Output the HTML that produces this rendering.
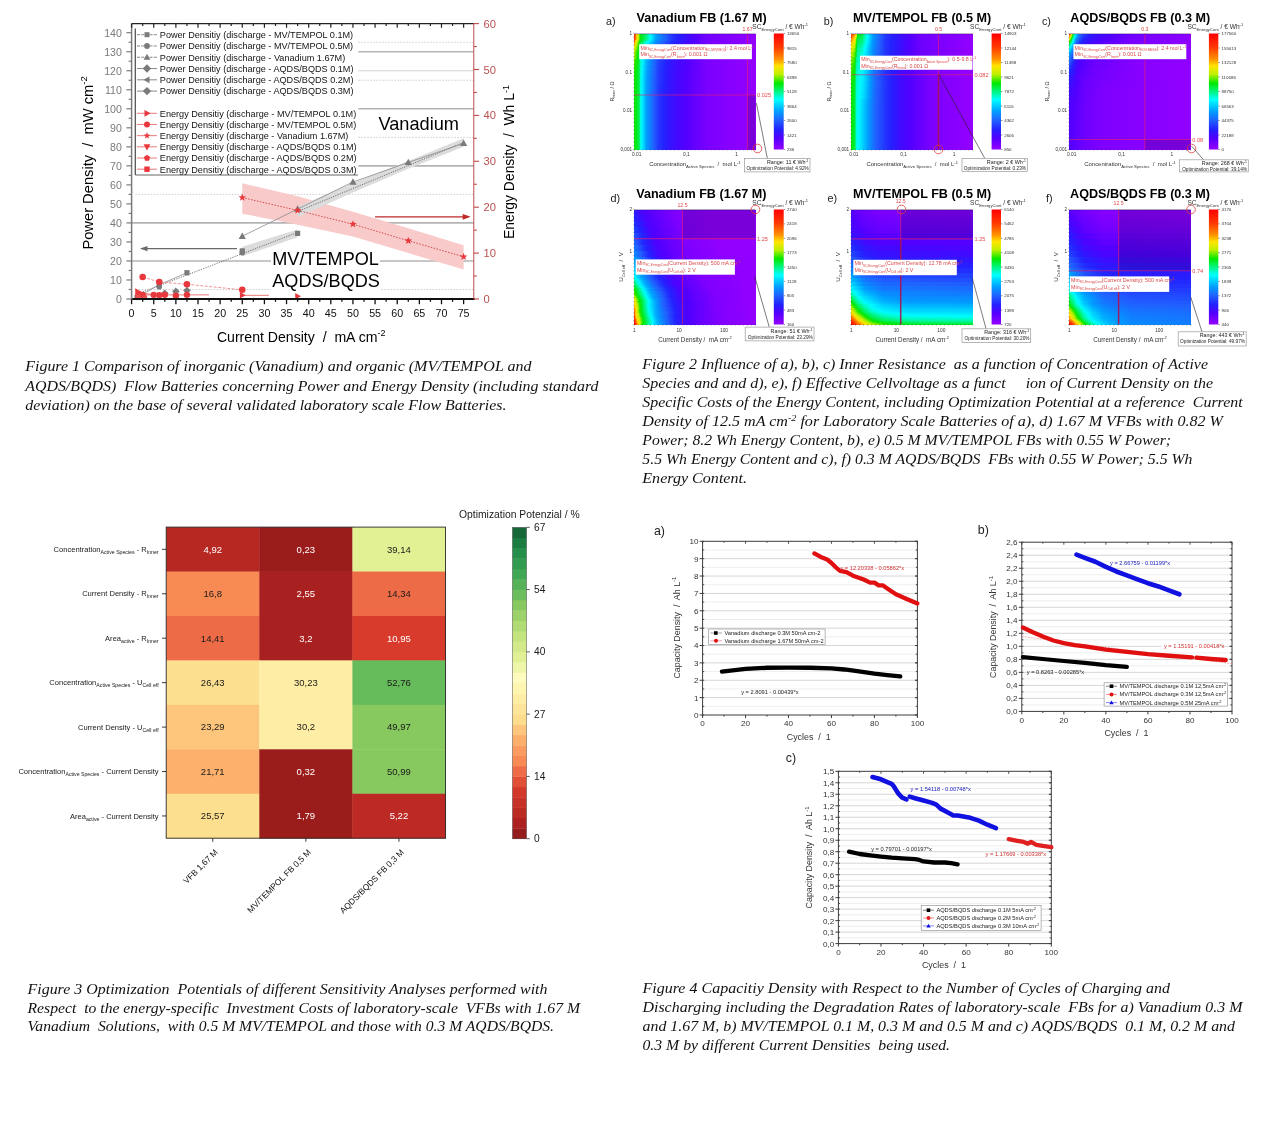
<!DOCTYPE html><html><head><meta charset="utf-8"><title>Flow Battery Figures</title><style>html,body{margin:0;padding:0;background:#fff;width:1280px;height:1134px;overflow:hidden;}body{position:relative;}</style></head><body><svg width="1280" height="1134" viewBox="0 0 1280 1134" style="position:absolute;left:0;top:0;font-family:'Liberation Sans',Arial,sans-serif"><defs><filter id="cmap" x="0" y="0" width="1" height="1" color-interpolation-filters="sRGB"><feComponentTransfer><feFuncR type="table" tableValues="0.58 0.52 0.45 0.39 0.32 0.26 0.19 0.14 0.14 0.13 0.13 0.09 0.05 0.01 0 0 0 0 0 0 0 0 0 0.05 0.28 0.52 0.75 0.84 0.93 1 1 1 1 1 1 1 1 1 1 1 1"/><feFuncG type="table" tableValues="0 0 0 0 0 0.04 0.09 0.14 0.22 0.3 0.38 0.45 0.53 0.61 0.7 0.8 0.89 0.98 0.99 0.97 0.96 0.94 0.92 0.91 0.92 0.93 0.94 0.92 0.91 0.87 0.73 0.59 0.5 0.41 0.33 0.24 0.19 0.14 0.09 0.05 0"/><feFuncB type="table" tableValues="1 1 1 1 1 1 1 1 1 1 1 1 1 1 1 1 1 1 0.86 0.68 0.5 0.32 0.14 0 0 0 0 0 0 0 0 0 0 0 0 0 0 0 0 0 0"/></feComponentTransfer></filter><linearGradient id="h1"><stop offset="0" stop-color="#e6e6e6"/><stop offset="0.01" stop-color="#d2d2d2"/><stop offset="0.02" stop-color="#bababa"/><stop offset="0.05" stop-color="#919191"/><stop offset="0.1" stop-color="#808080"/><stop offset="0.18" stop-color="#545454"/><stop offset="0.32" stop-color="#313131"/><stop offset="0.6" stop-color="#0d0d0d"/><stop offset="1" stop-color="#000000"/></linearGradient><linearGradient id="h2"><stop offset="0" stop-color="#e4e4e4"/><stop offset="0.01" stop-color="#d0d0d0"/><stop offset="0.02" stop-color="#b9b9b9"/><stop offset="0.05" stop-color="#919191"/><stop offset="0.1" stop-color="#7f7f7f"/><stop offset="0.18" stop-color="#535353"/><stop offset="0.32" stop-color="#313131"/><stop offset="0.6" stop-color="#0d0d0d"/><stop offset="1" stop-color="#000000"/></linearGradient><linearGradient id="h3"><stop offset="0" stop-color="#dcdcdc"/><stop offset="0.01" stop-color="#bebebe"/><stop offset="0.05" stop-color="#8e8e8e"/><stop offset="0.1" stop-color="#7b7b7b"/><stop offset="0.18" stop-color="#515151"/><stop offset="0.32" stop-color="#2f2f2f"/><stop offset="0.6" stop-color="#0c0c0c"/><stop offset="1" stop-color="#000000"/></linearGradient><linearGradient id="h4"><stop offset="0" stop-color="#d5d5d5"/><stop offset="0.01" stop-color="#bababa"/><stop offset="0.05" stop-color="#8b8b8b"/><stop offset="0.18" stop-color="#4f4f4f"/><stop offset="0.32" stop-color="#2e2e2e"/><stop offset="0.6" stop-color="#0c0c0c"/><stop offset="1" stop-color="#000000"/></linearGradient><linearGradient id="h5"><stop offset="0" stop-color="#cfcfcf"/><stop offset="0.01" stop-color="#b6b6b6"/><stop offset="0.04" stop-color="#949494"/><stop offset="0.05" stop-color="#898989"/><stop offset="0.18" stop-color="#4c4c4c"/><stop offset="0.32" stop-color="#2d2d2d"/><stop offset="0.6" stop-color="#0c0c0c"/><stop offset="1" stop-color="#000000"/></linearGradient><linearGradient id="h6"><stop offset="0" stop-color="#c9c9c9"/><stop offset="0.01" stop-color="#b2b2b2"/><stop offset="0.04" stop-color="#939393"/><stop offset="0.05" stop-color="#878787"/><stop offset="0.18" stop-color="#4b4b4b"/><stop offset="0.32" stop-color="#2c2c2c"/><stop offset="0.6" stop-color="#0c0c0c"/><stop offset="1" stop-color="#000000"/></linearGradient><linearGradient id="h7"><stop offset="0" stop-color="#c4c4c4"/><stop offset="0.01" stop-color="#afafaf"/><stop offset="0.04" stop-color="#929292"/><stop offset="0.05" stop-color="#858585"/><stop offset="0.18" stop-color="#494949"/><stop offset="0.32" stop-color="#2b2b2b"/><stop offset="0.6" stop-color="#0c0c0c"/><stop offset="1" stop-color="#000000"/></linearGradient><linearGradient id="h8"><stop offset="0" stop-color="#bfbfbf"/><stop offset="0.01" stop-color="#acacac"/><stop offset="0.04" stop-color="#919191"/><stop offset="0.05" stop-color="#838383"/><stop offset="0.13" stop-color="#5c5c5c"/><stop offset="0.18" stop-color="#474747"/><stop offset="0.32" stop-color="#2a2a2a"/><stop offset="0.6" stop-color="#0c0c0c"/><stop offset="1" stop-color="#000000"/></linearGradient><linearGradient id="h9"><stop offset="0" stop-color="#bbbbbb"/><stop offset="0.01" stop-color="#a9a9a9"/><stop offset="0.04" stop-color="#909090"/><stop offset="0.05" stop-color="#828282"/><stop offset="0.12" stop-color="#5e5e5e"/><stop offset="0.18" stop-color="#464646"/><stop offset="0.3" stop-color="#2d2d2d"/><stop offset="0.6" stop-color="#0b0b0b"/><stop offset="1" stop-color="#000000"/></linearGradient><linearGradient id="h10"><stop offset="0" stop-color="#b5b5b5"/><stop offset="0.01" stop-color="#a5a5a5"/><stop offset="0.04" stop-color="#8f8f8f"/><stop offset="0.05" stop-color="#808080"/><stop offset="0.1" stop-color="#666666"/><stop offset="0.18" stop-color="#444444"/><stop offset="0.3" stop-color="#2c2c2c"/><stop offset="0.6" stop-color="#0b0b0b"/><stop offset="1" stop-color="#000000"/></linearGradient><linearGradient id="h11"><stop offset="0" stop-color="#aeaeae"/><stop offset="0.01" stop-color="#a1a1a1"/><stop offset="0.04" stop-color="#8e8e8e"/><stop offset="0.05" stop-color="#7d7d7d"/><stop offset="0.1" stop-color="#636363"/><stop offset="0.18" stop-color="#424242"/><stop offset="0.3" stop-color="#2a2a2a"/><stop offset="0.6" stop-color="#0b0b0b"/><stop offset="1" stop-color="#000000"/></linearGradient><linearGradient id="h12"><stop offset="0" stop-color="#a8a8a8"/><stop offset="0.01" stop-color="#9d9d9d"/><stop offset="0.04" stop-color="#8c8c8c"/><stop offset="0.05" stop-color="#7b7b7b"/><stop offset="0.1" stop-color="#606060"/><stop offset="0.2" stop-color="#3b3b3b"/><stop offset="0.3" stop-color="#292929"/><stop offset="0.6" stop-color="#0b0b0b"/><stop offset="1" stop-color="#000000"/></linearGradient><linearGradient id="h13"><stop offset="0" stop-color="#a1a1a1"/><stop offset="0.04" stop-color="#8b8b8b"/><stop offset="0.05" stop-color="#787878"/><stop offset="0.1" stop-color="#5c5c5c"/><stop offset="0.2" stop-color="#383838"/><stop offset="0.3" stop-color="#272727"/><stop offset="0.6" stop-color="#0b0b0b"/><stop offset="1" stop-color="#000000"/></linearGradient><linearGradient id="h14"><stop offset="0" stop-color="#9a9a9a"/><stop offset="0.04" stop-color="#898989"/><stop offset="0.05" stop-color="#767676"/><stop offset="0.1" stop-color="#595959"/><stop offset="0.2" stop-color="#363636"/><stop offset="0.3" stop-color="#262626"/><stop offset="0.6" stop-color="#0a0a0a"/><stop offset="1" stop-color="#000000"/></linearGradient><linearGradient id="h15"><stop offset="0" stop-color="#969696"/><stop offset="0.04" stop-color="#888888"/><stop offset="0.05" stop-color="#757575"/><stop offset="0.1" stop-color="#575757"/><stop offset="0.2" stop-color="#353535"/><stop offset="0.3" stop-color="#252525"/><stop offset="0.6" stop-color="#0a0a0a"/><stop offset="1" stop-color="#000000"/></linearGradient><linearGradient id="h16"><stop offset="0" stop-color="#949494"/><stop offset="0.04" stop-color="#888888"/><stop offset="0.05" stop-color="#747474"/><stop offset="0.1" stop-color="#565656"/><stop offset="0.2" stop-color="#343434"/><stop offset="0.3" stop-color="#242424"/><stop offset="0.6" stop-color="#0a0a0a"/><stop offset="1" stop-color="#000000"/></linearGradient><linearGradient id="h17"><stop offset="0" stop-color="#939393"/><stop offset="0.04" stop-color="#888888"/><stop offset="0.05" stop-color="#737373"/><stop offset="0.1" stop-color="#555555"/><stop offset="0.2" stop-color="#343434"/><stop offset="0.3" stop-color="#242424"/><stop offset="0.6" stop-color="#0a0a0a"/><stop offset="1" stop-color="#000000"/></linearGradient><linearGradient id="h18"><stop offset="0" stop-color="#929292"/><stop offset="0.04" stop-color="#888888"/><stop offset="0.05" stop-color="#737373"/><stop offset="0.1" stop-color="#555555"/><stop offset="0.2" stop-color="#333333"/><stop offset="0.3" stop-color="#242424"/><stop offset="0.6" stop-color="#0a0a0a"/><stop offset="1" stop-color="#000000"/></linearGradient><linearGradient id="h19"><stop offset="0" stop-color="#929292"/><stop offset="0.04" stop-color="#888888"/><stop offset="0.05" stop-color="#737373"/><stop offset="0.1" stop-color="#545454"/><stop offset="0.2" stop-color="#333333"/><stop offset="0.3" stop-color="#242424"/><stop offset="0.6" stop-color="#0a0a0a"/><stop offset="1" stop-color="#000000"/></linearGradient><linearGradient id="h20"><stop offset="0" stop-color="#929292"/><stop offset="0.04" stop-color="#878787"/><stop offset="0.05" stop-color="#737373"/><stop offset="0.1" stop-color="#545454"/><stop offset="0.2" stop-color="#333333"/><stop offset="0.3" stop-color="#242424"/><stop offset="0.6" stop-color="#0a0a0a"/><stop offset="1" stop-color="#000000"/></linearGradient><linearGradient id="h21"><stop offset="0" stop-color="#919191"/><stop offset="0.04" stop-color="#878787"/><stop offset="0.05" stop-color="#737373"/><stop offset="0.1" stop-color="#545454"/><stop offset="0.2" stop-color="#333333"/><stop offset="0.3" stop-color="#242424"/><stop offset="0.6" stop-color="#0a0a0a"/><stop offset="1" stop-color="#000000"/></linearGradient><linearGradient id="h22"><stop offset="0" stop-color="#919191"/><stop offset="0.04" stop-color="#878787"/><stop offset="0.05" stop-color="#737373"/><stop offset="0.1" stop-color="#545454"/><stop offset="0.2" stop-color="#333333"/><stop offset="0.3" stop-color="#242424"/><stop offset="0.6" stop-color="#0a0a0a"/><stop offset="1" stop-color="#000000"/></linearGradient><linearGradient id="h23"><stop offset="0" stop-color="#919191"/><stop offset="0.04" stop-color="#878787"/><stop offset="0.05" stop-color="#737373"/><stop offset="0.1" stop-color="#545454"/><stop offset="0.2" stop-color="#333333"/><stop offset="0.3" stop-color="#242424"/><stop offset="0.6" stop-color="#0a0a0a"/><stop offset="1" stop-color="#000000"/></linearGradient><linearGradient id="h24"><stop offset="0" stop-color="#919191"/><stop offset="0.04" stop-color="#878787"/><stop offset="0.05" stop-color="#737373"/><stop offset="0.1" stop-color="#545454"/><stop offset="0.2" stop-color="#333333"/><stop offset="0.3" stop-color="#242424"/><stop offset="0.6" stop-color="#0a0a0a"/><stop offset="1" stop-color="#000000"/></linearGradient><linearGradient id="h25"><stop offset="0" stop-color="#919191"/><stop offset="0.04" stop-color="#878787"/><stop offset="0.05" stop-color="#737373"/><stop offset="0.1" stop-color="#545454"/><stop offset="0.2" stop-color="#333333"/><stop offset="0.3" stop-color="#242424"/><stop offset="0.6" stop-color="#0a0a0a"/><stop offset="1" stop-color="#000000"/></linearGradient><linearGradient id="h26"><stop offset="0" stop-color="#919191"/><stop offset="0.04" stop-color="#878787"/><stop offset="0.05" stop-color="#737373"/><stop offset="0.1" stop-color="#545454"/><stop offset="0.2" stop-color="#333333"/><stop offset="0.3" stop-color="#242424"/><stop offset="0.6" stop-color="#0a0a0a"/><stop offset="1" stop-color="#000000"/></linearGradient><linearGradient id="h27"><stop offset="0" stop-color="#919191"/><stop offset="0.04" stop-color="#878787"/><stop offset="0.05" stop-color="#737373"/><stop offset="0.1" stop-color="#545454"/><stop offset="0.2" stop-color="#333333"/><stop offset="0.3" stop-color="#242424"/><stop offset="0.6" stop-color="#0a0a0a"/><stop offset="1" stop-color="#000000"/></linearGradient><linearGradient id="h28"><stop offset="0" stop-color="#919191"/><stop offset="0.04" stop-color="#878787"/><stop offset="0.05" stop-color="#737373"/><stop offset="0.1" stop-color="#545454"/><stop offset="0.2" stop-color="#333333"/><stop offset="0.3" stop-color="#242424"/><stop offset="0.6" stop-color="#0a0a0a"/><stop offset="1" stop-color="#000000"/></linearGradient><linearGradient id="h29"><stop offset="0" stop-color="#919191"/><stop offset="0.04" stop-color="#878787"/><stop offset="0.05" stop-color="#737373"/><stop offset="0.1" stop-color="#545454"/><stop offset="0.2" stop-color="#333333"/><stop offset="0.3" stop-color="#242424"/><stop offset="0.6" stop-color="#0a0a0a"/><stop offset="1" stop-color="#000000"/></linearGradient><linearGradient id="cb30" x1="0" y1="0" x2="0" y2="1"><stop offset="0" stop-color="rgb(255,0,0)"/><stop offset="0.12" stop-color="rgb(255,58,0)"/><stop offset="0.22" stop-color="rgb(255,144,0)"/><stop offset="0.28" stop-color="rgb(255,228,0)"/><stop offset="0.35" stop-color="rgb(192,240,0)"/><stop offset="0.43" stop-color="rgb(0,232,0)"/><stop offset="0.5" stop-color="rgb(0,245,128)"/><stop offset="0.57" stop-color="rgb(0,255,255)"/><stop offset="0.67" stop-color="rgb(0,160,255)"/><stop offset="0.75" stop-color="rgb(32,96,255)"/><stop offset="0.83" stop-color="rgb(36,32,255)"/><stop offset="0.9" stop-color="rgb(82,0,255)"/><stop offset="1" stop-color="rgb(148,0,255)"/></linearGradient><linearGradient id="h31"><stop offset="0" stop-color="#e4e4e4"/><stop offset="0.03" stop-color="#c3c3c3"/><stop offset="0.04" stop-color="#b7b7b7"/><stop offset="0.05" stop-color="#919191"/><stop offset="0.09" stop-color="#8a8a8a"/><stop offset="0.13" stop-color="#6d6d6d"/><stop offset="0.18" stop-color="#545454"/><stop offset="0.28" stop-color="#333333"/><stop offset="0.57" stop-color="#0d0d0d"/><stop offset="1" stop-color="#000000"/></linearGradient><linearGradient id="h32"><stop offset="0" stop-color="#e0e0e0"/><stop offset="0.03" stop-color="#c1c1c1"/><stop offset="0.04" stop-color="#b4b4b4"/><stop offset="0.05" stop-color="#909090"/><stop offset="0.09" stop-color="#898989"/><stop offset="0.13" stop-color="#6c6c6c"/><stop offset="0.18" stop-color="#535353"/><stop offset="0.28" stop-color="#333333"/><stop offset="0.57" stop-color="#0d0d0d"/><stop offset="1" stop-color="#000000"/></linearGradient><linearGradient id="h33"><stop offset="0" stop-color="#dbdbdb"/><stop offset="0.03" stop-color="#bebebe"/><stop offset="0.04" stop-color="#b1b1b1"/><stop offset="0.05" stop-color="#8e8e8e"/><stop offset="0.09" stop-color="#878787"/><stop offset="0.13" stop-color="#6b6b6b"/><stop offset="0.18" stop-color="#535353"/><stop offset="0.28" stop-color="#333333"/><stop offset="0.57" stop-color="#0d0d0d"/><stop offset="1" stop-color="#000000"/></linearGradient><linearGradient id="h34"><stop offset="0" stop-color="#d6d6d6"/><stop offset="0.03" stop-color="#bbbbbb"/><stop offset="0.04" stop-color="#aeaeae"/><stop offset="0.05" stop-color="#8c8c8c"/><stop offset="0.09" stop-color="#868686"/><stop offset="0.18" stop-color="#525252"/><stop offset="0.28" stop-color="#333333"/><stop offset="0.57" stop-color="#0e0e0e"/><stop offset="1" stop-color="#000000"/></linearGradient><linearGradient id="h35"><stop offset="0" stop-color="#d2d2d2"/><stop offset="0.03" stop-color="#b8b8b8"/><stop offset="0.05" stop-color="#8b8b8b"/><stop offset="0.09" stop-color="#848484"/><stop offset="0.18" stop-color="#525252"/><stop offset="0.28" stop-color="#333333"/><stop offset="0.57" stop-color="#0e0e0e"/><stop offset="1" stop-color="#000000"/></linearGradient><linearGradient id="h36"><stop offset="0" stop-color="#cdcdcd"/><stop offset="0.03" stop-color="#b5b5b5"/><stop offset="0.05" stop-color="#898989"/><stop offset="0.09" stop-color="#838383"/><stop offset="0.18" stop-color="#515151"/><stop offset="0.28" stop-color="#333333"/><stop offset="0.57" stop-color="#0e0e0e"/><stop offset="1" stop-color="#000000"/></linearGradient><linearGradient id="h37"><stop offset="0" stop-color="#c8c8c8"/><stop offset="0.03" stop-color="#b1b1b1"/><stop offset="0.05" stop-color="#888888"/><stop offset="0.09" stop-color="#818181"/><stop offset="0.18" stop-color="#515151"/><stop offset="0.28" stop-color="#323232"/><stop offset="0.57" stop-color="#0e0e0e"/><stop offset="1" stop-color="#000000"/></linearGradient><linearGradient id="h38"><stop offset="0" stop-color="#c1c1c1"/><stop offset="0.03" stop-color="#adadad"/><stop offset="0.05" stop-color="#858585"/><stop offset="0.09" stop-color="#7f7f7f"/><stop offset="0.18" stop-color="#505050"/><stop offset="0.28" stop-color="#323232"/><stop offset="0.57" stop-color="#0e0e0e"/><stop offset="1" stop-color="#000000"/></linearGradient><linearGradient id="h39"><stop offset="0" stop-color="#bbbbbb"/><stop offset="0.03" stop-color="#a9a9a9"/><stop offset="0.05" stop-color="#838383"/><stop offset="0.09" stop-color="#7d7d7d"/><stop offset="0.18" stop-color="#4f4f4f"/><stop offset="0.28" stop-color="#323232"/><stop offset="0.57" stop-color="#0f0f0f"/><stop offset="1" stop-color="#000000"/></linearGradient><linearGradient id="h40"><stop offset="0" stop-color="#b4b4b4"/><stop offset="0.03" stop-color="#a4a4a4"/><stop offset="0.05" stop-color="#818181"/><stop offset="0.09" stop-color="#787878"/><stop offset="0.18" stop-color="#4f4f4f"/><stop offset="0.28" stop-color="#323232"/><stop offset="0.57" stop-color="#0f0f0f"/><stop offset="1" stop-color="#000000"/></linearGradient><linearGradient id="h41"><stop offset="0" stop-color="#adadad"/><stop offset="0.03" stop-color="#9f9f9f"/><stop offset="0.05" stop-color="#7e7e7e"/><stop offset="0.09" stop-color="#757575"/><stop offset="0.18" stop-color="#4d4d4d"/><stop offset="0.28" stop-color="#323232"/><stop offset="0.57" stop-color="#0f0f0f"/><stop offset="1" stop-color="#000000"/></linearGradient><linearGradient id="h42"><stop offset="0" stop-color="#a6a6a6"/><stop offset="0.03" stop-color="#9a9a9a"/><stop offset="0.05" stop-color="#7b7b7b"/><stop offset="0.09" stop-color="#727272"/><stop offset="0.2" stop-color="#464646"/><stop offset="0.28" stop-color="#323232"/><stop offset="0.57" stop-color="#0f0f0f"/><stop offset="1" stop-color="#000000"/></linearGradient><linearGradient id="h43"><stop offset="0" stop-color="#9f9f9f"/><stop offset="0.03" stop-color="#959595"/><stop offset="0.04" stop-color="#7e7e7e"/><stop offset="0.05" stop-color="#787878"/><stop offset="0.09" stop-color="#6f6f6f"/><stop offset="0.2" stop-color="#454545"/><stop offset="0.28" stop-color="#323232"/><stop offset="0.4" stop-color="#212121"/><stop offset="0.65" stop-color="#0a0a0a"/><stop offset="1" stop-color="#000000"/></linearGradient><linearGradient id="h44"><stop offset="0" stop-color="#9b9b9b"/><stop offset="0.03" stop-color="#919191"/><stop offset="0.04" stop-color="#7a7a7a"/><stop offset="0.05" stop-color="#767676"/><stop offset="0.1" stop-color="#6b6b6b"/><stop offset="0.2" stop-color="#444444"/><stop offset="0.28" stop-color="#323232"/><stop offset="0.4" stop-color="#212121"/><stop offset="0.65" stop-color="#0a0a0a"/><stop offset="1" stop-color="#000000"/></linearGradient><linearGradient id="h45"><stop offset="0" stop-color="#989898"/><stop offset="0.03" stop-color="#8e8e8e"/><stop offset="0.04" stop-color="#787878"/><stop offset="0.05" stop-color="#747474"/><stop offset="0.1" stop-color="#696969"/><stop offset="0.2" stop-color="#434343"/><stop offset="0.28" stop-color="#323232"/><stop offset="0.4" stop-color="#212121"/><stop offset="0.65" stop-color="#0a0a0a"/><stop offset="1" stop-color="#000000"/></linearGradient><linearGradient id="h46"><stop offset="0" stop-color="#969696"/><stop offset="0.03" stop-color="#8d8d8d"/><stop offset="0.04" stop-color="#767676"/><stop offset="0.05" stop-color="#737373"/><stop offset="0.1" stop-color="#676767"/><stop offset="0.2" stop-color="#424242"/><stop offset="0.28" stop-color="#323232"/><stop offset="0.4" stop-color="#212121"/><stop offset="0.65" stop-color="#0a0a0a"/><stop offset="1" stop-color="#000000"/></linearGradient><linearGradient id="h47"><stop offset="0" stop-color="#949494"/><stop offset="0.03" stop-color="#8b8b8b"/><stop offset="0.04" stop-color="#757575"/><stop offset="0.05" stop-color="#727272"/><stop offset="0.1" stop-color="#666666"/><stop offset="0.2" stop-color="#424242"/><stop offset="0.28" stop-color="#323232"/><stop offset="0.4" stop-color="#212121"/><stop offset="0.65" stop-color="#0a0a0a"/><stop offset="1" stop-color="#000000"/></linearGradient><linearGradient id="h48"><stop offset="0" stop-color="#939393"/><stop offset="0.03" stop-color="#8a8a8a"/><stop offset="0.04" stop-color="#747474"/><stop offset="0.05" stop-color="#727272"/><stop offset="0.1" stop-color="#656565"/><stop offset="0.2" stop-color="#414141"/><stop offset="0.28" stop-color="#323232"/><stop offset="0.4" stop-color="#212121"/><stop offset="0.65" stop-color="#0a0a0a"/><stop offset="1" stop-color="#000000"/></linearGradient><linearGradient id="h49"><stop offset="0" stop-color="#939393"/><stop offset="0.03" stop-color="#8a8a8a"/><stop offset="0.04" stop-color="#737373"/><stop offset="0.05" stop-color="#717171"/><stop offset="0.1" stop-color="#646464"/><stop offset="0.2" stop-color="#414141"/><stop offset="0.28" stop-color="#323232"/><stop offset="0.4" stop-color="#212121"/><stop offset="0.65" stop-color="#0a0a0a"/><stop offset="1" stop-color="#000000"/></linearGradient><linearGradient id="h50"><stop offset="0" stop-color="#929292"/><stop offset="0.03" stop-color="#898989"/><stop offset="0.04" stop-color="#737373"/><stop offset="0.2" stop-color="#414141"/><stop offset="0.28" stop-color="#323232"/><stop offset="0.4" stop-color="#212121"/><stop offset="0.65" stop-color="#0a0a0a"/><stop offset="1" stop-color="#000000"/></linearGradient><linearGradient id="h51"><stop offset="0" stop-color="#929292"/><stop offset="0.03" stop-color="#898989"/><stop offset="0.04" stop-color="#737373"/><stop offset="0.2" stop-color="#404040"/><stop offset="0.28" stop-color="#323232"/><stop offset="0.4" stop-color="#212121"/><stop offset="0.65" stop-color="#0a0a0a"/><stop offset="1" stop-color="#000000"/></linearGradient><linearGradient id="h52"><stop offset="0" stop-color="#929292"/><stop offset="0.03" stop-color="#898989"/><stop offset="0.04" stop-color="#727272"/><stop offset="0.2" stop-color="#404040"/><stop offset="0.28" stop-color="#323232"/><stop offset="0.4" stop-color="#212121"/><stop offset="0.65" stop-color="#0a0a0a"/><stop offset="1" stop-color="#000000"/></linearGradient><linearGradient id="h53"><stop offset="0" stop-color="#929292"/><stop offset="0.03" stop-color="#898989"/><stop offset="0.04" stop-color="#727272"/><stop offset="0.2" stop-color="#404040"/><stop offset="0.28" stop-color="#323232"/><stop offset="0.4" stop-color="#212121"/><stop offset="0.65" stop-color="#0a0a0a"/><stop offset="1" stop-color="#000000"/></linearGradient><linearGradient id="h54"><stop offset="0" stop-color="#929292"/><stop offset="0.03" stop-color="#898989"/><stop offset="0.04" stop-color="#727272"/><stop offset="0.2" stop-color="#404040"/><stop offset="0.28" stop-color="#323232"/><stop offset="0.4" stop-color="#212121"/><stop offset="0.65" stop-color="#0a0a0a"/><stop offset="1" stop-color="#000000"/></linearGradient><linearGradient id="h55"><stop offset="0" stop-color="#919191"/><stop offset="0.03" stop-color="#888888"/><stop offset="0.04" stop-color="#727272"/><stop offset="0.2" stop-color="#404040"/><stop offset="0.28" stop-color="#323232"/><stop offset="0.4" stop-color="#212121"/><stop offset="0.65" stop-color="#0a0a0a"/><stop offset="1" stop-color="#000000"/></linearGradient><linearGradient id="h56"><stop offset="0" stop-color="#919191"/><stop offset="0.03" stop-color="#888888"/><stop offset="0.04" stop-color="#727272"/><stop offset="0.2" stop-color="#404040"/><stop offset="0.28" stop-color="#323232"/><stop offset="0.4" stop-color="#212121"/><stop offset="0.65" stop-color="#0a0a0a"/><stop offset="1" stop-color="#000000"/></linearGradient><linearGradient id="h57"><stop offset="0" stop-color="#919191"/><stop offset="0.03" stop-color="#888888"/><stop offset="0.04" stop-color="#727272"/><stop offset="0.2" stop-color="#404040"/><stop offset="0.28" stop-color="#323232"/><stop offset="0.4" stop-color="#212121"/><stop offset="0.65" stop-color="#0a0a0a"/><stop offset="1" stop-color="#000000"/></linearGradient><linearGradient id="h58"><stop offset="0" stop-color="#919191"/><stop offset="0.03" stop-color="#888888"/><stop offset="0.04" stop-color="#727272"/><stop offset="0.2" stop-color="#404040"/><stop offset="0.28" stop-color="#323232"/><stop offset="0.4" stop-color="#212121"/><stop offset="0.65" stop-color="#0a0a0a"/><stop offset="1" stop-color="#000000"/></linearGradient><linearGradient id="cb59" x1="0" y1="0" x2="0" y2="1"><stop offset="0" stop-color="rgb(255,0,0)"/><stop offset="0.12" stop-color="rgb(255,58,0)"/><stop offset="0.22" stop-color="rgb(255,144,0)"/><stop offset="0.28" stop-color="rgb(255,228,0)"/><stop offset="0.35" stop-color="rgb(192,240,0)"/><stop offset="0.43" stop-color="rgb(0,232,0)"/><stop offset="0.5" stop-color="rgb(0,245,128)"/><stop offset="0.57" stop-color="rgb(0,255,255)"/><stop offset="0.67" stop-color="rgb(0,160,255)"/><stop offset="0.75" stop-color="rgb(32,96,255)"/><stop offset="0.83" stop-color="rgb(36,32,255)"/><stop offset="0.9" stop-color="rgb(82,0,255)"/><stop offset="1" stop-color="rgb(148,0,255)"/></linearGradient><linearGradient id="h60"><stop offset="0" stop-color="#e8e8e8"/><stop offset="0.03" stop-color="#999999"/><stop offset="0.05" stop-color="#717171"/><stop offset="0.08" stop-color="#4b4b4b"/><stop offset="0.12" stop-color="#373737"/><stop offset="0.2" stop-color="#282828"/><stop offset="0.5" stop-color="#0f0f0f"/><stop offset="1" stop-color="#030303"/></linearGradient><linearGradient id="h61"><stop offset="0" stop-color="#dfdfdf"/><stop offset="0.03" stop-color="#949494"/><stop offset="0.05" stop-color="#6d6d6d"/><stop offset="0.08" stop-color="#494949"/><stop offset="0.12" stop-color="#353535"/><stop offset="0.2" stop-color="#272727"/><stop offset="0.5" stop-color="#0f0f0f"/><stop offset="1" stop-color="#020202"/></linearGradient><linearGradient id="h62"><stop offset="0" stop-color="#d3d3d3"/><stop offset="0.03" stop-color="#8c8c8c"/><stop offset="0.05" stop-color="#686868"/><stop offset="0.08" stop-color="#454545"/><stop offset="0.12" stop-color="#333333"/><stop offset="0.2" stop-color="#252525"/><stop offset="0.5" stop-color="#0e0e0e"/><stop offset="1" stop-color="#020202"/></linearGradient><linearGradient id="h63"><stop offset="0" stop-color="#c8c8c8"/><stop offset="0.03" stop-color="#868686"/><stop offset="0.05" stop-color="#636363"/><stop offset="0.08" stop-color="#424242"/><stop offset="0.12" stop-color="#313131"/><stop offset="0.2" stop-color="#242424"/><stop offset="0.5" stop-color="#0e0e0e"/><stop offset="1" stop-color="#020202"/></linearGradient><linearGradient id="h64"><stop offset="0" stop-color="#bebebe"/><stop offset="0.03" stop-color="#7f7f7f"/><stop offset="0.05" stop-color="#5f5f5f"/><stop offset="0.08" stop-color="#404040"/><stop offset="0.12" stop-color="#2f2f2f"/><stop offset="0.2" stop-color="#222222"/><stop offset="0.5" stop-color="#0d0d0d"/><stop offset="1" stop-color="#020202"/></linearGradient><linearGradient id="h65"><stop offset="0" stop-color="#b5b5b5"/><stop offset="0.03" stop-color="#797979"/><stop offset="0.05" stop-color="#5a5a5a"/><stop offset="0.08" stop-color="#3d3d3d"/><stop offset="0.12" stop-color="#2d2d2d"/><stop offset="0.2" stop-color="#212121"/><stop offset="0.5" stop-color="#0d0d0d"/><stop offset="1" stop-color="#020202"/></linearGradient><linearGradient id="h66"><stop offset="0" stop-color="#acacac"/><stop offset="0.05" stop-color="#565656"/><stop offset="0.08" stop-color="#3a3a3a"/><stop offset="0.12" stop-color="#2b2b2b"/><stop offset="0.2" stop-color="#202020"/><stop offset="0.5" stop-color="#0c0c0c"/><stop offset="1" stop-color="#020202"/></linearGradient><linearGradient id="h67"><stop offset="0" stop-color="#a3a3a3"/><stop offset="0.05" stop-color="#535353"/><stop offset="0.08" stop-color="#383838"/><stop offset="0.12" stop-color="#292929"/><stop offset="0.2" stop-color="#1f1f1f"/><stop offset="0.5" stop-color="#0c0c0c"/><stop offset="1" stop-color="#020202"/></linearGradient><linearGradient id="h68"><stop offset="0" stop-color="#9b9b9b"/><stop offset="0.05" stop-color="#4f4f4f"/><stop offset="0.08" stop-color="#363636"/><stop offset="0.12" stop-color="#282828"/><stop offset="0.3" stop-color="#161616"/><stop offset="0.5" stop-color="#0b0b0b"/><stop offset="1" stop-color="#020202"/></linearGradient><linearGradient id="h69"><stop offset="0" stop-color="#949494"/><stop offset="0.05" stop-color="#4c4c4c"/><stop offset="0.08" stop-color="#343434"/><stop offset="0.12" stop-color="#262626"/><stop offset="0.3" stop-color="#151515"/><stop offset="0.5" stop-color="#0b0b0b"/><stop offset="1" stop-color="#020202"/></linearGradient><linearGradient id="h70"><stop offset="0" stop-color="#8d8d8d"/><stop offset="0.05" stop-color="#484848"/><stop offset="0.07" stop-color="#363636"/><stop offset="0.12" stop-color="#262626"/><stop offset="0.15" stop-color="#212121"/><stop offset="0.3" stop-color="#141414"/><stop offset="0.5" stop-color="#0a0a0a"/><stop offset="1" stop-color="#020202"/></linearGradient><linearGradient id="h71"><stop offset="0" stop-color="#868686"/><stop offset="0.05" stop-color="#454545"/><stop offset="0.07" stop-color="#343434"/><stop offset="0.12" stop-color="#252525"/><stop offset="0.15" stop-color="#202020"/><stop offset="0.3" stop-color="#141414"/><stop offset="0.5" stop-color="#0a0a0a"/><stop offset="1" stop-color="#020202"/></linearGradient><linearGradient id="h72"><stop offset="0" stop-color="#808080"/><stop offset="0.05" stop-color="#434343"/><stop offset="0.07" stop-color="#323232"/><stop offset="0.12" stop-color="#232323"/><stop offset="0.15" stop-color="#1f1f1f"/><stop offset="0.3" stop-color="#131313"/><stop offset="0.5" stop-color="#0a0a0a"/><stop offset="1" stop-color="#020202"/></linearGradient><linearGradient id="h73"><stop offset="0" stop-color="#7a7a7a"/><stop offset="0.05" stop-color="#404040"/><stop offset="0.07" stop-color="#303030"/><stop offset="0.12" stop-color="#222222"/><stop offset="0.15" stop-color="#1e1e1e"/><stop offset="0.5" stop-color="#0a0a0a"/><stop offset="1" stop-color="#020202"/></linearGradient><linearGradient id="h74"><stop offset="0" stop-color="#747474"/><stop offset="0.05" stop-color="#3d3d3d"/><stop offset="0.07" stop-color="#2e2e2e"/><stop offset="0.12" stop-color="#212121"/><stop offset="0.15" stop-color="#1d1d1d"/><stop offset="0.5" stop-color="#090909"/><stop offset="1" stop-color="#020202"/></linearGradient><linearGradient id="h75"><stop offset="0" stop-color="#6f6f6f"/><stop offset="0.05" stop-color="#3b3b3b"/><stop offset="0.07" stop-color="#2d2d2d"/><stop offset="0.15" stop-color="#1c1c1c"/><stop offset="0.5" stop-color="#090909"/><stop offset="1" stop-color="#020202"/></linearGradient><linearGradient id="h76"><stop offset="0" stop-color="#6a6a6a"/><stop offset="0.05" stop-color="#393939"/><stop offset="0.07" stop-color="#2b2b2b"/><stop offset="0.15" stop-color="#1b1b1b"/><stop offset="0.5" stop-color="#090909"/><stop offset="1" stop-color="#020202"/></linearGradient><linearGradient id="h77"><stop offset="0" stop-color="#656565"/><stop offset="0.05" stop-color="#373737"/><stop offset="0.07" stop-color="#2a2a2a"/><stop offset="0.15" stop-color="#1a1a1a"/><stop offset="0.5" stop-color="#080808"/><stop offset="1" stop-color="#020202"/></linearGradient><linearGradient id="h78"><stop offset="0" stop-color="#616161"/><stop offset="0.05" stop-color="#353535"/><stop offset="0.07" stop-color="#292929"/><stop offset="0.15" stop-color="#1a1a1a"/><stop offset="0.5" stop-color="#080808"/><stop offset="1" stop-color="#020202"/></linearGradient><linearGradient id="h79"><stop offset="0" stop-color="#5d5d5d"/><stop offset="0.05" stop-color="#333333"/><stop offset="0.07" stop-color="#272727"/><stop offset="0.15" stop-color="#191919"/><stop offset="0.5" stop-color="#080808"/><stop offset="1" stop-color="#020202"/></linearGradient><linearGradient id="h80"><stop offset="0" stop-color="#575757"/><stop offset="0.05" stop-color="#303030"/><stop offset="0.07" stop-color="#252525"/><stop offset="0.15" stop-color="#181818"/><stop offset="0.5" stop-color="#080808"/><stop offset="1" stop-color="#020202"/></linearGradient><linearGradient id="h81"><stop offset="0" stop-color="#505050"/><stop offset="0.05" stop-color="#2d2d2d"/><stop offset="0.07" stop-color="#232323"/><stop offset="0.15" stop-color="#171717"/><stop offset="0.5" stop-color="#070707"/><stop offset="1" stop-color="#020202"/></linearGradient><linearGradient id="h82"><stop offset="0" stop-color="#4a4a4a"/><stop offset="0.05" stop-color="#2a2a2a"/><stop offset="0.07" stop-color="#212121"/><stop offset="0.15" stop-color="#151515"/><stop offset="0.5" stop-color="#070707"/><stop offset="1" stop-color="#020202"/></linearGradient><linearGradient id="h83"><stop offset="0" stop-color="#434343"/><stop offset="0.05" stop-color="#272727"/><stop offset="0.07" stop-color="#1f1f1f"/><stop offset="0.15" stop-color="#141414"/><stop offset="0.5" stop-color="#070707"/><stop offset="1" stop-color="#020202"/></linearGradient><linearGradient id="h84"><stop offset="0" stop-color="#3d3d3d"/><stop offset="0.05" stop-color="#242424"/><stop offset="0.08" stop-color="#1c1c1c"/><stop offset="0.2" stop-color="#101010"/><stop offset="0.6" stop-color="#040404"/><stop offset="1" stop-color="#010101"/></linearGradient><linearGradient id="h85"><stop offset="0" stop-color="#363636"/><stop offset="0.05" stop-color="#212121"/><stop offset="0.08" stop-color="#1a1a1a"/><stop offset="0.2" stop-color="#0f0f0f"/><stop offset="0.6" stop-color="#040404"/><stop offset="1" stop-color="#010101"/></linearGradient><linearGradient id="h86"><stop offset="0" stop-color="#2f2f2f"/><stop offset="0.08" stop-color="#181818"/><stop offset="0.2" stop-color="#0e0e0e"/><stop offset="0.6" stop-color="#040404"/><stop offset="1" stop-color="#010101"/></linearGradient><linearGradient id="h87"><stop offset="0" stop-color="#282828"/><stop offset="0.08" stop-color="#161616"/><stop offset="0.2" stop-color="#0d0d0d"/><stop offset="0.6" stop-color="#040404"/><stop offset="1" stop-color="#010101"/></linearGradient><linearGradient id="h88"><stop offset="0" stop-color="#242424"/><stop offset="0.12" stop-color="#111111"/><stop offset="0.3" stop-color="#090909"/><stop offset="1" stop-color="#010101"/></linearGradient><linearGradient id="h89"><stop offset="0" stop-color="#212121"/><stop offset="0.12" stop-color="#101010"/><stop offset="0.3" stop-color="#080808"/><stop offset="1" stop-color="#010101"/></linearGradient><linearGradient id="h90"><stop offset="0" stop-color="#1f1f1f"/><stop offset="0.15" stop-color="#0e0e0e"/><stop offset="0.3" stop-color="#080808"/><stop offset="1" stop-color="#010101"/></linearGradient><linearGradient id="h91"><stop offset="0" stop-color="#1d1d1d"/><stop offset="0.15" stop-color="#0d0d0d"/><stop offset="0.3" stop-color="#080808"/><stop offset="1" stop-color="#010101"/></linearGradient><linearGradient id="h92"><stop offset="0" stop-color="#1c1c1c"/><stop offset="0.15" stop-color="#0d0d0d"/><stop offset="0.3" stop-color="#080808"/><stop offset="1" stop-color="#010101"/></linearGradient><linearGradient id="h93"><stop offset="0" stop-color="#1b1b1b"/><stop offset="0.15" stop-color="#0d0d0d"/><stop offset="0.3" stop-color="#080808"/><stop offset="1" stop-color="#010101"/></linearGradient><linearGradient id="h94"><stop offset="0" stop-color="#1b1b1b"/><stop offset="0.15" stop-color="#0d0d0d"/><stop offset="0.3" stop-color="#080808"/><stop offset="1" stop-color="#010101"/></linearGradient><linearGradient id="h95"><stop offset="0" stop-color="#1a1a1a"/><stop offset="0.15" stop-color="#0d0d0d"/><stop offset="0.3" stop-color="#080808"/><stop offset="1" stop-color="#010101"/></linearGradient><linearGradient id="h96"><stop offset="0" stop-color="#1a1a1a"/><stop offset="0.15" stop-color="#0d0d0d"/><stop offset="0.3" stop-color="#080808"/><stop offset="1" stop-color="#010101"/></linearGradient><linearGradient id="h97"><stop offset="0" stop-color="#1a1a1a"/><stop offset="0.15" stop-color="#0d0d0d"/><stop offset="0.3" stop-color="#080808"/><stop offset="1" stop-color="#010101"/></linearGradient><linearGradient id="h98"><stop offset="0" stop-color="#1a1a1a"/><stop offset="0.15" stop-color="#0d0d0d"/><stop offset="0.3" stop-color="#080808"/><stop offset="1" stop-color="#010101"/></linearGradient><linearGradient id="h99"><stop offset="0" stop-color="#1a1a1a"/><stop offset="0.15" stop-color="#0d0d0d"/><stop offset="0.3" stop-color="#080808"/><stop offset="1" stop-color="#010101"/></linearGradient><linearGradient id="cb100" x1="0" y1="0" x2="0" y2="1"><stop offset="0" stop-color="rgb(255,0,0)"/><stop offset="0.12" stop-color="rgb(255,58,0)"/><stop offset="0.22" stop-color="rgb(255,144,0)"/><stop offset="0.28" stop-color="rgb(255,228,0)"/><stop offset="0.35" stop-color="rgb(192,240,0)"/><stop offset="0.43" stop-color="rgb(0,232,0)"/><stop offset="0.5" stop-color="rgb(0,245,128)"/><stop offset="0.57" stop-color="rgb(0,255,255)"/><stop offset="0.67" stop-color="rgb(0,160,255)"/><stop offset="0.75" stop-color="rgb(32,96,255)"/><stop offset="0.83" stop-color="rgb(36,32,255)"/><stop offset="0.9" stop-color="rgb(82,0,255)"/><stop offset="1" stop-color="rgb(148,0,255)"/></linearGradient><linearGradient id="h101"><stop offset="0" stop-color="#282828"/><stop offset="0.07" stop-color="#1c1c1c"/><stop offset="0.33" stop-color="#080808"/><stop offset="0.63" stop-color="#000000"/><stop offset="1" stop-color="#000000"/></linearGradient><linearGradient id="h102"><stop offset="0" stop-color="#2c2c2c"/><stop offset="0.09" stop-color="#1c1c1c"/><stop offset="0.35" stop-color="#080808"/><stop offset="0.65" stop-color="#000000"/><stop offset="1" stop-color="#000000"/></linearGradient><linearGradient id="h103"><stop offset="0" stop-color="#313131"/><stop offset="0.11" stop-color="#1c1c1c"/><stop offset="0.37" stop-color="#080808"/><stop offset="0.67" stop-color="#000000"/><stop offset="1" stop-color="#000000"/></linearGradient><linearGradient id="h104"><stop offset="0" stop-color="#363636"/><stop offset="0.13" stop-color="#1c1c1c"/><stop offset="0.39" stop-color="#080808"/><stop offset="0.69" stop-color="#000000"/><stop offset="1" stop-color="#000000"/></linearGradient><linearGradient id="h105"><stop offset="0" stop-color="#3b3b3b"/><stop offset="0.15" stop-color="#1c1c1c"/><stop offset="0.41" stop-color="#080808"/><stop offset="0.71" stop-color="#000000"/><stop offset="1" stop-color="#000000"/></linearGradient><linearGradient id="h106"><stop offset="0" stop-color="#414141"/><stop offset="0.07" stop-color="#2e2e2e"/><stop offset="0.17" stop-color="#1c1c1c"/><stop offset="0.43" stop-color="#080808"/><stop offset="0.73" stop-color="#000000"/><stop offset="1" stop-color="#000000"/></linearGradient><linearGradient id="h107"><stop offset="0" stop-color="#474747"/><stop offset="0.09" stop-color="#2e2e2e"/><stop offset="0.19" stop-color="#1c1c1c"/><stop offset="0.31" stop-color="#121212"/><stop offset="0.46" stop-color="#080808"/><stop offset="0.76" stop-color="#000000"/><stop offset="1" stop-color="#000000"/></linearGradient><linearGradient id="h108"><stop offset="0" stop-color="#4e4e4e"/><stop offset="0.12" stop-color="#2d2d2d"/><stop offset="0.21" stop-color="#1c1c1c"/><stop offset="0.33" stop-color="#121212"/><stop offset="0.47" stop-color="#080808"/><stop offset="0.78" stop-color="#000000"/><stop offset="1" stop-color="#000000"/></linearGradient><linearGradient id="h109"><stop offset="0" stop-color="#555555"/><stop offset="0.14" stop-color="#2e2e2e"/><stop offset="0.24" stop-color="#1c1c1c"/><stop offset="0.34" stop-color="#121212"/><stop offset="0.5" stop-color="#080808"/><stop offset="1" stop-color="#000000"/></linearGradient><linearGradient id="h110"><stop offset="0" stop-color="#5b5b5b"/><stop offset="0.07" stop-color="#424242"/><stop offset="0.16" stop-color="#2e2e2e"/><stop offset="0.26" stop-color="#1c1c1c"/><stop offset="0.36" stop-color="#121212"/><stop offset="0.52" stop-color="#080808"/><stop offset="1" stop-color="#000000"/></linearGradient><linearGradient id="h111"><stop offset="0" stop-color="#626262"/><stop offset="0.09" stop-color="#414141"/><stop offset="0.17" stop-color="#2e2e2e"/><stop offset="0.27" stop-color="#1c1c1c"/><stop offset="0.53" stop-color="#080808"/><stop offset="1" stop-color="#000000"/></linearGradient><linearGradient id="h112"><stop offset="0" stop-color="#686868"/><stop offset="0.11" stop-color="#424242"/><stop offset="0.18" stop-color="#2e2e2e"/><stop offset="0.29" stop-color="#1c1c1c"/><stop offset="0.54" stop-color="#080808"/><stop offset="1" stop-color="#000000"/></linearGradient><linearGradient id="h113"><stop offset="0" stop-color="#6e6e6e"/><stop offset="0.05" stop-color="#585858"/><stop offset="0.12" stop-color="#424242"/><stop offset="0.2" stop-color="#2d2d2d"/><stop offset="0.3" stop-color="#1c1c1c"/><stop offset="0.56" stop-color="#080808"/><stop offset="1" stop-color="#000000"/></linearGradient><linearGradient id="h114"><stop offset="0" stop-color="#757575"/><stop offset="0.06" stop-color="#595959"/><stop offset="0.13" stop-color="#424242"/><stop offset="0.21" stop-color="#2d2d2d"/><stop offset="0.31" stop-color="#1c1c1c"/><stop offset="0.57" stop-color="#080808"/><stop offset="1" stop-color="#000000"/></linearGradient><linearGradient id="h115"><stop offset="0" stop-color="#7b7b7b"/><stop offset="0.07" stop-color="#5a5a5a"/><stop offset="0.14" stop-color="#424242"/><stop offset="0.22" stop-color="#2e2e2e"/><stop offset="0.33" stop-color="#1c1c1c"/><stop offset="0.58" stop-color="#080808"/><stop offset="1" stop-color="#000000"/></linearGradient><linearGradient id="h116"><stop offset="0" stop-color="#808080"/><stop offset="0.08" stop-color="#5a5a5a"/><stop offset="0.15" stop-color="#434343"/><stop offset="0.23" stop-color="#2e2e2e"/><stop offset="0.33" stop-color="#1c1c1c"/><stop offset="0.59" stop-color="#080808"/><stop offset="1" stop-color="#000000"/></linearGradient><linearGradient id="h117"><stop offset="0" stop-color="#868686"/><stop offset="0.09" stop-color="#595959"/><stop offset="0.16" stop-color="#424242"/><stop offset="0.24" stop-color="#2e2e2e"/><stop offset="0.34" stop-color="#1c1c1c"/><stop offset="0.61" stop-color="#080808"/><stop offset="1" stop-color="#000000"/></linearGradient><linearGradient id="h118"><stop offset="0" stop-color="#8c8c8c"/><stop offset="0.1" stop-color="#5b5b5b"/><stop offset="0.17" stop-color="#444444"/><stop offset="0.26" stop-color="#2d2d2d"/><stop offset="0.36" stop-color="#1c1c1c"/><stop offset="0.61" stop-color="#080808"/><stop offset="1" stop-color="#000000"/></linearGradient><linearGradient id="h119"><stop offset="0" stop-color="#939393"/><stop offset="0.11" stop-color="#5b5b5b"/><stop offset="0.19" stop-color="#424242"/><stop offset="0.27" stop-color="#2e2e2e"/><stop offset="0.37" stop-color="#1c1c1c"/><stop offset="0.62" stop-color="#080808"/><stop offset="1" stop-color="#000000"/></linearGradient><linearGradient id="h120"><stop offset="0" stop-color="#989898"/><stop offset="0.13" stop-color="#585858"/><stop offset="0.28" stop-color="#2f2f2f"/><stop offset="0.38" stop-color="#1d1d1d"/><stop offset="0.64" stop-color="#080808"/><stop offset="1" stop-color="#000000"/></linearGradient><linearGradient id="h121"><stop offset="0" stop-color="#a1a1a1"/><stop offset="0.01" stop-color="#969696"/><stop offset="0.14" stop-color="#595959"/><stop offset="0.29" stop-color="#2e2e2e"/><stop offset="0.39" stop-color="#1c1c1c"/><stop offset="0.65" stop-color="#080808"/><stop offset="1" stop-color="#000000"/></linearGradient><linearGradient id="h122"><stop offset="0" stop-color="#a8a8a8"/><stop offset="0.02" stop-color="#979797"/><stop offset="0.14" stop-color="#5a5a5a"/><stop offset="0.29" stop-color="#2e2e2e"/><stop offset="0.39" stop-color="#1c1c1c"/><stop offset="0.66" stop-color="#080808"/><stop offset="1" stop-color="#000000"/></linearGradient><linearGradient id="h123"><stop offset="0" stop-color="#b0b0b0"/><stop offset="0.03" stop-color="#979797"/><stop offset="0.15" stop-color="#5a5a5a"/><stop offset="0.3" stop-color="#2e2e2e"/><stop offset="0.4" stop-color="#1c1c1c"/><stop offset="0.66" stop-color="#080808"/><stop offset="1" stop-color="#000000"/></linearGradient><linearGradient id="h124"><stop offset="0" stop-color="#b9b9b9"/><stop offset="0.03" stop-color="#989898"/><stop offset="0.16" stop-color="#5b5b5b"/><stop offset="0.23" stop-color="#424242"/><stop offset="0.31" stop-color="#2d2d2d"/><stop offset="0.41" stop-color="#1c1c1c"/><stop offset="0.67" stop-color="#080808"/><stop offset="1" stop-color="#000000"/></linearGradient><linearGradient id="h125"><stop offset="0" stop-color="#bebebe"/><stop offset="0.04" stop-color="#989898"/><stop offset="0.12" stop-color="#6b6b6b"/><stop offset="0.23" stop-color="#434343"/><stop offset="0.32" stop-color="#2d2d2d"/><stop offset="0.42" stop-color="#1c1c1c"/><stop offset="0.67" stop-color="#080808"/><stop offset="1" stop-color="#000000"/></linearGradient><linearGradient id="h126"><stop offset="0" stop-color="#c6c6c6"/><stop offset="0.01" stop-color="#bbbbbb"/><stop offset="0.04" stop-color="#9a9a9a"/><stop offset="0.12" stop-color="#6d6d6d"/><stop offset="0.17" stop-color="#595959"/><stop offset="0.24" stop-color="#434343"/><stop offset="0.32" stop-color="#2e2e2e"/><stop offset="0.42" stop-color="#1c1c1c"/><stop offset="0.68" stop-color="#080808"/><stop offset="1" stop-color="#000000"/></linearGradient><linearGradient id="h127"><stop offset="0" stop-color="#cdcdcd"/><stop offset="0.01" stop-color="#bebebe"/><stop offset="0.04" stop-color="#989898"/><stop offset="0.12" stop-color="#6e6e6e"/><stop offset="0.17" stop-color="#5a5a5a"/><stop offset="0.24" stop-color="#434343"/><stop offset="0.33" stop-color="#2d2d2d"/><stop offset="0.42" stop-color="#1c1c1c"/><stop offset="0.68" stop-color="#080808"/><stop offset="1" stop-color="#000000"/></linearGradient><linearGradient id="h128"><stop offset="0" stop-color="#d4d4d4"/><stop offset="0.01" stop-color="#c3c3c3"/><stop offset="0.01" stop-color="#bababa"/><stop offset="0.04" stop-color="#999999"/><stop offset="0.17" stop-color="#595959"/><stop offset="0.33" stop-color="#2e2e2e"/><stop offset="0.42" stop-color="#1c1c1c"/><stop offset="0.68" stop-color="#080808"/><stop offset="1" stop-color="#000000"/></linearGradient><linearGradient id="h129"><stop offset="0" stop-color="#dbdbdb"/><stop offset="0.01" stop-color="#bdbdbd"/><stop offset="0.05" stop-color="#979797"/><stop offset="0.17" stop-color="#5a5a5a"/><stop offset="0.33" stop-color="#2e2e2e"/><stop offset="0.42" stop-color="#1c1c1c"/><stop offset="0.54" stop-color="#121212"/><stop offset="0.69" stop-color="#080808"/><stop offset="1" stop-color="#000000"/></linearGradient><linearGradient id="h130"><stop offset="0" stop-color="#e2e2e2"/><stop offset="0.01" stop-color="#c0c0c0"/><stop offset="0.05" stop-color="#989898"/><stop offset="0.18" stop-color="#585858"/><stop offset="0.33" stop-color="#2d2d2d"/><stop offset="0.43" stop-color="#1c1c1c"/><stop offset="0.54" stop-color="#121212"/><stop offset="0.69" stop-color="#080808"/><stop offset="1" stop-color="#000000"/></linearGradient><linearGradient id="h131"><stop offset="0" stop-color="#e8e8e8"/><stop offset="0.01" stop-color="#c7c7c7"/><stop offset="0.02" stop-color="#bcbcbc"/><stop offset="0.06" stop-color="#979797"/><stop offset="0.18" stop-color="#595959"/><stop offset="0.33" stop-color="#2e2e2e"/><stop offset="0.43" stop-color="#1c1c1c"/><stop offset="0.54" stop-color="#121212"/><stop offset="0.69" stop-color="#080808"/><stop offset="1" stop-color="#000000"/></linearGradient><linearGradient id="h132"><stop offset="0" stop-color="#efefef"/><stop offset="0.02" stop-color="#bfbfbf"/><stop offset="0.06" stop-color="#989898"/><stop offset="0.19" stop-color="#585858"/><stop offset="0.33" stop-color="#2f2f2f"/><stop offset="0.43" stop-color="#1d1d1d"/><stop offset="0.54" stop-color="#121212"/><stop offset="0.69" stop-color="#080808"/><stop offset="1" stop-color="#000000"/></linearGradient><linearGradient id="h133"><stop offset="0" stop-color="#f6f6f6"/><stop offset="0.02" stop-color="#c5c5c5"/><stop offset="0.06" stop-color="#9a9a9a"/><stop offset="0.19" stop-color="#595959"/><stop offset="0.33" stop-color="#2f2f2f"/><stop offset="0.44" stop-color="#1c1c1c"/><stop offset="0.55" stop-color="#121212"/><stop offset="0.7" stop-color="#080808"/><stop offset="1" stop-color="#000000"/></linearGradient><linearGradient id="h134"><stop offset="0" stop-color="#fcfcfc"/><stop offset="0.03" stop-color="#bdbdbd"/><stop offset="0.06" stop-color="#979797"/><stop offset="0.19" stop-color="#5a5a5a"/><stop offset="0.34" stop-color="#2e2e2e"/><stop offset="0.44" stop-color="#1c1c1c"/><stop offset="0.55" stop-color="#121212"/><stop offset="0.7" stop-color="#080808"/><stop offset="1" stop-color="#000000"/></linearGradient><linearGradient id="cb135" x1="0" y1="0" x2="0" y2="1"><stop offset="0" stop-color="rgb(255,0,0)"/><stop offset="0.12" stop-color="rgb(255,58,0)"/><stop offset="0.22" stop-color="rgb(255,144,0)"/><stop offset="0.28" stop-color="rgb(255,228,0)"/><stop offset="0.35" stop-color="rgb(192,240,0)"/><stop offset="0.43" stop-color="rgb(0,232,0)"/><stop offset="0.5" stop-color="rgb(0,245,128)"/><stop offset="0.57" stop-color="rgb(0,255,255)"/><stop offset="0.67" stop-color="rgb(0,160,255)"/><stop offset="0.75" stop-color="rgb(32,96,255)"/><stop offset="0.83" stop-color="rgb(36,32,255)"/><stop offset="0.9" stop-color="rgb(82,0,255)"/><stop offset="1" stop-color="rgb(148,0,255)"/></linearGradient><linearGradient id="h136"><stop offset="0" stop-color="#181818"/><stop offset="0.11" stop-color="#0e0e0e"/><stop offset="0.26" stop-color="#090909"/><stop offset="1" stop-color="#070707"/></linearGradient><linearGradient id="h137"><stop offset="0" stop-color="#1b1b1b"/><stop offset="0.11" stop-color="#111111"/><stop offset="0.26" stop-color="#0c0c0c"/><stop offset="1" stop-color="#0a0a0a"/></linearGradient><linearGradient id="h138"><stop offset="0" stop-color="#1d1d1d"/><stop offset="0.11" stop-color="#141414"/><stop offset="0.26" stop-color="#0f0f0f"/><stop offset="1" stop-color="#0d0d0d"/></linearGradient><linearGradient id="h139"><stop offset="0" stop-color="#202020"/><stop offset="0.11" stop-color="#171717"/><stop offset="0.26" stop-color="#121212"/><stop offset="1" stop-color="#101010"/></linearGradient><linearGradient id="h140"><stop offset="0" stop-color="#252525"/><stop offset="0.11" stop-color="#1b1b1b"/><stop offset="0.26" stop-color="#161616"/><stop offset="1" stop-color="#141414"/></linearGradient><linearGradient id="h141"><stop offset="0" stop-color="#2b2b2b"/><stop offset="0.11" stop-color="#202020"/><stop offset="0.26" stop-color="#1a1a1a"/><stop offset="1" stop-color="#181818"/></linearGradient><linearGradient id="h142"><stop offset="0" stop-color="#313131"/><stop offset="0.11" stop-color="#252525"/><stop offset="0.26" stop-color="#1f1f1f"/><stop offset="1" stop-color="#1c1c1c"/></linearGradient><linearGradient id="h143"><stop offset="0" stop-color="#383838"/><stop offset="0.11" stop-color="#2a2a2a"/><stop offset="0.26" stop-color="#232323"/><stop offset="1" stop-color="#202020"/></linearGradient><linearGradient id="h144"><stop offset="0" stop-color="#3e3e3e"/><stop offset="0.11" stop-color="#303030"/><stop offset="0.26" stop-color="#282828"/><stop offset="1" stop-color="#252525"/></linearGradient><linearGradient id="h145"><stop offset="0" stop-color="#464646"/><stop offset="0.11" stop-color="#363636"/><stop offset="0.26" stop-color="#2d2d2d"/><stop offset="1" stop-color="#2a2a2a"/></linearGradient><linearGradient id="h146"><stop offset="0" stop-color="#4d4d4d"/><stop offset="0.11" stop-color="#3c3c3c"/><stop offset="0.26" stop-color="#333333"/><stop offset="1" stop-color="#2f2f2f"/></linearGradient><linearGradient id="h147"><stop offset="0" stop-color="#555555"/><stop offset="0.11" stop-color="#424242"/><stop offset="0.26" stop-color="#393939"/><stop offset="1" stop-color="#353535"/></linearGradient><linearGradient id="h148"><stop offset="0" stop-color="#5c5c5c"/><stop offset="0.11" stop-color="#484848"/><stop offset="0.26" stop-color="#3e3e3e"/><stop offset="1" stop-color="#3a3a3a"/></linearGradient><linearGradient id="h149"><stop offset="0" stop-color="#636363"/><stop offset="0.11" stop-color="#4d4d4d"/><stop offset="0.26" stop-color="#434343"/><stop offset="1" stop-color="#3e3e3e"/></linearGradient><linearGradient id="h150"><stop offset="0" stop-color="#6a6a6a"/><stop offset="0.11" stop-color="#535353"/><stop offset="0.26" stop-color="#474747"/><stop offset="1" stop-color="#434343"/></linearGradient><linearGradient id="h151"><stop offset="0" stop-color="#717171"/><stop offset="0.11" stop-color="#585858"/><stop offset="0.26" stop-color="#4b4b4b"/><stop offset="1" stop-color="#464646"/></linearGradient><linearGradient id="h152"><stop offset="0" stop-color="#767676"/><stop offset="0.11" stop-color="#5b5b5b"/><stop offset="0.26" stop-color="#4e4e4e"/><stop offset="1" stop-color="#484848"/></linearGradient><linearGradient id="h153"><stop offset="0" stop-color="#7c7c7c"/><stop offset="0.05" stop-color="#6b6b6b"/><stop offset="0.11" stop-color="#5f5f5f"/><stop offset="0.26" stop-color="#505050"/><stop offset="0.47" stop-color="#4b4b4b"/><stop offset="1" stop-color="#4a4a4a"/></linearGradient><linearGradient id="h154"><stop offset="0" stop-color="#828282"/><stop offset="0.05" stop-color="#707070"/><stop offset="0.11" stop-color="#636363"/><stop offset="0.26" stop-color="#535353"/><stop offset="0.47" stop-color="#4e4e4e"/><stop offset="1" stop-color="#4d4d4d"/></linearGradient><linearGradient id="h155"><stop offset="0" stop-color="#888888"/><stop offset="0.05" stop-color="#747474"/><stop offset="0.11" stop-color="#666666"/><stop offset="0.26" stop-color="#565656"/><stop offset="0.47" stop-color="#505050"/><stop offset="1" stop-color="#4f4f4f"/></linearGradient><linearGradient id="h156"><stop offset="0" stop-color="#8d8d8d"/><stop offset="0.05" stop-color="#797979"/><stop offset="0.11" stop-color="#6a6a6a"/><stop offset="0.26" stop-color="#585858"/><stop offset="0.47" stop-color="#525252"/><stop offset="1" stop-color="#515151"/></linearGradient><linearGradient id="h157"><stop offset="0" stop-color="#949494"/><stop offset="0.05" stop-color="#7e7e7e"/><stop offset="0.11" stop-color="#6f6f6f"/><stop offset="0.26" stop-color="#5c5c5c"/><stop offset="0.47" stop-color="#555555"/><stop offset="1" stop-color="#545454"/></linearGradient><linearGradient id="h158"><stop offset="0" stop-color="#9b9b9b"/><stop offset="0.05" stop-color="#848484"/><stop offset="0.11" stop-color="#747474"/><stop offset="0.26" stop-color="#606060"/><stop offset="0.47" stop-color="#595959"/><stop offset="1" stop-color="#585858"/></linearGradient><linearGradient id="h159"><stop offset="0" stop-color="#a2a2a2"/><stop offset="0.05" stop-color="#8a8a8a"/><stop offset="0.11" stop-color="#787878"/><stop offset="0.17" stop-color="#6c6c6c"/><stop offset="0.26" stop-color="#646464"/><stop offset="0.47" stop-color="#5c5c5c"/><stop offset="1" stop-color="#5b5b5b"/></linearGradient><linearGradient id="h160"><stop offset="0" stop-color="#a9a9a9"/><stop offset="0.05" stop-color="#909090"/><stop offset="0.11" stop-color="#7d7d7d"/><stop offset="0.17" stop-color="#707070"/><stop offset="0.26" stop-color="#676767"/><stop offset="0.47" stop-color="#606060"/><stop offset="1" stop-color="#5f5f5f"/></linearGradient><linearGradient id="h161"><stop offset="0" stop-color="#b1b1b1"/><stop offset="0.05" stop-color="#969696"/><stop offset="0.11" stop-color="#828282"/><stop offset="0.17" stop-color="#747474"/><stop offset="0.26" stop-color="#6b6b6b"/><stop offset="0.47" stop-color="#636363"/><stop offset="1" stop-color="#626262"/></linearGradient><linearGradient id="h162"><stop offset="0" stop-color="#b6b6b6"/><stop offset="0.05" stop-color="#9a9a9a"/><stop offset="0.11" stop-color="#868686"/><stop offset="0.17" stop-color="#787878"/><stop offset="0.26" stop-color="#6e6e6e"/><stop offset="0.47" stop-color="#666666"/><stop offset="1" stop-color="#656565"/></linearGradient><linearGradient id="h163"><stop offset="0" stop-color="#bababa"/><stop offset="0.05" stop-color="#9e9e9e"/><stop offset="0.11" stop-color="#8a8a8a"/><stop offset="0.17" stop-color="#7b7b7b"/><stop offset="0.26" stop-color="#717171"/><stop offset="0.47" stop-color="#696969"/><stop offset="1" stop-color="#676767"/></linearGradient><linearGradient id="h164"><stop offset="0" stop-color="#c0c0c0"/><stop offset="0.05" stop-color="#a3a3a3"/><stop offset="0.11" stop-color="#8d8d8d"/><stop offset="0.17" stop-color="#7e7e7e"/><stop offset="0.26" stop-color="#747474"/><stop offset="0.47" stop-color="#6b6b6b"/><stop offset="1" stop-color="#696969"/></linearGradient><linearGradient id="h165"><stop offset="0" stop-color="#c6c6c6"/><stop offset="0.05" stop-color="#a7a7a7"/><stop offset="0.11" stop-color="#919191"/><stop offset="0.17" stop-color="#818181"/><stop offset="0.26" stop-color="#767676"/><stop offset="0.47" stop-color="#6d6d6d"/><stop offset="1" stop-color="#6c6c6c"/></linearGradient><linearGradient id="h166"><stop offset="0" stop-color="#cccccc"/><stop offset="0.05" stop-color="#acacac"/><stop offset="0.11" stop-color="#959595"/><stop offset="0.17" stop-color="#848484"/><stop offset="0.26" stop-color="#797979"/><stop offset="0.47" stop-color="#707070"/><stop offset="1" stop-color="#6e6e6e"/></linearGradient><linearGradient id="h167"><stop offset="0" stop-color="#d2d2d2"/><stop offset="0.05" stop-color="#b0b0b0"/><stop offset="0.11" stop-color="#989898"/><stop offset="0.17" stop-color="#878787"/><stop offset="0.26" stop-color="#7c7c7c"/><stop offset="0.47" stop-color="#727272"/><stop offset="1" stop-color="#707070"/></linearGradient><linearGradient id="h168"><stop offset="0" stop-color="#d7d7d7"/><stop offset="0.05" stop-color="#b5b5b5"/><stop offset="0.11" stop-color="#9c9c9c"/><stop offset="0.17" stop-color="#8a8a8a"/><stop offset="0.26" stop-color="#7f7f7f"/><stop offset="0.47" stop-color="#757575"/><stop offset="1" stop-color="#737373"/></linearGradient><linearGradient id="h169"><stop offset="0" stop-color="#dedede"/><stop offset="0.05" stop-color="#bababa"/><stop offset="0.11" stop-color="#a1a1a1"/><stop offset="0.17" stop-color="#8e8e8e"/><stop offset="0.26" stop-color="#828282"/><stop offset="0.47" stop-color="#787878"/><stop offset="1" stop-color="#767676"/></linearGradient><linearGradient id="h170"><stop offset="0" stop-color="#e4e4e4"/><stop offset="0.05" stop-color="#c0c0c0"/><stop offset="0.11" stop-color="#a5a5a5"/><stop offset="0.17" stop-color="#929292"/><stop offset="0.26" stop-color="#858585"/><stop offset="0.47" stop-color="#7b7b7b"/><stop offset="1" stop-color="#797979"/></linearGradient><linearGradient id="h171"><stop offset="0" stop-color="#ebebeb"/><stop offset="0.05" stop-color="#c5c5c5"/><stop offset="0.11" stop-color="#aaaaaa"/><stop offset="0.17" stop-color="#969696"/><stop offset="0.26" stop-color="#8a8a8a"/><stop offset="0.47" stop-color="#7f7f7f"/><stop offset="1" stop-color="#7d7d7d"/></linearGradient><linearGradient id="h172"><stop offset="0" stop-color="#f2f2f2"/><stop offset="0.05" stop-color="#cbcbcb"/><stop offset="0.11" stop-color="#b0b0b0"/><stop offset="0.17" stop-color="#9b9b9b"/><stop offset="0.26" stop-color="#8f8f8f"/><stop offset="0.47" stop-color="#848484"/><stop offset="1" stop-color="#818181"/></linearGradient><linearGradient id="h173"><stop offset="0" stop-color="#f8f8f8"/><stop offset="0.05" stop-color="#d1d1d1"/><stop offset="0.11" stop-color="#b5b5b5"/><stop offset="0.17" stop-color="#a1a1a1"/><stop offset="0.26" stop-color="#949494"/><stop offset="0.47" stop-color="#888888"/><stop offset="1" stop-color="#868686"/></linearGradient><linearGradient id="h174"><stop offset="0" stop-color="#fdfdfd"/><stop offset="0.05" stop-color="#d6d6d6"/><stop offset="0.11" stop-color="#b9b9b9"/><stop offset="0.17" stop-color="#a5a5a5"/><stop offset="0.26" stop-color="#979797"/><stop offset="0.47" stop-color="#8c8c8c"/><stop offset="1" stop-color="#8a8a8a"/></linearGradient><linearGradient id="cb175" x1="0" y1="0" x2="0" y2="1"><stop offset="0" stop-color="rgb(255,0,0)"/><stop offset="0.12" stop-color="rgb(255,58,0)"/><stop offset="0.22" stop-color="rgb(255,144,0)"/><stop offset="0.28" stop-color="rgb(255,228,0)"/><stop offset="0.35" stop-color="rgb(192,240,0)"/><stop offset="0.43" stop-color="rgb(0,232,0)"/><stop offset="0.5" stop-color="rgb(0,245,128)"/><stop offset="0.57" stop-color="rgb(0,255,255)"/><stop offset="0.67" stop-color="rgb(0,160,255)"/><stop offset="0.75" stop-color="rgb(32,96,255)"/><stop offset="0.83" stop-color="rgb(36,32,255)"/><stop offset="0.9" stop-color="rgb(82,0,255)"/><stop offset="1" stop-color="rgb(148,0,255)"/></linearGradient><linearGradient id="h176"><stop offset="0" stop-color="#181818"/><stop offset="0.12" stop-color="#0c0c0c"/><stop offset="0.28" stop-color="#060606"/><stop offset="1" stop-color="#030303"/></linearGradient><linearGradient id="h177"><stop offset="0" stop-color="#1c1c1c"/><stop offset="0.12" stop-color="#0f0f0f"/><stop offset="0.28" stop-color="#080808"/><stop offset="1" stop-color="#050505"/></linearGradient><linearGradient id="h178"><stop offset="0" stop-color="#202020"/><stop offset="0.12" stop-color="#121212"/><stop offset="0.28" stop-color="#0a0a0a"/><stop offset="1" stop-color="#070707"/></linearGradient><linearGradient id="h179"><stop offset="0" stop-color="#242424"/><stop offset="0.12" stop-color="#151515"/><stop offset="0.28" stop-color="#0d0d0d"/><stop offset="1" stop-color="#0a0a0a"/></linearGradient><linearGradient id="h180"><stop offset="0" stop-color="#292929"/><stop offset="0.12" stop-color="#191919"/><stop offset="0.28" stop-color="#111111"/><stop offset="1" stop-color="#0d0d0d"/></linearGradient><linearGradient id="h181"><stop offset="0" stop-color="#2d2d2d"/><stop offset="0.12" stop-color="#1d1d1d"/><stop offset="0.28" stop-color="#151515"/><stop offset="1" stop-color="#111111"/></linearGradient><linearGradient id="h182"><stop offset="0" stop-color="#323232"/><stop offset="0.12" stop-color="#212121"/><stop offset="0.28" stop-color="#191919"/><stop offset="1" stop-color="#151515"/></linearGradient><linearGradient id="h183"><stop offset="0" stop-color="#373737"/><stop offset="0.12" stop-color="#262626"/><stop offset="0.28" stop-color="#1d1d1d"/><stop offset="1" stop-color="#191919"/></linearGradient><linearGradient id="h184"><stop offset="0" stop-color="#3e3e3e"/><stop offset="0.12" stop-color="#2b2b2b"/><stop offset="0.28" stop-color="#222222"/><stop offset="1" stop-color="#1e1e1e"/></linearGradient><linearGradient id="h185"><stop offset="0" stop-color="#434343"/><stop offset="0.12" stop-color="#303030"/><stop offset="0.28" stop-color="#262626"/><stop offset="1" stop-color="#222222"/></linearGradient><linearGradient id="h186"><stop offset="0" stop-color="#4a4a4a"/><stop offset="0.12" stop-color="#353535"/><stop offset="0.28" stop-color="#2a2a2a"/><stop offset="1" stop-color="#242424"/></linearGradient><linearGradient id="h187"><stop offset="0" stop-color="#4f4f4f"/><stop offset="0.12" stop-color="#383838"/><stop offset="0.28" stop-color="#2c2c2c"/><stop offset="1" stop-color="#262626"/></linearGradient><linearGradient id="h188"><stop offset="0" stop-color="#565656"/><stop offset="0.12" stop-color="#3c3c3c"/><stop offset="0.28" stop-color="#2e2e2e"/><stop offset="0.51" stop-color="#292929"/><stop offset="1" stop-color="#282828"/></linearGradient><linearGradient id="h189"><stop offset="0" stop-color="#5d5d5d"/><stop offset="0.12" stop-color="#404040"/><stop offset="0.28" stop-color="#323232"/><stop offset="0.51" stop-color="#2c2c2c"/><stop offset="1" stop-color="#2b2b2b"/></linearGradient><linearGradient id="h190"><stop offset="0" stop-color="#636363"/><stop offset="0.06" stop-color="#525252"/><stop offset="0.12" stop-color="#454545"/><stop offset="0.28" stop-color="#353535"/><stop offset="0.51" stop-color="#2f2f2f"/><stop offset="1" stop-color="#2e2e2e"/></linearGradient><linearGradient id="h191"><stop offset="0" stop-color="#6a6a6a"/><stop offset="0.06" stop-color="#575757"/><stop offset="0.12" stop-color="#494949"/><stop offset="0.28" stop-color="#393939"/><stop offset="0.51" stop-color="#323232"/><stop offset="1" stop-color="#313131"/></linearGradient><linearGradient id="h192"><stop offset="0" stop-color="#6f6f6f"/><stop offset="0.06" stop-color="#5c5c5c"/><stop offset="0.12" stop-color="#4d4d4d"/><stop offset="0.28" stop-color="#3c3c3c"/><stop offset="0.51" stop-color="#353535"/><stop offset="1" stop-color="#343434"/></linearGradient><linearGradient id="h193"><stop offset="0" stop-color="#767676"/><stop offset="0.06" stop-color="#606060"/><stop offset="0.12" stop-color="#515151"/><stop offset="0.28" stop-color="#3e3e3e"/><stop offset="0.51" stop-color="#373737"/><stop offset="1" stop-color="#353535"/></linearGradient><linearGradient id="h194"><stop offset="0" stop-color="#7b7b7b"/><stop offset="0.06" stop-color="#646464"/><stop offset="0.12" stop-color="#545454"/><stop offset="0.28" stop-color="#404040"/><stop offset="0.51" stop-color="#393939"/><stop offset="1" stop-color="#373737"/></linearGradient><linearGradient id="h195"><stop offset="0" stop-color="#818181"/><stop offset="0.06" stop-color="#696969"/><stop offset="0.12" stop-color="#585858"/><stop offset="0.28" stop-color="#434343"/><stop offset="0.51" stop-color="#3b3b3b"/><stop offset="1" stop-color="#393939"/></linearGradient><linearGradient id="h196"><stop offset="0" stop-color="#878787"/><stop offset="0.06" stop-color="#6e6e6e"/><stop offset="0.12" stop-color="#5b5b5b"/><stop offset="0.28" stop-color="#464646"/><stop offset="0.51" stop-color="#3d3d3d"/><stop offset="1" stop-color="#3b3b3b"/></linearGradient><linearGradient id="h197"><stop offset="0" stop-color="#8d8d8d"/><stop offset="0.06" stop-color="#727272"/><stop offset="0.12" stop-color="#5f5f5f"/><stop offset="0.19" stop-color="#525252"/><stop offset="0.28" stop-color="#484848"/><stop offset="0.51" stop-color="#3f3f3f"/><stop offset="1" stop-color="#3d3d3d"/></linearGradient><linearGradient id="h198"><stop offset="0" stop-color="#929292"/><stop offset="0.06" stop-color="#767676"/><stop offset="0.12" stop-color="#626262"/><stop offset="0.19" stop-color="#555555"/><stop offset="0.28" stop-color="#4b4b4b"/><stop offset="0.51" stop-color="#414141"/><stop offset="1" stop-color="#3f3f3f"/></linearGradient><linearGradient id="h199"><stop offset="0" stop-color="#989898"/><stop offset="0.06" stop-color="#7b7b7b"/><stop offset="0.12" stop-color="#666666"/><stop offset="0.19" stop-color="#575757"/><stop offset="0.28" stop-color="#4c4c4c"/><stop offset="0.51" stop-color="#424242"/><stop offset="1" stop-color="#404040"/></linearGradient><linearGradient id="h200"><stop offset="0" stop-color="#9c9c9c"/><stop offset="0.06" stop-color="#7e7e7e"/><stop offset="0.12" stop-color="#686868"/><stop offset="0.19" stop-color="#595959"/><stop offset="0.28" stop-color="#4e4e4e"/><stop offset="0.51" stop-color="#434343"/><stop offset="1" stop-color="#414141"/></linearGradient><linearGradient id="h201"><stop offset="0" stop-color="#a0a0a0"/><stop offset="0.06" stop-color="#818181"/><stop offset="0.12" stop-color="#6a6a6a"/><stop offset="0.19" stop-color="#5a5a5a"/><stop offset="0.28" stop-color="#4f4f4f"/><stop offset="0.51" stop-color="#444444"/><stop offset="1" stop-color="#424242"/></linearGradient><linearGradient id="h202"><stop offset="0" stop-color="#a4a4a4"/><stop offset="0.06" stop-color="#848484"/><stop offset="0.12" stop-color="#6c6c6c"/><stop offset="0.19" stop-color="#5c5c5c"/><stop offset="0.28" stop-color="#505050"/><stop offset="0.51" stop-color="#454545"/><stop offset="1" stop-color="#424242"/></linearGradient><linearGradient id="h203"><stop offset="0" stop-color="#a8a8a8"/><stop offset="0.06" stop-color="#878787"/><stop offset="0.12" stop-color="#6e6e6e"/><stop offset="0.19" stop-color="#5e5e5e"/><stop offset="0.28" stop-color="#515151"/><stop offset="0.51" stop-color="#464646"/><stop offset="1" stop-color="#434343"/></linearGradient><linearGradient id="h204"><stop offset="0" stop-color="#acacac"/><stop offset="0.06" stop-color="#8a8a8a"/><stop offset="0.12" stop-color="#717171"/><stop offset="0.19" stop-color="#5f5f5f"/><stop offset="0.28" stop-color="#525252"/><stop offset="0.51" stop-color="#474747"/><stop offset="1" stop-color="#444444"/></linearGradient><linearGradient id="h205"><stop offset="0" stop-color="#b2b2b2"/><stop offset="0.06" stop-color="#8e8e8e"/><stop offset="0.12" stop-color="#747474"/><stop offset="0.19" stop-color="#626262"/><stop offset="0.28" stop-color="#545454"/><stop offset="0.51" stop-color="#484848"/><stop offset="1" stop-color="#454545"/></linearGradient><linearGradient id="h206"><stop offset="0" stop-color="#bababa"/><stop offset="0.06" stop-color="#939393"/><stop offset="0.12" stop-color="#777777"/><stop offset="0.19" stop-color="#646464"/><stop offset="0.28" stop-color="#565656"/><stop offset="0.51" stop-color="#494949"/><stop offset="1" stop-color="#464646"/></linearGradient><linearGradient id="h207"><stop offset="0" stop-color="#c1c1c1"/><stop offset="0.06" stop-color="#989898"/><stop offset="0.12" stop-color="#7b7b7b"/><stop offset="0.19" stop-color="#676767"/><stop offset="0.28" stop-color="#585858"/><stop offset="0.51" stop-color="#4a4a4a"/><stop offset="1" stop-color="#474747"/></linearGradient><linearGradient id="h208"><stop offset="0" stop-color="#c6c6c6"/><stop offset="0.06" stop-color="#9c9c9c"/><stop offset="0.12" stop-color="#7e7e7e"/><stop offset="0.19" stop-color="#686868"/><stop offset="0.28" stop-color="#595959"/><stop offset="0.51" stop-color="#4b4b4b"/><stop offset="1" stop-color="#474747"/></linearGradient><linearGradient id="h209"><stop offset="0" stop-color="#cecece"/><stop offset="0.06" stop-color="#a2a2a2"/><stop offset="0.12" stop-color="#818181"/><stop offset="0.19" stop-color="#6b6b6b"/><stop offset="0.28" stop-color="#5b5b5b"/><stop offset="0.51" stop-color="#4b4b4b"/><stop offset="1" stop-color="#484848"/></linearGradient><linearGradient id="h210"><stop offset="0" stop-color="#d8d8d8"/><stop offset="0.06" stop-color="#a8a8a8"/><stop offset="0.12" stop-color="#868686"/><stop offset="0.19" stop-color="#6e6e6e"/><stop offset="0.28" stop-color="#5c5c5c"/><stop offset="0.38" stop-color="#525252"/><stop offset="0.51" stop-color="#4c4c4c"/><stop offset="1" stop-color="#484848"/></linearGradient><linearGradient id="h211"><stop offset="0" stop-color="#e2e2e2"/><stop offset="0.06" stop-color="#afafaf"/><stop offset="0.12" stop-color="#8a8a8a"/><stop offset="0.19" stop-color="#717171"/><stop offset="0.28" stop-color="#5e5e5e"/><stop offset="0.38" stop-color="#535353"/><stop offset="0.51" stop-color="#4d4d4d"/><stop offset="1" stop-color="#494949"/></linearGradient><linearGradient id="h212"><stop offset="0" stop-color="#ebebeb"/><stop offset="0.06" stop-color="#b6b6b6"/><stop offset="0.12" stop-color="#8f8f8f"/><stop offset="0.19" stop-color="#747474"/><stop offset="0.28" stop-color="#606060"/><stop offset="0.38" stop-color="#545454"/><stop offset="0.51" stop-color="#4d4d4d"/><stop offset="1" stop-color="#494949"/></linearGradient><linearGradient id="h213"><stop offset="0" stop-color="#f5f5f5"/><stop offset="0.06" stop-color="#bcbcbc"/><stop offset="0.12" stop-color="#939393"/><stop offset="0.19" stop-color="#777777"/><stop offset="0.28" stop-color="#626262"/><stop offset="0.38" stop-color="#555555"/><stop offset="0.51" stop-color="#4e4e4e"/><stop offset="1" stop-color="#4a4a4a"/></linearGradient><linearGradient id="h214"><stop offset="0" stop-color="#fdfdfd"/><stop offset="0.06" stop-color="#c1c1c1"/><stop offset="0.12" stop-color="#969696"/><stop offset="0.19" stop-color="#797979"/><stop offset="0.28" stop-color="#636363"/><stop offset="0.38" stop-color="#565656"/><stop offset="0.51" stop-color="#4f4f4f"/><stop offset="1" stop-color="#4a4a4a"/></linearGradient><linearGradient id="cb215" x1="0" y1="0" x2="0" y2="1"><stop offset="0" stop-color="rgb(255,0,0)"/><stop offset="0.12" stop-color="rgb(255,58,0)"/><stop offset="0.22" stop-color="rgb(255,144,0)"/><stop offset="0.28" stop-color="rgb(255,228,0)"/><stop offset="0.35" stop-color="rgb(192,240,0)"/><stop offset="0.43" stop-color="rgb(0,232,0)"/><stop offset="0.5" stop-color="rgb(0,245,128)"/><stop offset="0.57" stop-color="rgb(0,255,255)"/><stop offset="0.67" stop-color="rgb(0,160,255)"/><stop offset="0.75" stop-color="rgb(32,96,255)"/><stop offset="0.83" stop-color="rgb(36,32,255)"/><stop offset="0.9" stop-color="rgb(82,0,255)"/><stop offset="1" stop-color="rgb(148,0,255)"/></linearGradient></defs><g id="fig1">
<line x1="358.3" y1="42.23" x2="473.8" y2="42.23" stroke="#c8c8c8" stroke-width="0.9" stroke-dasharray="1.5,1.5"/>
<line x1="358.3" y1="51.74" x2="473.8" y2="51.74" stroke="#b4b4b4" stroke-width="1.6"/>
<line x1="358.3" y1="70.76" x2="473.8" y2="70.76" stroke="#d4d4d4" stroke-width="1"/>
<line x1="358.3" y1="80.27" x2="473.8" y2="80.27" stroke="#c8c8c8" stroke-width="0.9" stroke-dasharray="1.5,1.5"/>
<line x1="358.3" y1="108.8" x2="473.8" y2="108.8" stroke="#b4b4b4" stroke-width="1.6"/>
<line x1="358.3" y1="137.33" x2="473.8" y2="137.33" stroke="#c8c8c8" stroke-width="0.9" stroke-dasharray="1.5,1.5"/>
<line x1="358.3" y1="165.86" x2="473.8" y2="165.86" stroke="#b4b4b4" stroke-width="1.6"/>
<line x1="135.6" y1="194.39" x2="473.8" y2="194.39" stroke="#c8c8c8" stroke-width="0.9" stroke-dasharray="1.5,1.5"/>
<line x1="131.6" y1="222.92" x2="473.8" y2="222.92" stroke="#b4b4b4" stroke-width="1.6"/>
<line x1="131.6" y1="260.96" x2="473.8" y2="260.96" stroke="#b4b4b4" stroke-width="1.6"/>
<line x1="135.6" y1="289.49" x2="473.8" y2="289.49" stroke="#c8c8c8" stroke-width="0.9" stroke-dasharray="1.5,1.5"/>
<polygon points="242.27,183.33 297.61,196.18 352.95,211.79 408.29,228.31 463.62,245.3 463.62,269.62 408.29,253.1 352.95,236.58 297.61,224.64 242.27,213.63" fill="#f9caca"/>
<polygon points="297.61,206.75 352.95,182.98 408.29,161.11 463.62,138.28 463.62,146.84 408.29,168.71 352.95,192.49 297.61,217.21" fill="#dcdcdc"/>
<polygon points="242.27,246.69 297.61,229.58 297.61,237.19 242.27,256.2" fill="#dcdcdc"/>
<line x1="142.67" y1="291.96" x2="297.61" y2="232.43" stroke="#555" stroke-width="0.8" stroke-dasharray="1.2,1.2"/>
<line x1="297.61" y1="211.51" x2="463.62" y2="142.47" stroke="#555" stroke-width="0.8" stroke-dasharray="1.2,1.2"/>
<polyline points="242.27,236.23 297.61,209.04 352.95,182.03 408.29,162.44 463.62,143.42" fill="none" stroke="#8a8a8a" stroke-width="0.8"/>
<polyline points="137.13,297.48 159.27,284.74 186.94,272.75" fill="none" stroke="#8a8a8a" stroke-width="0.8"/>
<polyline points="242.27,197.56 297.61,210.41 352.95,224.18 408.29,240.71 463.62,256.77" fill="none" stroke="#d03a3a" stroke-width="0.9" stroke-dasharray="1.5,1.5"/>
<polyline points="142.67,276.97 159.27,282.02 186.94,284.31 242.27,289.82" fill="none" stroke="#f08a8a" stroke-width="0.9" stroke-dasharray="3,1.5"/>
<line x1="136.03" y1="294.87" x2="209.07" y2="294.87" stroke="#e86a6a" stroke-width="0.9"/>
<line x1="242.27" y1="295.33" x2="268.84" y2="295.33" stroke="#e86a6a" stroke-width="0.9"/>
<polyline points="136.03,290.28 142.67,293.03 153.73,294.87" fill="none" stroke="#e86a6a" stroke-width="0.9"/>
<polygon points="242.27,232.43 245.88,238.89 238.66,238.89" fill="#7a7a7a"/>
<polygon points="297.61,205.24 301.22,211.7 294,211.7" fill="#7a7a7a"/>
<polygon points="352.95,178.23 356.56,184.69 349.34,184.69" fill="#7a7a7a"/>
<polygon points="408.29,158.64 411.9,165.1 404.68,165.1" fill="#7a7a7a"/>
<polygon points="463.62,139.62 467.24,146.08 460.01,146.08" fill="#7a7a7a"/>
<rect x="134.53" y="294.88" width="5.2" height="5.2" fill="#7a7a7a"/>
<rect x="156.67" y="282.13" width="5.2" height="5.2" fill="#7a7a7a"/>
<rect x="184.34" y="270.15" width="5.2" height="5.2" fill="#7a7a7a"/>
<rect x="239.67" y="248.28" width="5.2" height="5.2" fill="#7a7a7a"/>
<rect x="295.01" y="230.78" width="5.2" height="5.2" fill="#7a7a7a"/>
<circle cx="159.27" cy="286.64" r="2.8" fill="#7a7a7a"/>
<circle cx="242.27" cy="252.78" r="2.8" fill="#7a7a7a"/>
<polygon points="164.8,289.49 168.6,293.29 164.8,297.09 161,293.29" fill="#7a7a7a"/>
<polygon points="175.87,287.59 179.67,291.39 175.87,295.19 172.07,291.39" fill="#7a7a7a"/>
<polygon points="186.94,286.64 190.74,290.44 186.94,294.24 183.14,290.44" fill="#7a7a7a"/>
<polygon points="142.67,292.35 146.47,296.15 142.67,299.95 138.87,296.15" fill="#7a7a7a"/>
<polygon points="175.87,289.92 178.53,294.68 173.21,294.68" fill="#7a7a7a"/>
<polygon points="153.73,292.4 156.39,297.16 151.07,297.16" fill="#7a7a7a"/>
<polygon points="242.27,193.56 243.26,196.2 246.08,196.32 243.87,198.08 244.63,200.8 242.27,199.24 239.92,200.8 240.68,198.08 238.47,196.32 241.29,196.2" fill="#e8383d"/>
<polygon points="297.61,206.41 298.6,209.05 301.42,209.18 299.21,210.93 299.96,213.65 297.61,212.09 295.26,213.65 296.01,210.93 293.81,209.18 296.63,209.05" fill="#e8383d"/>
<polygon points="352.95,220.18 353.94,222.82 356.75,222.95 354.55,224.7 355.3,227.42 352.95,225.86 350.6,227.42 351.35,224.7 349.15,222.95 351.96,222.82" fill="#e8383d"/>
<polygon points="408.29,236.71 409.27,239.35 412.09,239.47 409.89,241.23 410.64,243.94 408.29,242.39 405.94,243.94 406.69,241.23 404.48,239.47 407.3,239.35" fill="#e8383d"/>
<polygon points="463.62,252.77 464.61,255.41 467.43,255.54 465.22,257.29 465.98,260.01 463.62,258.45 461.27,260.01 462.03,257.29 459.82,255.54 462.64,255.41" fill="#e8383d"/>
<circle cx="142.67" cy="276.97" r="3.3" fill="#e8383d"/>
<circle cx="159.27" cy="282.02" r="3.3" fill="#e8383d"/>
<circle cx="186.94" cy="284.31" r="3.3" fill="#e8383d"/>
<circle cx="242.27" cy="289.82" r="3.3" fill="#e8383d"/>
<polygon points="143.68,293.03 135.18,288.28 135.18,297.78" fill="#e8383d"/>
<polygon points="245.67,295.33 239.89,292.1 239.89,298.56" fill="#e8383d"/>
<polygon points="301.01,296.25 295.23,293.02 295.23,299.48" fill="#e8383d"/>
<circle cx="142.67" cy="294.87" r="3.2" fill="#e8383d"/>
<circle cx="153.73" cy="294.87" r="3.2" fill="#e8383d"/>
<circle cx="159.27" cy="295.1" r="3.2" fill="#e8383d"/>
<circle cx="164.8" cy="294.87" r="3.2" fill="#e8383d"/>
<circle cx="175.87" cy="295.79" r="3.2" fill="#e8383d"/>
<circle cx="186.94" cy="294.87" r="3.2" fill="#e8383d"/>
<rect x="136.04" y="294.5" width="4.4" height="4.4" fill="#e85050"/>
<rect x="142.68" y="295.42" width="4.4" height="4.4" fill="#e85050"/>
<line x1="141.34" y1="248.6" x2="236.96" y2="248.6" stroke="#6a6a6a" stroke-width="1.3"/>
<polygon points="140.01,248.6 147.51,246 147.51,251.2" fill="#6a6a6a"/>
<line x1="375.08" y1="216.84" x2="464.71" y2="216.84" stroke="#c02828" stroke-width="1.3"/>
<polygon points="470.71,216.84 462.71,214.04 462.71,219.64" fill="#c02828"/>
<rect x="271" y="250" width="109" height="42" fill="#fff"/>
<text x="272.3" y="264.5" font-size="18.1" fill="#000">MV/TEMPOL</text>
<text x="272.3" y="286.8" font-size="18.1" fill="#000">AQDS/BQDS</text>
<text x="378.4" y="129.6" font-size="18.2" fill="#000">Vanadium</text>
<rect x="135.3" y="27.2" width="222.6" height="147.8" fill="#fff"/>
<line x1="135.3" y1="28.5" x2="135.3" y2="175" stroke="#555" stroke-width="1.3"/>
<line x1="135.3" y1="175" x2="357.9" y2="175" stroke="#666" stroke-width="1"/>
<line x1="137" y1="34.7" x2="157" y2="34.7" stroke="#7a7a7a" stroke-width="0.9" stroke-dasharray="3,1.2"/>
<rect x="144.5" y="32.2" width="5" height="5" fill="#7a7a7a"/>
<text x="159.8" y="38" font-size="9.15" fill="#141414">Power Densitiy (discharge - MV/TEMPOL 0.1M)</text>
<line x1="137" y1="45.98" x2="157" y2="45.98" stroke="#7a7a7a" stroke-width="0.9" stroke-dasharray="3,1.2"/>
<circle cx="147" cy="45.98" r="2.9" fill="#7a7a7a"/>
<text x="159.8" y="49.28" font-size="9.15" fill="#141414">Power Densitiy (discharge - MV/TEMPOL 0.5M)</text>
<line x1="137" y1="57.26" x2="157" y2="57.26" stroke="#7a7a7a" stroke-width="0.9" stroke-dasharray="3,1.2"/>
<polygon points="147,53.66 150.42,59.78 143.58,59.78" fill="#7a7a7a"/>
<text x="159.8" y="60.56" font-size="9.15" fill="#141414">Power Densitiy (discharge - Vanadium 1.67M)</text>
<line x1="137" y1="68.54" x2="157" y2="68.54" stroke="#7a7a7a" stroke-width="0.9"/>
<polygon points="147,64.34 151.2,68.54 147,72.74 142.8,68.54" fill="#7a7a7a"/>
<text x="159.8" y="71.84" font-size="9.15" fill="#141414">Power Densitiy (discharge - AQDS/BQDS 0.1M)</text>
<line x1="137" y1="79.82" x2="157" y2="79.82" stroke="#7a7a7a" stroke-width="0.9"/>
<polygon points="143.4,79.82 149.52,76.4 149.52,83.24" fill="#7a7a7a"/>
<text x="159.8" y="83.12" font-size="9.15" fill="#141414">Power Densitiy (discharge - AQDS/BQDS 0.2M)</text>
<line x1="137" y1="91.1" x2="157" y2="91.1" stroke="#7a7a7a" stroke-width="0.9"/>
<polygon points="147,86.9 151.2,91.1 147,95.3 142.8,91.1" fill="#7a7a7a"/>
<text x="159.8" y="94.4" font-size="9.15" fill="#141414">Power Densitiy (discharge - AQDS/BQDS 0.3M)</text>
<line x1="137" y1="113.3" x2="157" y2="113.3" stroke="#e86a6a" stroke-width="0.9"/>
<polygon points="150.6,113.3 144.48,109.88 144.48,116.72" fill="#e8383d"/>
<text x="159.8" y="116.6" font-size="9.15" fill="#141414">Energy Densitiy (discharge - MV/TEMPOL 0.1M)</text>
<line x1="137" y1="124.48" x2="157" y2="124.48" stroke="#e86a6a" stroke-width="0.9"/>
<circle cx="147" cy="124.48" r="3" fill="#e8383d"/>
<text x="159.8" y="127.78" font-size="9.15" fill="#141414">Energy Densitiy (discharge - MV/TEMPOL 0.5M)</text>
<line x1="137" y1="135.66" x2="157" y2="135.66" stroke="#e86a6a" stroke-width="0.9"/>
<polygon points="147,132.06 147.89,134.44 150.42,134.55 148.44,136.13 149.12,138.57 147,137.17 144.88,138.57 145.56,136.13 143.58,134.55 146.11,134.44" fill="#e8383d"/>
<text x="159.8" y="138.96" font-size="9.15" fill="#141414">Energy Densitiy (discharge - Vanadium 1.67M)</text>
<line x1="137" y1="146.84" x2="157" y2="146.84" stroke="#e86a6a" stroke-width="0.9"/>
<polygon points="147,150.44 150.42,144.32 143.58,144.32" fill="#e8383d"/>
<text x="159.8" y="150.14" font-size="9.15" fill="#141414">Energy Densitiy (discharge - AQDS/BQDS 0.1M)</text>
<line x1="137" y1="158.02" x2="157" y2="158.02" stroke="#e86a6a" stroke-width="0.9"/>
<polygon points="147,154.72 150.14,157 148.94,160.69 145.06,160.69 143.86,157" fill="#e8383d"/>
<text x="159.8" y="161.32" font-size="9.15" fill="#141414">Energy Densitiy (discharge - AQDS/BQDS 0.2M)</text>
<line x1="137" y1="169.2" x2="157" y2="169.2" stroke="#e86a6a" stroke-width="0.9"/>
<rect x="144.3" y="166.5" width="5.4" height="5.4" fill="#e8383d"/>
<text x="159.8" y="172.5" font-size="9.15" fill="#141414">Energy Densitiy (discharge - AQDS/BQDS 0.3M)</text>
<line x1="131.6" y1="23.6" x2="473.8" y2="23.6" stroke="#222" stroke-width="1.4"/>
<line x1="131.6" y1="299" x2="474.8" y2="299" stroke="#111" stroke-width="1.8"/>
<line x1="131.6" y1="23.6" x2="131.6" y2="300" stroke="#7a7a7a" stroke-width="1.5"/>
<line x1="473.8" y1="23.6" x2="473.8" y2="299" stroke="#c04a4a" stroke-width="1"/>
<line x1="131.6" y1="299" x2="131.6" y2="304.2" stroke="#111" stroke-width="1.3"/>
<line x1="131.6" y1="23.6" x2="131.6" y2="27.8" stroke="#222" stroke-width="1.2"/>
<text x="131.6" y="317.3" font-size="10.7" fill="#111" text-anchor="middle">0</text>
<line x1="142.67" y1="299" x2="142.67" y2="301.8" stroke="#111" stroke-width="1.3"/>
<line x1="142.67" y1="23.6" x2="142.67" y2="26" stroke="#222" stroke-width="1.2"/>
<line x1="153.73" y1="299" x2="153.73" y2="304.2" stroke="#111" stroke-width="1.3"/>
<line x1="153.73" y1="23.6" x2="153.73" y2="27.8" stroke="#222" stroke-width="1.2"/>
<text x="153.73" y="317.3" font-size="10.7" fill="#111" text-anchor="middle">5</text>
<line x1="164.8" y1="299" x2="164.8" y2="301.8" stroke="#111" stroke-width="1.3"/>
<line x1="164.8" y1="23.6" x2="164.8" y2="26" stroke="#222" stroke-width="1.2"/>
<line x1="175.87" y1="299" x2="175.87" y2="304.2" stroke="#111" stroke-width="1.3"/>
<line x1="175.87" y1="23.6" x2="175.87" y2="27.8" stroke="#222" stroke-width="1.2"/>
<text x="175.87" y="317.3" font-size="10.7" fill="#111" text-anchor="middle">10</text>
<line x1="186.94" y1="299" x2="186.94" y2="301.8" stroke="#111" stroke-width="1.3"/>
<line x1="186.94" y1="23.6" x2="186.94" y2="26" stroke="#222" stroke-width="1.2"/>
<line x1="198" y1="299" x2="198" y2="304.2" stroke="#111" stroke-width="1.3"/>
<line x1="198" y1="23.6" x2="198" y2="27.8" stroke="#222" stroke-width="1.2"/>
<text x="198" y="317.3" font-size="10.7" fill="#111" text-anchor="middle">15</text>
<line x1="209.07" y1="299" x2="209.07" y2="301.8" stroke="#111" stroke-width="1.3"/>
<line x1="209.07" y1="23.6" x2="209.07" y2="26" stroke="#222" stroke-width="1.2"/>
<line x1="220.14" y1="299" x2="220.14" y2="304.2" stroke="#111" stroke-width="1.3"/>
<line x1="220.14" y1="23.6" x2="220.14" y2="27.8" stroke="#222" stroke-width="1.2"/>
<text x="220.14" y="317.3" font-size="10.7" fill="#111" text-anchor="middle">20</text>
<line x1="231.21" y1="299" x2="231.21" y2="301.8" stroke="#111" stroke-width="1.3"/>
<line x1="231.21" y1="23.6" x2="231.21" y2="26" stroke="#222" stroke-width="1.2"/>
<line x1="242.27" y1="299" x2="242.27" y2="304.2" stroke="#111" stroke-width="1.3"/>
<line x1="242.27" y1="23.6" x2="242.27" y2="27.8" stroke="#222" stroke-width="1.2"/>
<text x="242.27" y="317.3" font-size="10.7" fill="#111" text-anchor="middle">25</text>
<line x1="253.34" y1="299" x2="253.34" y2="301.8" stroke="#111" stroke-width="1.3"/>
<line x1="253.34" y1="23.6" x2="253.34" y2="26" stroke="#222" stroke-width="1.2"/>
<line x1="264.41" y1="299" x2="264.41" y2="304.2" stroke="#111" stroke-width="1.3"/>
<line x1="264.41" y1="23.6" x2="264.41" y2="27.8" stroke="#222" stroke-width="1.2"/>
<text x="264.41" y="317.3" font-size="10.7" fill="#111" text-anchor="middle">30</text>
<line x1="275.48" y1="299" x2="275.48" y2="301.8" stroke="#111" stroke-width="1.3"/>
<line x1="275.48" y1="23.6" x2="275.48" y2="26" stroke="#222" stroke-width="1.2"/>
<line x1="286.54" y1="299" x2="286.54" y2="304.2" stroke="#111" stroke-width="1.3"/>
<line x1="286.54" y1="23.6" x2="286.54" y2="27.8" stroke="#222" stroke-width="1.2"/>
<text x="286.54" y="317.3" font-size="10.7" fill="#111" text-anchor="middle">35</text>
<line x1="297.61" y1="299" x2="297.61" y2="301.8" stroke="#111" stroke-width="1.3"/>
<line x1="297.61" y1="23.6" x2="297.61" y2="26" stroke="#222" stroke-width="1.2"/>
<line x1="308.68" y1="299" x2="308.68" y2="304.2" stroke="#111" stroke-width="1.3"/>
<line x1="308.68" y1="23.6" x2="308.68" y2="27.8" stroke="#222" stroke-width="1.2"/>
<text x="308.68" y="317.3" font-size="10.7" fill="#111" text-anchor="middle">40</text>
<line x1="319.75" y1="299" x2="319.75" y2="301.8" stroke="#111" stroke-width="1.3"/>
<line x1="319.75" y1="23.6" x2="319.75" y2="26" stroke="#222" stroke-width="1.2"/>
<line x1="330.81" y1="299" x2="330.81" y2="304.2" stroke="#111" stroke-width="1.3"/>
<line x1="330.81" y1="23.6" x2="330.81" y2="27.8" stroke="#222" stroke-width="1.2"/>
<text x="330.81" y="317.3" font-size="10.7" fill="#111" text-anchor="middle">45</text>
<line x1="341.88" y1="299" x2="341.88" y2="301.8" stroke="#111" stroke-width="1.3"/>
<line x1="341.88" y1="23.6" x2="341.88" y2="26" stroke="#222" stroke-width="1.2"/>
<line x1="352.95" y1="299" x2="352.95" y2="304.2" stroke="#111" stroke-width="1.3"/>
<line x1="352.95" y1="23.6" x2="352.95" y2="27.8" stroke="#222" stroke-width="1.2"/>
<text x="352.95" y="317.3" font-size="10.7" fill="#111" text-anchor="middle">50</text>
<line x1="364.02" y1="299" x2="364.02" y2="301.8" stroke="#111" stroke-width="1.3"/>
<line x1="364.02" y1="23.6" x2="364.02" y2="26" stroke="#222" stroke-width="1.2"/>
<line x1="375.08" y1="299" x2="375.08" y2="304.2" stroke="#111" stroke-width="1.3"/>
<line x1="375.08" y1="23.6" x2="375.08" y2="27.8" stroke="#222" stroke-width="1.2"/>
<text x="375.08" y="317.3" font-size="10.7" fill="#111" text-anchor="middle">55</text>
<line x1="386.15" y1="299" x2="386.15" y2="301.8" stroke="#111" stroke-width="1.3"/>
<line x1="386.15" y1="23.6" x2="386.15" y2="26" stroke="#222" stroke-width="1.2"/>
<line x1="397.22" y1="299" x2="397.22" y2="304.2" stroke="#111" stroke-width="1.3"/>
<line x1="397.22" y1="23.6" x2="397.22" y2="27.8" stroke="#222" stroke-width="1.2"/>
<text x="397.22" y="317.3" font-size="10.7" fill="#111" text-anchor="middle">60</text>
<line x1="408.29" y1="299" x2="408.29" y2="301.8" stroke="#111" stroke-width="1.3"/>
<line x1="408.29" y1="23.6" x2="408.29" y2="26" stroke="#222" stroke-width="1.2"/>
<line x1="419.36" y1="299" x2="419.36" y2="304.2" stroke="#111" stroke-width="1.3"/>
<line x1="419.36" y1="23.6" x2="419.36" y2="27.8" stroke="#222" stroke-width="1.2"/>
<text x="419.36" y="317.3" font-size="10.7" fill="#111" text-anchor="middle">65</text>
<line x1="430.42" y1="299" x2="430.42" y2="301.8" stroke="#111" stroke-width="1.3"/>
<line x1="430.42" y1="23.6" x2="430.42" y2="26" stroke="#222" stroke-width="1.2"/>
<line x1="441.49" y1="299" x2="441.49" y2="304.2" stroke="#111" stroke-width="1.3"/>
<line x1="441.49" y1="23.6" x2="441.49" y2="27.8" stroke="#222" stroke-width="1.2"/>
<text x="441.49" y="317.3" font-size="10.7" fill="#111" text-anchor="middle">70</text>
<line x1="452.56" y1="299" x2="452.56" y2="301.8" stroke="#111" stroke-width="1.3"/>
<line x1="452.56" y1="23.6" x2="452.56" y2="26" stroke="#222" stroke-width="1.2"/>
<line x1="463.62" y1="299" x2="463.62" y2="304.2" stroke="#111" stroke-width="1.3"/>
<line x1="463.62" y1="23.6" x2="463.62" y2="27.8" stroke="#222" stroke-width="1.2"/>
<text x="463.62" y="317.3" font-size="10.7" fill="#111" text-anchor="middle">75</text>
<line x1="126.4" y1="299" x2="131.6" y2="299" stroke="#7a7a7a" stroke-width="1.2"/>
<text x="121.9" y="302.9" font-size="10.6" fill="#7a7a7a" text-anchor="end">0</text>
<line x1="128.6" y1="289.49" x2="131.6" y2="289.49" stroke="#7a7a7a" stroke-width="1.2"/>
<line x1="126.4" y1="279.98" x2="131.6" y2="279.98" stroke="#7a7a7a" stroke-width="1.2"/>
<text x="121.9" y="283.88" font-size="10.6" fill="#7a7a7a" text-anchor="end">10</text>
<line x1="128.6" y1="270.47" x2="131.6" y2="270.47" stroke="#7a7a7a" stroke-width="1.2"/>
<line x1="126.4" y1="260.96" x2="131.6" y2="260.96" stroke="#7a7a7a" stroke-width="1.2"/>
<text x="121.9" y="264.86" font-size="10.6" fill="#7a7a7a" text-anchor="end">20</text>
<line x1="128.6" y1="251.45" x2="131.6" y2="251.45" stroke="#7a7a7a" stroke-width="1.2"/>
<line x1="126.4" y1="241.94" x2="131.6" y2="241.94" stroke="#7a7a7a" stroke-width="1.2"/>
<text x="121.9" y="245.84" font-size="10.6" fill="#7a7a7a" text-anchor="end">30</text>
<line x1="128.6" y1="232.43" x2="131.6" y2="232.43" stroke="#7a7a7a" stroke-width="1.2"/>
<line x1="126.4" y1="222.92" x2="131.6" y2="222.92" stroke="#7a7a7a" stroke-width="1.2"/>
<text x="121.9" y="226.82" font-size="10.6" fill="#7a7a7a" text-anchor="end">40</text>
<line x1="128.6" y1="213.41" x2="131.6" y2="213.41" stroke="#7a7a7a" stroke-width="1.2"/>
<line x1="126.4" y1="203.9" x2="131.6" y2="203.9" stroke="#7a7a7a" stroke-width="1.2"/>
<text x="121.9" y="207.8" font-size="10.6" fill="#7a7a7a" text-anchor="end">50</text>
<line x1="128.6" y1="194.39" x2="131.6" y2="194.39" stroke="#7a7a7a" stroke-width="1.2"/>
<line x1="126.4" y1="184.88" x2="131.6" y2="184.88" stroke="#7a7a7a" stroke-width="1.2"/>
<text x="121.9" y="188.78" font-size="10.6" fill="#7a7a7a" text-anchor="end">60</text>
<line x1="128.6" y1="175.37" x2="131.6" y2="175.37" stroke="#7a7a7a" stroke-width="1.2"/>
<line x1="126.4" y1="165.86" x2="131.6" y2="165.86" stroke="#7a7a7a" stroke-width="1.2"/>
<text x="121.9" y="169.76" font-size="10.6" fill="#7a7a7a" text-anchor="end">70</text>
<line x1="128.6" y1="156.35" x2="131.6" y2="156.35" stroke="#7a7a7a" stroke-width="1.2"/>
<line x1="126.4" y1="146.84" x2="131.6" y2="146.84" stroke="#7a7a7a" stroke-width="1.2"/>
<text x="121.9" y="150.74" font-size="10.6" fill="#7a7a7a" text-anchor="end">80</text>
<line x1="128.6" y1="137.33" x2="131.6" y2="137.33" stroke="#7a7a7a" stroke-width="1.2"/>
<line x1="126.4" y1="127.82" x2="131.6" y2="127.82" stroke="#7a7a7a" stroke-width="1.2"/>
<text x="121.9" y="131.72" font-size="10.6" fill="#7a7a7a" text-anchor="end">90</text>
<line x1="128.6" y1="118.31" x2="131.6" y2="118.31" stroke="#7a7a7a" stroke-width="1.2"/>
<line x1="126.4" y1="108.8" x2="131.6" y2="108.8" stroke="#7a7a7a" stroke-width="1.2"/>
<text x="121.9" y="112.7" font-size="10.6" fill="#7a7a7a" text-anchor="end">100</text>
<line x1="128.6" y1="99.29" x2="131.6" y2="99.29" stroke="#7a7a7a" stroke-width="1.2"/>
<line x1="126.4" y1="89.78" x2="131.6" y2="89.78" stroke="#7a7a7a" stroke-width="1.2"/>
<text x="121.9" y="93.68" font-size="10.6" fill="#7a7a7a" text-anchor="end">110</text>
<line x1="128.6" y1="80.27" x2="131.6" y2="80.27" stroke="#7a7a7a" stroke-width="1.2"/>
<line x1="126.4" y1="70.76" x2="131.6" y2="70.76" stroke="#7a7a7a" stroke-width="1.2"/>
<text x="121.9" y="74.66" font-size="10.6" fill="#7a7a7a" text-anchor="end">120</text>
<line x1="128.6" y1="61.25" x2="131.6" y2="61.25" stroke="#7a7a7a" stroke-width="1.2"/>
<line x1="126.4" y1="51.74" x2="131.6" y2="51.74" stroke="#7a7a7a" stroke-width="1.2"/>
<text x="121.9" y="55.64" font-size="10.6" fill="#7a7a7a" text-anchor="end">130</text>
<line x1="128.6" y1="42.23" x2="131.6" y2="42.23" stroke="#7a7a7a" stroke-width="1.2"/>
<line x1="126.4" y1="32.72" x2="131.6" y2="32.72" stroke="#7a7a7a" stroke-width="1.2"/>
<text x="121.9" y="36.62" font-size="10.6" fill="#7a7a7a" text-anchor="end">140</text>
<line x1="473.8" y1="299" x2="479" y2="299" stroke="#c04a4a" stroke-width="1.1"/>
<text x="483.5" y="303" font-size="11.2" fill="#b85050">0</text>
<line x1="473.8" y1="276.05" x2="476.8" y2="276.05" stroke="#c04a4a" stroke-width="1.1"/>
<line x1="473.8" y1="253.1" x2="479" y2="253.1" stroke="#c04a4a" stroke-width="1.1"/>
<text x="483.5" y="257.1" font-size="11.2" fill="#b85050">10</text>
<line x1="473.8" y1="230.15" x2="476.8" y2="230.15" stroke="#c04a4a" stroke-width="1.1"/>
<line x1="473.8" y1="207.2" x2="479" y2="207.2" stroke="#c04a4a" stroke-width="1.1"/>
<text x="483.5" y="211.2" font-size="11.2" fill="#b85050">20</text>
<line x1="473.8" y1="184.25" x2="476.8" y2="184.25" stroke="#c04a4a" stroke-width="1.1"/>
<line x1="473.8" y1="161.3" x2="479" y2="161.3" stroke="#c04a4a" stroke-width="1.1"/>
<text x="483.5" y="165.3" font-size="11.2" fill="#b85050">30</text>
<line x1="473.8" y1="138.35" x2="476.8" y2="138.35" stroke="#c04a4a" stroke-width="1.1"/>
<line x1="473.8" y1="115.4" x2="479" y2="115.4" stroke="#c04a4a" stroke-width="1.1"/>
<text x="483.5" y="119.4" font-size="11.2" fill="#b85050">40</text>
<line x1="473.8" y1="92.45" x2="476.8" y2="92.45" stroke="#c04a4a" stroke-width="1.1"/>
<line x1="473.8" y1="69.5" x2="479" y2="69.5" stroke="#c04a4a" stroke-width="1.1"/>
<text x="483.5" y="73.5" font-size="11.2" fill="#b85050">50</text>
<line x1="473.8" y1="46.55" x2="476.8" y2="46.55" stroke="#c04a4a" stroke-width="1.1"/>
<line x1="473.8" y1="23.6" x2="479" y2="23.6" stroke="#c04a4a" stroke-width="1.1"/>
<text x="483.5" y="27.6" font-size="11.2" fill="#b85050">60</text>
<text transform="translate(92.6,249.6) rotate(-90)" font-size="14.7" fill="#000">Power Density&#160; /&#160; mW cm<tspan dy="-5.5" font-size="9.5">-2</tspan></text>
<text transform="translate(514.4,239) rotate(-90)" font-size="13.9" fill="#000">Energy Density&#160; /&#160; Wh L<tspan dy="-5.5" font-size="9">-1</tspan></text>
<text x="216.9" y="341.9" font-size="14.1" fill="#000">Current Density&#160; /&#160; mA cm<tspan dy="-5.5" font-size="9">-2</tspan></text>
</g>
<g filter="url(#cmap)" shape-rendering="crispEdges">
<rect x="634.3" y="33.5" width="121.2" height="5.5" fill="url(#h1)"/>
<rect x="634.3" y="39" width="121.2" height="1" fill="url(#h2)"/>
<rect x="634.3" y="40" width="121.2" height="1" fill="url(#h3)"/>
<rect x="634.3" y="41" width="121.2" height="1" fill="url(#h4)"/>
<rect x="634.3" y="42" width="121.2" height="1" fill="url(#h5)"/>
<rect x="634.3" y="43" width="121.2" height="1" fill="url(#h6)"/>
<rect x="634.3" y="44" width="121.2" height="1" fill="url(#h7)"/>
<rect x="634.3" y="45" width="121.2" height="1" fill="url(#h8)"/>
<rect x="634.3" y="46" width="121.2" height="1" fill="url(#h9)"/>
<rect x="634.3" y="47" width="121.2" height="2" fill="url(#h10)"/>
<rect x="634.3" y="49" width="121.2" height="2" fill="url(#h11)"/>
<rect x="634.3" y="51" width="121.2" height="3" fill="url(#h12)"/>
<rect x="634.3" y="54" width="121.2" height="5" fill="url(#h13)"/>
<rect x="634.3" y="59" width="121.2" height="6" fill="url(#h14)"/>
<rect x="634.3" y="65" width="121.2" height="6" fill="url(#h15)"/>
<rect x="634.3" y="71" width="121.2" height="6" fill="url(#h16)"/>
<rect x="634.3" y="77" width="121.2" height="6" fill="url(#h17)"/>
<rect x="634.3" y="83" width="121.2" height="6" fill="url(#h18)"/>
<rect x="634.3" y="89" width="121.2" height="6" fill="url(#h19)"/>
<rect x="634.3" y="95" width="121.2" height="6" fill="url(#h20)"/>
<rect x="634.3" y="101" width="121.2" height="6" fill="url(#h21)"/>
<rect x="634.3" y="107" width="121.2" height="6" fill="url(#h22)"/>
<rect x="634.3" y="113" width="121.2" height="6" fill="url(#h23)"/>
<rect x="634.3" y="119" width="121.2" height="6" fill="url(#h24)"/>
<rect x="634.3" y="125" width="121.2" height="6" fill="url(#h25)"/>
<rect x="634.3" y="131" width="121.2" height="6" fill="url(#h26)"/>
<rect x="634.3" y="137" width="121.2" height="6" fill="url(#h27)"/>
<rect x="634.3" y="143" width="121.2" height="6" fill="url(#h28)"/>
<rect x="634.3" y="149" width="121.2" height="0.5" fill="url(#h29)"/>
</g>
<rect x="747.6" y="95" width="7.9" height="54.5" fill="#1a0040" opacity="0.2"/>
<line x1="747.6" y1="33.5" x2="747.6" y2="149.5" stroke="#e8206a" stroke-width="1.1" opacity="0.6"/>
<line x1="634.3" y1="95" x2="755.5" y2="95" stroke="#e8206a" stroke-width="1.1" opacity="0.6"/>
<line x1="634.3" y1="33.8" x2="755.5" y2="33.8" stroke="#200060" stroke-width="0.7" opacity="0.6"/>
<text x="747.6" y="31.2" font-size="5.2" fill="#e04848" text-anchor="middle">1.67</text>
<text x="757.1" y="97" font-size="5.6" fill="#e04848">0.025</text>
<circle cx="757.5" cy="148.5" r="4.3" fill="none" stroke="#e03838" stroke-width="0.8"/>
<rect x="639.2" y="44.2" width="112.7" height="15" fill="#fff"/>
<text x="640.4" y="49.8" font-size="5.3" fill="#d84848">Min<tspan font-size="3.2" dy="1.3">SC,EnergyCont</tspan><tspan dy="-1.3">(Concentration</tspan><tspan font-size="3.2" dy="1.3">EC,MV(VBO)</tspan><tspan dy="-1.3">)</tspan>: 2.4 mol L<tspan font-size="3.3" dy="-2">-1</tspan></text>
<text x="640.4" y="56.4" font-size="5.3" fill="#d84848">Min<tspan font-size="3.2" dy="1.3">SC,EnergyCont</tspan><tspan dy="-1.3">(R</tspan><tspan font-size="3.2" dy="1.3">Inner</tspan><tspan dy="-1.3">): 0.001 Ω</tspan></text>
<line x1="756.4" y1="103.1" x2="767.36" y2="158.5" stroke="#222" stroke-width="0.6"/>
<rect x="744.4" y="158.5" width="65.6" height="13.4" fill="#fff" stroke="#9a9a9a" stroke-width="0.7"/>
<text x="808.5" y="164.1" font-size="5.4" fill="#222" text-anchor="end">Range: 11 € Wh<tspan font-size="3.4" dy="-2">-1</tspan></text>
<text x="808.8" y="170.1" font-size="4.75" fill="#222" text-anchor="end">Optimization Potential: 4.92%</text>
<rect x="773.8" y="33.5" width="9.9" height="116" fill="url(#cb30)"/>
<line x1="783.7" y1="33.5" x2="785.2" y2="33.5" stroke="#333" stroke-width="0.5"/>
<text x="786.9" y="35.1" font-size="4.4" fill="#333">13650</text>
<line x1="783.7" y1="48" x2="785.2" y2="48" stroke="#333" stroke-width="0.5"/>
<text x="786.9" y="49.6" font-size="4.4" fill="#333">9815</text>
<line x1="783.7" y1="62.5" x2="785.2" y2="62.5" stroke="#333" stroke-width="0.5"/>
<text x="786.9" y="64.1" font-size="4.4" fill="#333">7580</text>
<line x1="783.7" y1="77" x2="785.2" y2="77" stroke="#333" stroke-width="0.5"/>
<text x="786.9" y="78.6" font-size="4.4" fill="#333">6398</text>
<line x1="783.7" y1="91.5" x2="785.2" y2="91.5" stroke="#333" stroke-width="0.5"/>
<text x="786.9" y="93.1" font-size="4.4" fill="#333">5128</text>
<line x1="783.7" y1="106" x2="785.2" y2="106" stroke="#333" stroke-width="0.5"/>
<text x="786.9" y="107.6" font-size="4.4" fill="#333">3864</text>
<line x1="783.7" y1="120.5" x2="785.2" y2="120.5" stroke="#333" stroke-width="0.5"/>
<text x="786.9" y="122.1" font-size="4.4" fill="#333">2600</text>
<line x1="783.7" y1="135" x2="785.2" y2="135" stroke="#333" stroke-width="0.5"/>
<text x="786.9" y="136.6" font-size="4.4" fill="#333">1421</text>
<line x1="783.7" y1="149.5" x2="785.2" y2="149.5" stroke="#333" stroke-width="0.5"/>
<text x="786.9" y="151.1" font-size="4.4" fill="#333">236</text>
<text x="752.3" y="28.5" font-size="6.6" fill="#333">SC<tspan font-size="4.2" dy="2">EnergyCont</tspan><tspan dy="-2"> / € Wh</tspan><tspan font-size="4" dy="-2.5">-1</tspan></text>
<text x="636.6" y="21.7" font-size="12.6" fill="#000" font-weight="bold">Vanadium FB (1.67 M)</text>
<text x="606" y="24.7" font-size="10.8" fill="#222">a)</text>
<line x1="633.3" y1="33.5" x2="634.3" y2="33.5" stroke="#444" stroke-width="0.5"/>
<line x1="633.3" y1="37.37" x2="634.3" y2="37.37" stroke="#444" stroke-width="0.5"/>
<line x1="633.3" y1="41.23" x2="634.3" y2="41.23" stroke="#444" stroke-width="0.5"/>
<line x1="633.3" y1="45.1" x2="634.3" y2="45.1" stroke="#444" stroke-width="0.5"/>
<line x1="633.3" y1="48.97" x2="634.3" y2="48.97" stroke="#444" stroke-width="0.5"/>
<line x1="633.3" y1="52.83" x2="634.3" y2="52.83" stroke="#444" stroke-width="0.5"/>
<line x1="633.3" y1="56.7" x2="634.3" y2="56.7" stroke="#444" stroke-width="0.5"/>
<line x1="633.3" y1="60.57" x2="634.3" y2="60.57" stroke="#444" stroke-width="0.5"/>
<line x1="633.3" y1="64.43" x2="634.3" y2="64.43" stroke="#444" stroke-width="0.5"/>
<line x1="633.3" y1="68.3" x2="634.3" y2="68.3" stroke="#444" stroke-width="0.5"/>
<line x1="633.3" y1="72.17" x2="634.3" y2="72.17" stroke="#444" stroke-width="0.5"/>
<line x1="633.3" y1="76.03" x2="634.3" y2="76.03" stroke="#444" stroke-width="0.5"/>
<line x1="633.3" y1="79.9" x2="634.3" y2="79.9" stroke="#444" stroke-width="0.5"/>
<line x1="633.3" y1="83.77" x2="634.3" y2="83.77" stroke="#444" stroke-width="0.5"/>
<line x1="633.3" y1="87.63" x2="634.3" y2="87.63" stroke="#444" stroke-width="0.5"/>
<line x1="633.3" y1="91.5" x2="634.3" y2="91.5" stroke="#444" stroke-width="0.5"/>
<line x1="633.3" y1="95.37" x2="634.3" y2="95.37" stroke="#444" stroke-width="0.5"/>
<line x1="633.3" y1="99.23" x2="634.3" y2="99.23" stroke="#444" stroke-width="0.5"/>
<line x1="633.3" y1="103.1" x2="634.3" y2="103.1" stroke="#444" stroke-width="0.5"/>
<line x1="633.3" y1="106.97" x2="634.3" y2="106.97" stroke="#444" stroke-width="0.5"/>
<line x1="633.3" y1="110.83" x2="634.3" y2="110.83" stroke="#444" stroke-width="0.5"/>
<line x1="633.3" y1="114.7" x2="634.3" y2="114.7" stroke="#444" stroke-width="0.5"/>
<line x1="633.3" y1="118.57" x2="634.3" y2="118.57" stroke="#444" stroke-width="0.5"/>
<line x1="633.3" y1="122.43" x2="634.3" y2="122.43" stroke="#444" stroke-width="0.5"/>
<line x1="633.3" y1="126.3" x2="634.3" y2="126.3" stroke="#444" stroke-width="0.5"/>
<line x1="633.3" y1="130.17" x2="634.3" y2="130.17" stroke="#444" stroke-width="0.5"/>
<line x1="633.3" y1="134.03" x2="634.3" y2="134.03" stroke="#444" stroke-width="0.5"/>
<line x1="633.3" y1="137.9" x2="634.3" y2="137.9" stroke="#444" stroke-width="0.5"/>
<line x1="633.3" y1="141.77" x2="634.3" y2="141.77" stroke="#444" stroke-width="0.5"/>
<line x1="633.3" y1="145.63" x2="634.3" y2="145.63" stroke="#444" stroke-width="0.5"/>
<line x1="633.3" y1="149.5" x2="634.3" y2="149.5" stroke="#444" stroke-width="0.5"/>
<line x1="634.3" y1="149.5" x2="634.3" y2="150.5" stroke="#444" stroke-width="0.5"/>
<line x1="638.34" y1="149.5" x2="638.34" y2="150.5" stroke="#444" stroke-width="0.5"/>
<line x1="642.38" y1="149.5" x2="642.38" y2="150.5" stroke="#444" stroke-width="0.5"/>
<line x1="646.42" y1="149.5" x2="646.42" y2="150.5" stroke="#444" stroke-width="0.5"/>
<line x1="650.46" y1="149.5" x2="650.46" y2="150.5" stroke="#444" stroke-width="0.5"/>
<line x1="654.5" y1="149.5" x2="654.5" y2="150.5" stroke="#444" stroke-width="0.5"/>
<line x1="658.54" y1="149.5" x2="658.54" y2="150.5" stroke="#444" stroke-width="0.5"/>
<line x1="662.58" y1="149.5" x2="662.58" y2="150.5" stroke="#444" stroke-width="0.5"/>
<line x1="666.62" y1="149.5" x2="666.62" y2="150.5" stroke="#444" stroke-width="0.5"/>
<line x1="670.66" y1="149.5" x2="670.66" y2="150.5" stroke="#444" stroke-width="0.5"/>
<line x1="674.7" y1="149.5" x2="674.7" y2="150.5" stroke="#444" stroke-width="0.5"/>
<line x1="678.74" y1="149.5" x2="678.74" y2="150.5" stroke="#444" stroke-width="0.5"/>
<line x1="682.78" y1="149.5" x2="682.78" y2="150.5" stroke="#444" stroke-width="0.5"/>
<line x1="686.82" y1="149.5" x2="686.82" y2="150.5" stroke="#444" stroke-width="0.5"/>
<line x1="690.86" y1="149.5" x2="690.86" y2="150.5" stroke="#444" stroke-width="0.5"/>
<line x1="694.9" y1="149.5" x2="694.9" y2="150.5" stroke="#444" stroke-width="0.5"/>
<line x1="698.94" y1="149.5" x2="698.94" y2="150.5" stroke="#444" stroke-width="0.5"/>
<line x1="702.98" y1="149.5" x2="702.98" y2="150.5" stroke="#444" stroke-width="0.5"/>
<line x1="707.02" y1="149.5" x2="707.02" y2="150.5" stroke="#444" stroke-width="0.5"/>
<line x1="711.06" y1="149.5" x2="711.06" y2="150.5" stroke="#444" stroke-width="0.5"/>
<line x1="715.1" y1="149.5" x2="715.1" y2="150.5" stroke="#444" stroke-width="0.5"/>
<line x1="719.14" y1="149.5" x2="719.14" y2="150.5" stroke="#444" stroke-width="0.5"/>
<line x1="723.18" y1="149.5" x2="723.18" y2="150.5" stroke="#444" stroke-width="0.5"/>
<line x1="727.22" y1="149.5" x2="727.22" y2="150.5" stroke="#444" stroke-width="0.5"/>
<line x1="731.26" y1="149.5" x2="731.26" y2="150.5" stroke="#444" stroke-width="0.5"/>
<line x1="735.3" y1="149.5" x2="735.3" y2="150.5" stroke="#444" stroke-width="0.5"/>
<line x1="739.34" y1="149.5" x2="739.34" y2="150.5" stroke="#444" stroke-width="0.5"/>
<line x1="743.38" y1="149.5" x2="743.38" y2="150.5" stroke="#444" stroke-width="0.5"/>
<line x1="747.42" y1="149.5" x2="747.42" y2="150.5" stroke="#444" stroke-width="0.5"/>
<line x1="751.46" y1="149.5" x2="751.46" y2="150.5" stroke="#444" stroke-width="0.5"/>
<line x1="755.5" y1="149.5" x2="755.5" y2="150.5" stroke="#444" stroke-width="0.5"/>
<text x="632" y="35.1" font-size="4.6" fill="#333" text-anchor="end">1</text>
<text x="632" y="73.77" font-size="4.6" fill="#333" text-anchor="end">0.1</text>
<text x="632" y="112.43" font-size="4.6" fill="#333" text-anchor="end">0.01</text>
<text x="632" y="151.1" font-size="4.6" fill="#333" text-anchor="end">0,001</text>
<text x="636.72" y="155.9" font-size="4.8" fill="#333" text-anchor="middle">0.01</text>
<text x="686.42" y="155.9" font-size="4.8" fill="#333" text-anchor="middle">0,1</text>
<text x="736.71" y="155.9" font-size="4.8" fill="#333" text-anchor="middle">1</text>
<text transform="translate(613.8,91.5) rotate(-90)" font-size="5.4" fill="#333" text-anchor="middle">R<tspan font-size="3.4" dy="1.3">Inner</tspan><tspan dy="-1.3"> / Ω</tspan></text>
<text x="694.9" y="166" font-size="5.95" fill="#333" text-anchor="middle">Concentration<tspan font-size="4.3" dy="1.6">Active Species</tspan><tspan dy="-1.6">&#160; /&#160; mol L</tspan><tspan font-size="4" dy="-2.4">-1</tspan></text>
<g filter="url(#cmap)" shape-rendering="crispEdges">
<rect x="851.4" y="33.5" width="121.5" height="0.5" fill="url(#h31)"/>
<rect x="851.4" y="34" width="121.5" height="1" fill="url(#h32)"/>
<rect x="851.4" y="35" width="121.5" height="1" fill="url(#h33)"/>
<rect x="851.4" y="36" width="121.5" height="1" fill="url(#h34)"/>
<rect x="851.4" y="37" width="121.5" height="1" fill="url(#h35)"/>
<rect x="851.4" y="38" width="121.5" height="1" fill="url(#h36)"/>
<rect x="851.4" y="39" width="121.5" height="2" fill="url(#h37)"/>
<rect x="851.4" y="41" width="121.5" height="2" fill="url(#h38)"/>
<rect x="851.4" y="43" width="121.5" height="2" fill="url(#h39)"/>
<rect x="851.4" y="45" width="121.5" height="3" fill="url(#h40)"/>
<rect x="851.4" y="48" width="121.5" height="4" fill="url(#h41)"/>
<rect x="851.4" y="52" width="121.5" height="5" fill="url(#h42)"/>
<rect x="851.4" y="57" width="121.5" height="6" fill="url(#h43)"/>
<rect x="851.4" y="63" width="121.5" height="6" fill="url(#h44)"/>
<rect x="851.4" y="69" width="121.5" height="6" fill="url(#h45)"/>
<rect x="851.4" y="75" width="121.5" height="6" fill="url(#h46)"/>
<rect x="851.4" y="81" width="121.5" height="6" fill="url(#h47)"/>
<rect x="851.4" y="87" width="121.5" height="6" fill="url(#h48)"/>
<rect x="851.4" y="93" width="121.5" height="6" fill="url(#h49)"/>
<rect x="851.4" y="99" width="121.5" height="6" fill="url(#h50)"/>
<rect x="851.4" y="105" width="121.5" height="6" fill="url(#h51)"/>
<rect x="851.4" y="111" width="121.5" height="6" fill="url(#h52)"/>
<rect x="851.4" y="117" width="121.5" height="6" fill="url(#h53)"/>
<rect x="851.4" y="123" width="121.5" height="6" fill="url(#h54)"/>
<rect x="851.4" y="129" width="121.5" height="6" fill="url(#h55)"/>
<rect x="851.4" y="135" width="121.5" height="6" fill="url(#h56)"/>
<rect x="851.4" y="141" width="121.5" height="6" fill="url(#h57)"/>
<rect x="851.4" y="147" width="121.5" height="2.5" fill="url(#h58)"/>
</g>
<line x1="938.5" y1="33.5" x2="938.5" y2="149.5" stroke="#e8206a" stroke-width="1.1" opacity="0.6"/>
<line x1="851.4" y1="74.7" x2="972.9" y2="74.7" stroke="#e8206a" stroke-width="1.1" opacity="0.6"/>
<line x1="851.4" y1="33.8" x2="972.9" y2="33.8" stroke="#200060" stroke-width="0.7" opacity="0.6"/>
<line x1="938.5" y1="74.7" x2="938.5" y2="149.5" stroke="#a01050" stroke-width="1.5" opacity="0.8"/>
<text x="938.5" y="31.2" font-size="5.2" fill="#e04848" text-anchor="middle">0.5</text>
<text x="974.5" y="76.7" font-size="5.6" fill="#e04848">0.082</text>
<circle cx="938.5" cy="149.5" r="4.3" fill="none" stroke="#e03838" stroke-width="0.8"/>
<rect x="860" y="55.7" width="112.5" height="14.1" fill="#fff"/>
<text x="861.2" y="61.3" font-size="5.3" fill="#d84848">Min<tspan font-size="3.2" dy="1.3">SC,EnergyCont</tspan><tspan dy="-1.3">(Concentration</tspan><tspan font-size="3.2" dy="1.3">Active Species</tspan><tspan dy="-1.3">)</tspan>: 0.5-9.8 L<tspan font-size="3.3" dy="-2">-1</tspan></text>
<text x="861.2" y="67.9" font-size="5.3" fill="#d84848">Min<tspan font-size="3.2" dy="1.3">SC,EnergyCont</tspan><tspan dy="-1.3">(R</tspan><tspan font-size="3.2" dy="1.3">Inner</tspan><tspan dy="-1.3">): 0.001 Ω</tspan></text>
<line x1="938.8" y1="74.5" x2="984.86" y2="158.5" stroke="#222" stroke-width="0.6"/>
<rect x="962" y="158.5" width="65.3" height="13" fill="#fff" stroke="#9a9a9a" stroke-width="0.7"/>
<text x="1025.8" y="164.1" font-size="5.4" fill="#222" text-anchor="end">Range: 2 € Wh<tspan font-size="3.4" dy="-2">-1</tspan></text>
<text x="1026.1" y="170.1" font-size="4.75" fill="#222" text-anchor="end">Optimization Potential: 0.23%</text>
<rect x="991.6" y="33.5" width="9.4" height="116" fill="url(#cb59)"/>
<line x1="1001" y1="33.5" x2="1002.5" y2="33.5" stroke="#333" stroke-width="0.5"/>
<text x="1004.2" y="35.1" font-size="4.4" fill="#333">14903</text>
<line x1="1001" y1="48" x2="1002.5" y2="48" stroke="#333" stroke-width="0.5"/>
<text x="1004.2" y="49.6" font-size="4.4" fill="#333">12144</text>
<line x1="1001" y1="62.5" x2="1002.5" y2="62.5" stroke="#333" stroke-width="0.5"/>
<text x="1004.2" y="64.1" font-size="4.4" fill="#333">11388</text>
<line x1="1001" y1="77" x2="1002.5" y2="77" stroke="#333" stroke-width="0.5"/>
<text x="1004.2" y="78.6" font-size="4.4" fill="#333">9621</text>
<line x1="1001" y1="91.5" x2="1002.5" y2="91.5" stroke="#333" stroke-width="0.5"/>
<text x="1004.2" y="93.1" font-size="4.4" fill="#333">7872</text>
<line x1="1001" y1="106" x2="1002.5" y2="106" stroke="#333" stroke-width="0.5"/>
<text x="1004.2" y="107.6" font-size="4.4" fill="#333">6116</text>
<line x1="1001" y1="120.5" x2="1002.5" y2="120.5" stroke="#333" stroke-width="0.5"/>
<text x="1004.2" y="122.1" font-size="4.4" fill="#333">4362</text>
<line x1="1001" y1="135" x2="1002.5" y2="135" stroke="#333" stroke-width="0.5"/>
<text x="1004.2" y="136.6" font-size="4.4" fill="#333">2606</text>
<line x1="1001" y1="149.5" x2="1002.5" y2="149.5" stroke="#333" stroke-width="0.5"/>
<text x="1004.2" y="151.1" font-size="4.4" fill="#333">850</text>
<text x="970.1" y="28.5" font-size="6.6" fill="#333">SC<tspan font-size="4.2" dy="2">EnergyCont</tspan><tspan dy="-2"> / € Wh</tspan><tspan font-size="4" dy="-2.5">-1</tspan></text>
<text x="853" y="21.7" font-size="12.6" fill="#000" font-weight="bold">MV/TEMPOL FB (0.5 M)</text>
<text x="823.7" y="24.7" font-size="10.8" fill="#222">b)</text>
<line x1="850.4" y1="33.5" x2="851.4" y2="33.5" stroke="#444" stroke-width="0.5"/>
<line x1="850.4" y1="37.37" x2="851.4" y2="37.37" stroke="#444" stroke-width="0.5"/>
<line x1="850.4" y1="41.23" x2="851.4" y2="41.23" stroke="#444" stroke-width="0.5"/>
<line x1="850.4" y1="45.1" x2="851.4" y2="45.1" stroke="#444" stroke-width="0.5"/>
<line x1="850.4" y1="48.97" x2="851.4" y2="48.97" stroke="#444" stroke-width="0.5"/>
<line x1="850.4" y1="52.83" x2="851.4" y2="52.83" stroke="#444" stroke-width="0.5"/>
<line x1="850.4" y1="56.7" x2="851.4" y2="56.7" stroke="#444" stroke-width="0.5"/>
<line x1="850.4" y1="60.57" x2="851.4" y2="60.57" stroke="#444" stroke-width="0.5"/>
<line x1="850.4" y1="64.43" x2="851.4" y2="64.43" stroke="#444" stroke-width="0.5"/>
<line x1="850.4" y1="68.3" x2="851.4" y2="68.3" stroke="#444" stroke-width="0.5"/>
<line x1="850.4" y1="72.17" x2="851.4" y2="72.17" stroke="#444" stroke-width="0.5"/>
<line x1="850.4" y1="76.03" x2="851.4" y2="76.03" stroke="#444" stroke-width="0.5"/>
<line x1="850.4" y1="79.9" x2="851.4" y2="79.9" stroke="#444" stroke-width="0.5"/>
<line x1="850.4" y1="83.77" x2="851.4" y2="83.77" stroke="#444" stroke-width="0.5"/>
<line x1="850.4" y1="87.63" x2="851.4" y2="87.63" stroke="#444" stroke-width="0.5"/>
<line x1="850.4" y1="91.5" x2="851.4" y2="91.5" stroke="#444" stroke-width="0.5"/>
<line x1="850.4" y1="95.37" x2="851.4" y2="95.37" stroke="#444" stroke-width="0.5"/>
<line x1="850.4" y1="99.23" x2="851.4" y2="99.23" stroke="#444" stroke-width="0.5"/>
<line x1="850.4" y1="103.1" x2="851.4" y2="103.1" stroke="#444" stroke-width="0.5"/>
<line x1="850.4" y1="106.97" x2="851.4" y2="106.97" stroke="#444" stroke-width="0.5"/>
<line x1="850.4" y1="110.83" x2="851.4" y2="110.83" stroke="#444" stroke-width="0.5"/>
<line x1="850.4" y1="114.7" x2="851.4" y2="114.7" stroke="#444" stroke-width="0.5"/>
<line x1="850.4" y1="118.57" x2="851.4" y2="118.57" stroke="#444" stroke-width="0.5"/>
<line x1="850.4" y1="122.43" x2="851.4" y2="122.43" stroke="#444" stroke-width="0.5"/>
<line x1="850.4" y1="126.3" x2="851.4" y2="126.3" stroke="#444" stroke-width="0.5"/>
<line x1="850.4" y1="130.17" x2="851.4" y2="130.17" stroke="#444" stroke-width="0.5"/>
<line x1="850.4" y1="134.03" x2="851.4" y2="134.03" stroke="#444" stroke-width="0.5"/>
<line x1="850.4" y1="137.9" x2="851.4" y2="137.9" stroke="#444" stroke-width="0.5"/>
<line x1="850.4" y1="141.77" x2="851.4" y2="141.77" stroke="#444" stroke-width="0.5"/>
<line x1="850.4" y1="145.63" x2="851.4" y2="145.63" stroke="#444" stroke-width="0.5"/>
<line x1="850.4" y1="149.5" x2="851.4" y2="149.5" stroke="#444" stroke-width="0.5"/>
<line x1="851.4" y1="149.5" x2="851.4" y2="150.5" stroke="#444" stroke-width="0.5"/>
<line x1="855.45" y1="149.5" x2="855.45" y2="150.5" stroke="#444" stroke-width="0.5"/>
<line x1="859.5" y1="149.5" x2="859.5" y2="150.5" stroke="#444" stroke-width="0.5"/>
<line x1="863.55" y1="149.5" x2="863.55" y2="150.5" stroke="#444" stroke-width="0.5"/>
<line x1="867.6" y1="149.5" x2="867.6" y2="150.5" stroke="#444" stroke-width="0.5"/>
<line x1="871.65" y1="149.5" x2="871.65" y2="150.5" stroke="#444" stroke-width="0.5"/>
<line x1="875.7" y1="149.5" x2="875.7" y2="150.5" stroke="#444" stroke-width="0.5"/>
<line x1="879.75" y1="149.5" x2="879.75" y2="150.5" stroke="#444" stroke-width="0.5"/>
<line x1="883.8" y1="149.5" x2="883.8" y2="150.5" stroke="#444" stroke-width="0.5"/>
<line x1="887.85" y1="149.5" x2="887.85" y2="150.5" stroke="#444" stroke-width="0.5"/>
<line x1="891.9" y1="149.5" x2="891.9" y2="150.5" stroke="#444" stroke-width="0.5"/>
<line x1="895.95" y1="149.5" x2="895.95" y2="150.5" stroke="#444" stroke-width="0.5"/>
<line x1="900" y1="149.5" x2="900" y2="150.5" stroke="#444" stroke-width="0.5"/>
<line x1="904.05" y1="149.5" x2="904.05" y2="150.5" stroke="#444" stroke-width="0.5"/>
<line x1="908.1" y1="149.5" x2="908.1" y2="150.5" stroke="#444" stroke-width="0.5"/>
<line x1="912.15" y1="149.5" x2="912.15" y2="150.5" stroke="#444" stroke-width="0.5"/>
<line x1="916.2" y1="149.5" x2="916.2" y2="150.5" stroke="#444" stroke-width="0.5"/>
<line x1="920.25" y1="149.5" x2="920.25" y2="150.5" stroke="#444" stroke-width="0.5"/>
<line x1="924.3" y1="149.5" x2="924.3" y2="150.5" stroke="#444" stroke-width="0.5"/>
<line x1="928.35" y1="149.5" x2="928.35" y2="150.5" stroke="#444" stroke-width="0.5"/>
<line x1="932.4" y1="149.5" x2="932.4" y2="150.5" stroke="#444" stroke-width="0.5"/>
<line x1="936.45" y1="149.5" x2="936.45" y2="150.5" stroke="#444" stroke-width="0.5"/>
<line x1="940.5" y1="149.5" x2="940.5" y2="150.5" stroke="#444" stroke-width="0.5"/>
<line x1="944.55" y1="149.5" x2="944.55" y2="150.5" stroke="#444" stroke-width="0.5"/>
<line x1="948.6" y1="149.5" x2="948.6" y2="150.5" stroke="#444" stroke-width="0.5"/>
<line x1="952.65" y1="149.5" x2="952.65" y2="150.5" stroke="#444" stroke-width="0.5"/>
<line x1="956.7" y1="149.5" x2="956.7" y2="150.5" stroke="#444" stroke-width="0.5"/>
<line x1="960.75" y1="149.5" x2="960.75" y2="150.5" stroke="#444" stroke-width="0.5"/>
<line x1="964.8" y1="149.5" x2="964.8" y2="150.5" stroke="#444" stroke-width="0.5"/>
<line x1="968.85" y1="149.5" x2="968.85" y2="150.5" stroke="#444" stroke-width="0.5"/>
<line x1="972.9" y1="149.5" x2="972.9" y2="150.5" stroke="#444" stroke-width="0.5"/>
<text x="849.1" y="35.1" font-size="4.6" fill="#333" text-anchor="end">1</text>
<text x="849.1" y="73.77" font-size="4.6" fill="#333" text-anchor="end">0.1</text>
<text x="849.1" y="112.43" font-size="4.6" fill="#333" text-anchor="end">0.01</text>
<text x="849.1" y="151.1" font-size="4.6" fill="#333" text-anchor="end">0,001</text>
<text x="853.83" y="155.9" font-size="4.8" fill="#333" text-anchor="middle">0.01</text>
<text x="903.64" y="155.9" font-size="4.8" fill="#333" text-anchor="middle">0,1</text>
<text x="954.07" y="155.9" font-size="4.8" fill="#333" text-anchor="middle">1</text>
<text transform="translate(830.9,91.5) rotate(-90)" font-size="5.4" fill="#333" text-anchor="middle">R<tspan font-size="3.4" dy="1.3">Inner</tspan><tspan dy="-1.3"> / Ω</tspan></text>
<text x="912.15" y="166" font-size="5.95" fill="#333" text-anchor="middle">Concentration<tspan font-size="4.3" dy="1.6">Active Species</tspan><tspan dy="-1.6">&#160; /&#160; mol L</tspan><tspan font-size="4" dy="-2.4">-1</tspan></text>
<g filter="url(#cmap)" shape-rendering="crispEdges">
<rect x="1069.3" y="33.5" width="121.4" height="0.5" fill="url(#h60)"/>
<rect x="1069.3" y="34" width="121.4" height="1" fill="url(#h61)"/>
<rect x="1069.3" y="35" width="121.4" height="1" fill="url(#h62)"/>
<rect x="1069.3" y="36" width="121.4" height="1" fill="url(#h63)"/>
<rect x="1069.3" y="37" width="121.4" height="1" fill="url(#h64)"/>
<rect x="1069.3" y="38" width="121.4" height="1" fill="url(#h65)"/>
<rect x="1069.3" y="39" width="121.4" height="1" fill="url(#h66)"/>
<rect x="1069.3" y="40" width="121.4" height="1" fill="url(#h67)"/>
<rect x="1069.3" y="41" width="121.4" height="1" fill="url(#h68)"/>
<rect x="1069.3" y="42" width="121.4" height="1" fill="url(#h69)"/>
<rect x="1069.3" y="43" width="121.4" height="1" fill="url(#h70)"/>
<rect x="1069.3" y="44" width="121.4" height="1" fill="url(#h71)"/>
<rect x="1069.3" y="45" width="121.4" height="1" fill="url(#h72)"/>
<rect x="1069.3" y="46" width="121.4" height="1" fill="url(#h73)"/>
<rect x="1069.3" y="47" width="121.4" height="1" fill="url(#h74)"/>
<rect x="1069.3" y="48" width="121.4" height="1" fill="url(#h75)"/>
<rect x="1069.3" y="49" width="121.4" height="1" fill="url(#h76)"/>
<rect x="1069.3" y="50" width="121.4" height="1" fill="url(#h77)"/>
<rect x="1069.3" y="51" width="121.4" height="1" fill="url(#h78)"/>
<rect x="1069.3" y="52" width="121.4" height="1" fill="url(#h79)"/>
<rect x="1069.3" y="53" width="121.4" height="2" fill="url(#h80)"/>
<rect x="1069.3" y="55" width="121.4" height="2" fill="url(#h81)"/>
<rect x="1069.3" y="57" width="121.4" height="2" fill="url(#h82)"/>
<rect x="1069.3" y="59" width="121.4" height="3" fill="url(#h83)"/>
<rect x="1069.3" y="62" width="121.4" height="3" fill="url(#h84)"/>
<rect x="1069.3" y="65" width="121.4" height="4" fill="url(#h85)"/>
<rect x="1069.3" y="69" width="121.4" height="6" fill="url(#h86)"/>
<rect x="1069.3" y="75" width="121.4" height="6" fill="url(#h87)"/>
<rect x="1069.3" y="81" width="121.4" height="6" fill="url(#h88)"/>
<rect x="1069.3" y="87" width="121.4" height="6" fill="url(#h89)"/>
<rect x="1069.3" y="93" width="121.4" height="6" fill="url(#h90)"/>
<rect x="1069.3" y="99" width="121.4" height="6" fill="url(#h91)"/>
<rect x="1069.3" y="105" width="121.4" height="6" fill="url(#h92)"/>
<rect x="1069.3" y="111" width="121.4" height="6" fill="url(#h93)"/>
<rect x="1069.3" y="117" width="121.4" height="6" fill="url(#h94)"/>
<rect x="1069.3" y="123" width="121.4" height="6" fill="url(#h95)"/>
<rect x="1069.3" y="129" width="121.4" height="6" fill="url(#h96)"/>
<rect x="1069.3" y="135" width="121.4" height="6" fill="url(#h97)"/>
<rect x="1069.3" y="141" width="121.4" height="6" fill="url(#h98)"/>
<rect x="1069.3" y="147" width="121.4" height="2.5" fill="url(#h99)"/>
</g>
<rect x="1144.9" y="139.5" width="45.8" height="10" fill="#1a0040" opacity="0.2"/>
<line x1="1144.9" y1="33.5" x2="1144.9" y2="149.5" stroke="#e8206a" stroke-width="1.1" opacity="0.6"/>
<line x1="1069.3" y1="139.5" x2="1190.7" y2="139.5" stroke="#e8206a" stroke-width="1.1" opacity="0.6"/>
<line x1="1069.3" y1="33.8" x2="1190.7" y2="33.8" stroke="#200060" stroke-width="0.7" opacity="0.6"/>
<text x="1144.9" y="31.2" font-size="5.2" fill="#e04848" text-anchor="middle">0.3</text>
<text x="1192.3" y="141.5" font-size="5.6" fill="#e04848">0.08</text>
<circle cx="1191.5" cy="148.5" r="4.3" fill="none" stroke="#e03838" stroke-width="0.8"/>
<rect x="1073.4" y="44.2" width="112.9" height="15" fill="#fff"/>
<text x="1074.6" y="49.8" font-size="5.3" fill="#d84848">Min<tspan font-size="3.2" dy="1.3">SC,EnergyCont</tspan><tspan dy="-1.3">(Concentration</tspan><tspan font-size="3.2" dy="1.3">ECH BBGS</tspan><tspan dy="-1.3">)</tspan>: 2.4 mol L<tspan font-size="3.3" dy="-2">-1</tspan></text>
<text x="1074.6" y="56.4" font-size="5.3" fill="#d84848">Min<tspan font-size="3.2" dy="1.3">SC,EnergyCont</tspan><tspan dy="-1.3">(R</tspan><tspan font-size="3.2" dy="1.3">Inner</tspan><tspan dy="-1.3">): 0.001 Ω</tspan></text>
<line x1="1191.6" y1="146.1" x2="1203.58" y2="159.8" stroke="#222" stroke-width="0.6"/>
<rect x="1179.5" y="159.8" width="68.8" height="12.1" fill="#fff" stroke="#9a9a9a" stroke-width="0.7"/>
<text x="1246.8" y="165.4" font-size="5.4" fill="#222" text-anchor="end">Range: 268 € Wh<tspan font-size="3.4" dy="-2">-1</tspan></text>
<text x="1247.1" y="171.4" font-size="4.75" fill="#222" text-anchor="end">Optimization Potential: 39.14%</text>
<rect x="1208.9" y="33.5" width="9.4" height="116" fill="url(#cb100)"/>
<line x1="1218.3" y1="33.5" x2="1219.8" y2="33.5" stroke="#333" stroke-width="0.5"/>
<text x="1221.5" y="35.1" font-size="4.4" fill="#333">177560</text>
<line x1="1218.3" y1="48" x2="1219.8" y2="48" stroke="#333" stroke-width="0.5"/>
<text x="1221.5" y="49.6" font-size="4.4" fill="#333">155013</text>
<line x1="1218.3" y1="62.5" x2="1219.8" y2="62.5" stroke="#333" stroke-width="0.5"/>
<text x="1221.5" y="64.1" font-size="4.4" fill="#333">132128</text>
<line x1="1218.3" y1="77" x2="1219.8" y2="77" stroke="#333" stroke-width="0.5"/>
<text x="1221.5" y="78.6" font-size="4.4" fill="#333">110686</text>
<line x1="1218.3" y1="91.5" x2="1219.8" y2="91.5" stroke="#333" stroke-width="0.5"/>
<text x="1221.5" y="93.1" font-size="4.4" fill="#333">88750</text>
<line x1="1218.3" y1="106" x2="1219.8" y2="106" stroke="#333" stroke-width="0.5"/>
<text x="1221.5" y="107.6" font-size="4.4" fill="#333">66563</text>
<line x1="1218.3" y1="120.5" x2="1219.8" y2="120.5" stroke="#333" stroke-width="0.5"/>
<text x="1221.5" y="122.1" font-size="4.4" fill="#333">44375</text>
<line x1="1218.3" y1="135" x2="1219.8" y2="135" stroke="#333" stroke-width="0.5"/>
<text x="1221.5" y="136.6" font-size="4.4" fill="#333">22188</text>
<line x1="1218.3" y1="149.5" x2="1219.8" y2="149.5" stroke="#333" stroke-width="0.5"/>
<text x="1221.5" y="151.1" font-size="4.4" fill="#333">0</text>
<text x="1187.4" y="28.5" font-size="6.6" fill="#333">SC<tspan font-size="4.2" dy="2">EnergyCont</tspan><tspan dy="-2"> / € Wh</tspan><tspan font-size="4" dy="-2.5">-1</tspan></text>
<text x="1070.3" y="21.7" font-size="12.6" fill="#000" font-weight="bold">AQDS/BQDS FB (0.3 M)</text>
<text x="1041.9" y="24.7" font-size="10.8" fill="#222">c)</text>
<line x1="1068.3" y1="33.5" x2="1069.3" y2="33.5" stroke="#444" stroke-width="0.5"/>
<line x1="1068.3" y1="37.37" x2="1069.3" y2="37.37" stroke="#444" stroke-width="0.5"/>
<line x1="1068.3" y1="41.23" x2="1069.3" y2="41.23" stroke="#444" stroke-width="0.5"/>
<line x1="1068.3" y1="45.1" x2="1069.3" y2="45.1" stroke="#444" stroke-width="0.5"/>
<line x1="1068.3" y1="48.97" x2="1069.3" y2="48.97" stroke="#444" stroke-width="0.5"/>
<line x1="1068.3" y1="52.83" x2="1069.3" y2="52.83" stroke="#444" stroke-width="0.5"/>
<line x1="1068.3" y1="56.7" x2="1069.3" y2="56.7" stroke="#444" stroke-width="0.5"/>
<line x1="1068.3" y1="60.57" x2="1069.3" y2="60.57" stroke="#444" stroke-width="0.5"/>
<line x1="1068.3" y1="64.43" x2="1069.3" y2="64.43" stroke="#444" stroke-width="0.5"/>
<line x1="1068.3" y1="68.3" x2="1069.3" y2="68.3" stroke="#444" stroke-width="0.5"/>
<line x1="1068.3" y1="72.17" x2="1069.3" y2="72.17" stroke="#444" stroke-width="0.5"/>
<line x1="1068.3" y1="76.03" x2="1069.3" y2="76.03" stroke="#444" stroke-width="0.5"/>
<line x1="1068.3" y1="79.9" x2="1069.3" y2="79.9" stroke="#444" stroke-width="0.5"/>
<line x1="1068.3" y1="83.77" x2="1069.3" y2="83.77" stroke="#444" stroke-width="0.5"/>
<line x1="1068.3" y1="87.63" x2="1069.3" y2="87.63" stroke="#444" stroke-width="0.5"/>
<line x1="1068.3" y1="91.5" x2="1069.3" y2="91.5" stroke="#444" stroke-width="0.5"/>
<line x1="1068.3" y1="95.37" x2="1069.3" y2="95.37" stroke="#444" stroke-width="0.5"/>
<line x1="1068.3" y1="99.23" x2="1069.3" y2="99.23" stroke="#444" stroke-width="0.5"/>
<line x1="1068.3" y1="103.1" x2="1069.3" y2="103.1" stroke="#444" stroke-width="0.5"/>
<line x1="1068.3" y1="106.97" x2="1069.3" y2="106.97" stroke="#444" stroke-width="0.5"/>
<line x1="1068.3" y1="110.83" x2="1069.3" y2="110.83" stroke="#444" stroke-width="0.5"/>
<line x1="1068.3" y1="114.7" x2="1069.3" y2="114.7" stroke="#444" stroke-width="0.5"/>
<line x1="1068.3" y1="118.57" x2="1069.3" y2="118.57" stroke="#444" stroke-width="0.5"/>
<line x1="1068.3" y1="122.43" x2="1069.3" y2="122.43" stroke="#444" stroke-width="0.5"/>
<line x1="1068.3" y1="126.3" x2="1069.3" y2="126.3" stroke="#444" stroke-width="0.5"/>
<line x1="1068.3" y1="130.17" x2="1069.3" y2="130.17" stroke="#444" stroke-width="0.5"/>
<line x1="1068.3" y1="134.03" x2="1069.3" y2="134.03" stroke="#444" stroke-width="0.5"/>
<line x1="1068.3" y1="137.9" x2="1069.3" y2="137.9" stroke="#444" stroke-width="0.5"/>
<line x1="1068.3" y1="141.77" x2="1069.3" y2="141.77" stroke="#444" stroke-width="0.5"/>
<line x1="1068.3" y1="145.63" x2="1069.3" y2="145.63" stroke="#444" stroke-width="0.5"/>
<line x1="1068.3" y1="149.5" x2="1069.3" y2="149.5" stroke="#444" stroke-width="0.5"/>
<line x1="1069.3" y1="149.5" x2="1069.3" y2="150.5" stroke="#444" stroke-width="0.5"/>
<line x1="1073.35" y1="149.5" x2="1073.35" y2="150.5" stroke="#444" stroke-width="0.5"/>
<line x1="1077.39" y1="149.5" x2="1077.39" y2="150.5" stroke="#444" stroke-width="0.5"/>
<line x1="1081.44" y1="149.5" x2="1081.44" y2="150.5" stroke="#444" stroke-width="0.5"/>
<line x1="1085.49" y1="149.5" x2="1085.49" y2="150.5" stroke="#444" stroke-width="0.5"/>
<line x1="1089.53" y1="149.5" x2="1089.53" y2="150.5" stroke="#444" stroke-width="0.5"/>
<line x1="1093.58" y1="149.5" x2="1093.58" y2="150.5" stroke="#444" stroke-width="0.5"/>
<line x1="1097.63" y1="149.5" x2="1097.63" y2="150.5" stroke="#444" stroke-width="0.5"/>
<line x1="1101.67" y1="149.5" x2="1101.67" y2="150.5" stroke="#444" stroke-width="0.5"/>
<line x1="1105.72" y1="149.5" x2="1105.72" y2="150.5" stroke="#444" stroke-width="0.5"/>
<line x1="1109.77" y1="149.5" x2="1109.77" y2="150.5" stroke="#444" stroke-width="0.5"/>
<line x1="1113.81" y1="149.5" x2="1113.81" y2="150.5" stroke="#444" stroke-width="0.5"/>
<line x1="1117.86" y1="149.5" x2="1117.86" y2="150.5" stroke="#444" stroke-width="0.5"/>
<line x1="1121.91" y1="149.5" x2="1121.91" y2="150.5" stroke="#444" stroke-width="0.5"/>
<line x1="1125.95" y1="149.5" x2="1125.95" y2="150.5" stroke="#444" stroke-width="0.5"/>
<line x1="1130" y1="149.5" x2="1130" y2="150.5" stroke="#444" stroke-width="0.5"/>
<line x1="1134.05" y1="149.5" x2="1134.05" y2="150.5" stroke="#444" stroke-width="0.5"/>
<line x1="1138.09" y1="149.5" x2="1138.09" y2="150.5" stroke="#444" stroke-width="0.5"/>
<line x1="1142.14" y1="149.5" x2="1142.14" y2="150.5" stroke="#444" stroke-width="0.5"/>
<line x1="1146.19" y1="149.5" x2="1146.19" y2="150.5" stroke="#444" stroke-width="0.5"/>
<line x1="1150.23" y1="149.5" x2="1150.23" y2="150.5" stroke="#444" stroke-width="0.5"/>
<line x1="1154.28" y1="149.5" x2="1154.28" y2="150.5" stroke="#444" stroke-width="0.5"/>
<line x1="1158.33" y1="149.5" x2="1158.33" y2="150.5" stroke="#444" stroke-width="0.5"/>
<line x1="1162.37" y1="149.5" x2="1162.37" y2="150.5" stroke="#444" stroke-width="0.5"/>
<line x1="1166.42" y1="149.5" x2="1166.42" y2="150.5" stroke="#444" stroke-width="0.5"/>
<line x1="1170.47" y1="149.5" x2="1170.47" y2="150.5" stroke="#444" stroke-width="0.5"/>
<line x1="1174.51" y1="149.5" x2="1174.51" y2="150.5" stroke="#444" stroke-width="0.5"/>
<line x1="1178.56" y1="149.5" x2="1178.56" y2="150.5" stroke="#444" stroke-width="0.5"/>
<line x1="1182.61" y1="149.5" x2="1182.61" y2="150.5" stroke="#444" stroke-width="0.5"/>
<line x1="1186.65" y1="149.5" x2="1186.65" y2="150.5" stroke="#444" stroke-width="0.5"/>
<line x1="1190.7" y1="149.5" x2="1190.7" y2="150.5" stroke="#444" stroke-width="0.5"/>
<text x="1067" y="35.1" font-size="4.6" fill="#333" text-anchor="end">1</text>
<text x="1067" y="73.77" font-size="4.6" fill="#333" text-anchor="end">0.1</text>
<text x="1067" y="112.43" font-size="4.6" fill="#333" text-anchor="end">0.01</text>
<text x="1067" y="151.1" font-size="4.6" fill="#333" text-anchor="end">0,001</text>
<text x="1071.73" y="155.9" font-size="4.8" fill="#333" text-anchor="middle">0.01</text>
<text x="1121.5" y="155.9" font-size="4.8" fill="#333" text-anchor="middle">0,1</text>
<text x="1171.88" y="155.9" font-size="4.8" fill="#333" text-anchor="middle">1</text>
<text transform="translate(1048.8,91.5) rotate(-90)" font-size="5.4" fill="#333" text-anchor="middle">R<tspan font-size="3.4" dy="1.3">Inner</tspan><tspan dy="-1.3"> / Ω</tspan></text>
<text x="1130" y="166" font-size="5.95" fill="#333" text-anchor="middle">Concentration<tspan font-size="4.3" dy="1.6">Active Species</tspan><tspan dy="-1.6">&#160; /&#160; mol L</tspan><tspan font-size="4" dy="-2.4">-1</tspan></text>
<g filter="url(#cmap)" shape-rendering="crispEdges">
<rect x="634.3" y="209.5" width="121.2" height="5.5" fill="url(#h101)"/>
<rect x="634.3" y="215" width="121.2" height="6" fill="url(#h102)"/>
<rect x="634.3" y="221" width="121.2" height="6" fill="url(#h103)"/>
<rect x="634.3" y="227" width="121.2" height="6" fill="url(#h104)"/>
<rect x="634.3" y="233" width="121.2" height="6" fill="url(#h105)"/>
<rect x="634.3" y="239" width="121.2" height="6" fill="url(#h106)"/>
<rect x="634.3" y="245" width="121.2" height="6" fill="url(#h107)"/>
<rect x="634.3" y="251" width="121.2" height="6" fill="url(#h108)"/>
<rect x="634.3" y="257" width="121.2" height="6" fill="url(#h109)"/>
<rect x="634.3" y="263" width="121.2" height="4" fill="url(#h110)"/>
<rect x="634.3" y="267" width="121.2" height="4" fill="url(#h111)"/>
<rect x="634.3" y="271" width="121.2" height="4" fill="url(#h112)"/>
<rect x="634.3" y="275" width="121.2" height="3" fill="url(#h113)"/>
<rect x="634.3" y="278" width="121.2" height="2" fill="url(#h114)"/>
<rect x="634.3" y="280" width="121.2" height="2" fill="url(#h115)"/>
<rect x="634.3" y="282" width="121.2" height="2" fill="url(#h116)"/>
<rect x="634.3" y="284" width="121.2" height="2" fill="url(#h117)"/>
<rect x="634.3" y="286" width="121.2" height="2" fill="url(#h118)"/>
<rect x="634.3" y="288" width="121.2" height="3" fill="url(#h119)"/>
<rect x="634.3" y="291" width="121.2" height="3" fill="url(#h120)"/>
<rect x="634.3" y="294" width="121.2" height="2" fill="url(#h121)"/>
<rect x="634.3" y="296" width="121.2" height="2" fill="url(#h122)"/>
<rect x="634.3" y="298" width="121.2" height="2" fill="url(#h123)"/>
<rect x="634.3" y="300" width="121.2" height="3" fill="url(#h124)"/>
<rect x="634.3" y="303" width="121.2" height="4" fill="url(#h125)"/>
<rect x="634.3" y="307" width="121.2" height="2" fill="url(#h126)"/>
<rect x="634.3" y="309" width="121.2" height="2" fill="url(#h127)"/>
<rect x="634.3" y="311" width="121.2" height="2" fill="url(#h128)"/>
<rect x="634.3" y="313" width="121.2" height="2" fill="url(#h129)"/>
<rect x="634.3" y="315" width="121.2" height="2" fill="url(#h130)"/>
<rect x="634.3" y="317" width="121.2" height="2" fill="url(#h131)"/>
<rect x="634.3" y="319" width="121.2" height="2" fill="url(#h132)"/>
<rect x="634.3" y="321" width="121.2" height="2" fill="url(#h133)"/>
<rect x="634.3" y="323" width="121.2" height="1.5" fill="url(#h134)"/>
</g>
<rect x="682.5" y="209.5" width="73" height="29.1" fill="#1a0040" opacity="0.2"/>
<line x1="682.5" y1="209.5" x2="682.5" y2="324.5" stroke="#e8206a" stroke-width="1.1" opacity="0.6"/>
<line x1="634.3" y1="238.6" x2="755.5" y2="238.6" stroke="#e8206a" stroke-width="1.1" opacity="0.6"/>
<line x1="634.3" y1="209.8" x2="755.5" y2="209.8" stroke="#200060" stroke-width="0.7" opacity="0.6"/>
<text x="682.5" y="207.2" font-size="5.2" fill="#e04848" text-anchor="middle">12.5</text>
<text x="757.1" y="240.6" font-size="5.6" fill="#e04848">1.25</text>
<circle cx="755.5" cy="209.5" r="4.3" fill="none" stroke="#e03838" stroke-width="0.8"/>
<rect x="635.7" y="259.4" width="99.2" height="15.3" fill="#fff"/>
<text x="636.9" y="265" font-size="5.3" fill="#d84848">Min<tspan font-size="3.2" dy="1.3">SC,EnergyCont</tspan><tspan dy="-1.3">(Current Density</tspan>): 500 mA cm<tspan font-size="3.3" dy="-2">-1</tspan></text>
<text x="636.9" y="271.6" font-size="5.3" fill="#d84848">Min<tspan font-size="3.2" dy="1.3">SC,EnergyCont</tspan><tspan dy="-1.3">(U</tspan><tspan font-size="3.2" dy="1.3">Cell eff</tspan><tspan dy="-1.3">): 2 V</tspan></text>
<line x1="754.7" y1="276.4" x2="769.28" y2="327.1" stroke="#222" stroke-width="0.6"/>
<rect x="745.2" y="327.1" width="68.8" height="13.8" fill="#fff" stroke="#9a9a9a" stroke-width="0.7"/>
<text x="812.5" y="332.7" font-size="5.4" fill="#222" text-anchor="end">Range: 51 € Wh<tspan font-size="3.4" dy="-2">-1</tspan></text>
<text x="812.8" y="338.7" font-size="4.75" fill="#222" text-anchor="end">Optimization Potential: 23.29%</text>
<rect x="773.8" y="209.5" width="9.9" height="115" fill="url(#cb135)"/>
<line x1="783.7" y1="209.5" x2="785.2" y2="209.5" stroke="#333" stroke-width="0.5"/>
<text x="786.9" y="211.1" font-size="4.4" fill="#333">2740</text>
<line x1="783.7" y1="223.88" x2="785.2" y2="223.88" stroke="#333" stroke-width="0.5"/>
<text x="786.9" y="225.47" font-size="4.4" fill="#333">2418</text>
<line x1="783.7" y1="238.25" x2="785.2" y2="238.25" stroke="#333" stroke-width="0.5"/>
<text x="786.9" y="239.85" font-size="4.4" fill="#333">2096</text>
<line x1="783.7" y1="252.62" x2="785.2" y2="252.62" stroke="#333" stroke-width="0.5"/>
<text x="786.9" y="254.22" font-size="4.4" fill="#333">1773</text>
<line x1="783.7" y1="267" x2="785.2" y2="267" stroke="#333" stroke-width="0.5"/>
<text x="786.9" y="268.6" font-size="4.4" fill="#333">1450</text>
<line x1="783.7" y1="281.38" x2="785.2" y2="281.38" stroke="#333" stroke-width="0.5"/>
<text x="786.9" y="282.98" font-size="4.4" fill="#333">1128</text>
<line x1="783.7" y1="295.75" x2="785.2" y2="295.75" stroke="#333" stroke-width="0.5"/>
<text x="786.9" y="297.35" font-size="4.4" fill="#333">805</text>
<line x1="783.7" y1="310.12" x2="785.2" y2="310.12" stroke="#333" stroke-width="0.5"/>
<text x="786.9" y="311.73" font-size="4.4" fill="#333">483</text>
<line x1="783.7" y1="324.5" x2="785.2" y2="324.5" stroke="#333" stroke-width="0.5"/>
<text x="786.9" y="326.1" font-size="4.4" fill="#333">160</text>
<text x="752.3" y="204.5" font-size="6.6" fill="#333">SC<tspan font-size="4.2" dy="2">EnergyCont</tspan><tspan dy="-2"> / € Wh</tspan><tspan font-size="4" dy="-2.5">-1</tspan></text>
<text x="636.2" y="197.7" font-size="12.6" fill="#000" font-weight="bold">Vanadium FB (1.67 M)</text>
<text x="610.4" y="202" font-size="10.8" fill="#222">d)</text>
<line x1="633.3" y1="209.5" x2="634.3" y2="209.5" stroke="#444" stroke-width="0.5"/>
<line x1="633.3" y1="213.33" x2="634.3" y2="213.33" stroke="#444" stroke-width="0.5"/>
<line x1="633.3" y1="217.17" x2="634.3" y2="217.17" stroke="#444" stroke-width="0.5"/>
<line x1="633.3" y1="221" x2="634.3" y2="221" stroke="#444" stroke-width="0.5"/>
<line x1="633.3" y1="224.83" x2="634.3" y2="224.83" stroke="#444" stroke-width="0.5"/>
<line x1="633.3" y1="228.67" x2="634.3" y2="228.67" stroke="#444" stroke-width="0.5"/>
<line x1="633.3" y1="232.5" x2="634.3" y2="232.5" stroke="#444" stroke-width="0.5"/>
<line x1="633.3" y1="236.33" x2="634.3" y2="236.33" stroke="#444" stroke-width="0.5"/>
<line x1="633.3" y1="240.17" x2="634.3" y2="240.17" stroke="#444" stroke-width="0.5"/>
<line x1="633.3" y1="244" x2="634.3" y2="244" stroke="#444" stroke-width="0.5"/>
<line x1="633.3" y1="247.83" x2="634.3" y2="247.83" stroke="#444" stroke-width="0.5"/>
<line x1="633.3" y1="251.67" x2="634.3" y2="251.67" stroke="#444" stroke-width="0.5"/>
<line x1="633.3" y1="255.5" x2="634.3" y2="255.5" stroke="#444" stroke-width="0.5"/>
<line x1="633.3" y1="259.33" x2="634.3" y2="259.33" stroke="#444" stroke-width="0.5"/>
<line x1="633.3" y1="263.17" x2="634.3" y2="263.17" stroke="#444" stroke-width="0.5"/>
<line x1="633.3" y1="267" x2="634.3" y2="267" stroke="#444" stroke-width="0.5"/>
<line x1="633.3" y1="270.83" x2="634.3" y2="270.83" stroke="#444" stroke-width="0.5"/>
<line x1="633.3" y1="274.67" x2="634.3" y2="274.67" stroke="#444" stroke-width="0.5"/>
<line x1="633.3" y1="278.5" x2="634.3" y2="278.5" stroke="#444" stroke-width="0.5"/>
<line x1="633.3" y1="282.33" x2="634.3" y2="282.33" stroke="#444" stroke-width="0.5"/>
<line x1="633.3" y1="286.17" x2="634.3" y2="286.17" stroke="#444" stroke-width="0.5"/>
<line x1="633.3" y1="290" x2="634.3" y2="290" stroke="#444" stroke-width="0.5"/>
<line x1="633.3" y1="293.83" x2="634.3" y2="293.83" stroke="#444" stroke-width="0.5"/>
<line x1="633.3" y1="297.67" x2="634.3" y2="297.67" stroke="#444" stroke-width="0.5"/>
<line x1="633.3" y1="301.5" x2="634.3" y2="301.5" stroke="#444" stroke-width="0.5"/>
<line x1="633.3" y1="305.33" x2="634.3" y2="305.33" stroke="#444" stroke-width="0.5"/>
<line x1="633.3" y1="309.17" x2="634.3" y2="309.17" stroke="#444" stroke-width="0.5"/>
<line x1="633.3" y1="313" x2="634.3" y2="313" stroke="#444" stroke-width="0.5"/>
<line x1="633.3" y1="316.83" x2="634.3" y2="316.83" stroke="#444" stroke-width="0.5"/>
<line x1="633.3" y1="320.67" x2="634.3" y2="320.67" stroke="#444" stroke-width="0.5"/>
<line x1="633.3" y1="324.5" x2="634.3" y2="324.5" stroke="#444" stroke-width="0.5"/>
<line x1="634.3" y1="324.5" x2="634.3" y2="325.5" stroke="#444" stroke-width="0.5"/>
<line x1="638.34" y1="324.5" x2="638.34" y2="325.5" stroke="#444" stroke-width="0.5"/>
<line x1="642.38" y1="324.5" x2="642.38" y2="325.5" stroke="#444" stroke-width="0.5"/>
<line x1="646.42" y1="324.5" x2="646.42" y2="325.5" stroke="#444" stroke-width="0.5"/>
<line x1="650.46" y1="324.5" x2="650.46" y2="325.5" stroke="#444" stroke-width="0.5"/>
<line x1="654.5" y1="324.5" x2="654.5" y2="325.5" stroke="#444" stroke-width="0.5"/>
<line x1="658.54" y1="324.5" x2="658.54" y2="325.5" stroke="#444" stroke-width="0.5"/>
<line x1="662.58" y1="324.5" x2="662.58" y2="325.5" stroke="#444" stroke-width="0.5"/>
<line x1="666.62" y1="324.5" x2="666.62" y2="325.5" stroke="#444" stroke-width="0.5"/>
<line x1="670.66" y1="324.5" x2="670.66" y2="325.5" stroke="#444" stroke-width="0.5"/>
<line x1="674.7" y1="324.5" x2="674.7" y2="325.5" stroke="#444" stroke-width="0.5"/>
<line x1="678.74" y1="324.5" x2="678.74" y2="325.5" stroke="#444" stroke-width="0.5"/>
<line x1="682.78" y1="324.5" x2="682.78" y2="325.5" stroke="#444" stroke-width="0.5"/>
<line x1="686.82" y1="324.5" x2="686.82" y2="325.5" stroke="#444" stroke-width="0.5"/>
<line x1="690.86" y1="324.5" x2="690.86" y2="325.5" stroke="#444" stroke-width="0.5"/>
<line x1="694.9" y1="324.5" x2="694.9" y2="325.5" stroke="#444" stroke-width="0.5"/>
<line x1="698.94" y1="324.5" x2="698.94" y2="325.5" stroke="#444" stroke-width="0.5"/>
<line x1="702.98" y1="324.5" x2="702.98" y2="325.5" stroke="#444" stroke-width="0.5"/>
<line x1="707.02" y1="324.5" x2="707.02" y2="325.5" stroke="#444" stroke-width="0.5"/>
<line x1="711.06" y1="324.5" x2="711.06" y2="325.5" stroke="#444" stroke-width="0.5"/>
<line x1="715.1" y1="324.5" x2="715.1" y2="325.5" stroke="#444" stroke-width="0.5"/>
<line x1="719.14" y1="324.5" x2="719.14" y2="325.5" stroke="#444" stroke-width="0.5"/>
<line x1="723.18" y1="324.5" x2="723.18" y2="325.5" stroke="#444" stroke-width="0.5"/>
<line x1="727.22" y1="324.5" x2="727.22" y2="325.5" stroke="#444" stroke-width="0.5"/>
<line x1="731.26" y1="324.5" x2="731.26" y2="325.5" stroke="#444" stroke-width="0.5"/>
<line x1="735.3" y1="324.5" x2="735.3" y2="325.5" stroke="#444" stroke-width="0.5"/>
<line x1="739.34" y1="324.5" x2="739.34" y2="325.5" stroke="#444" stroke-width="0.5"/>
<line x1="743.38" y1="324.5" x2="743.38" y2="325.5" stroke="#444" stroke-width="0.5"/>
<line x1="747.42" y1="324.5" x2="747.42" y2="325.5" stroke="#444" stroke-width="0.5"/>
<line x1="751.46" y1="324.5" x2="751.46" y2="325.5" stroke="#444" stroke-width="0.5"/>
<line x1="755.5" y1="324.5" x2="755.5" y2="325.5" stroke="#444" stroke-width="0.5"/>
<text x="632" y="211.1" font-size="4.6" fill="#333" text-anchor="end">2</text>
<text x="632" y="253.07" font-size="4.6" fill="#333" text-anchor="end">1</text>
<text x="634.3" y="331.9" font-size="4.8" fill="#333" text-anchor="middle">1</text>
<text x="679.14" y="331.9" font-size="4.8" fill="#333" text-anchor="middle">10</text>
<text x="723.99" y="331.9" font-size="4.8" fill="#333" text-anchor="middle">100</text>
<text transform="translate(623,267) rotate(-90)" font-size="6.2" fill="#333" text-anchor="middle">U<tspan font-size="4" dy="1.5">Cell eff</tspan><tspan dy="-1.5">&#160; /&#160; V</tspan></text>
<text x="694.9" y="341.8" font-size="6.3" fill="#333" text-anchor="middle">Current Density /&#160; mA cm<tspan font-size="4" dy="-2.4">-2</tspan></text>
<g filter="url(#cmap)" shape-rendering="crispEdges">
<rect x="851.4" y="209.5" width="121.5" height="5.5" fill="url(#h136)"/>
<rect x="851.4" y="215" width="121.5" height="6" fill="url(#h137)"/>
<rect x="851.4" y="221" width="121.5" height="6" fill="url(#h138)"/>
<rect x="851.4" y="227" width="121.5" height="6" fill="url(#h139)"/>
<rect x="851.4" y="233" width="121.5" height="6" fill="url(#h140)"/>
<rect x="851.4" y="239" width="121.5" height="6" fill="url(#h141)"/>
<rect x="851.4" y="245" width="121.5" height="6" fill="url(#h142)"/>
<rect x="851.4" y="251" width="121.5" height="6" fill="url(#h143)"/>
<rect x="851.4" y="257" width="121.5" height="6" fill="url(#h144)"/>
<rect x="851.4" y="263" width="121.5" height="5" fill="url(#h145)"/>
<rect x="851.4" y="268" width="121.5" height="5" fill="url(#h146)"/>
<rect x="851.4" y="273" width="121.5" height="5" fill="url(#h147)"/>
<rect x="851.4" y="278" width="121.5" height="4" fill="url(#h148)"/>
<rect x="851.4" y="282" width="121.5" height="4" fill="url(#h149)"/>
<rect x="851.4" y="286" width="121.5" height="4" fill="url(#h150)"/>
<rect x="851.4" y="290" width="121.5" height="2" fill="url(#h151)"/>
<rect x="851.4" y="292" width="121.5" height="2" fill="url(#h152)"/>
<rect x="851.4" y="294" width="121.5" height="2" fill="url(#h153)"/>
<rect x="851.4" y="296" width="121.5" height="2" fill="url(#h154)"/>
<rect x="851.4" y="298" width="121.5" height="2" fill="url(#h155)"/>
<rect x="851.4" y="300" width="121.5" height="2" fill="url(#h156)"/>
<rect x="851.4" y="302" width="121.5" height="2" fill="url(#h157)"/>
<rect x="851.4" y="304" width="121.5" height="2" fill="url(#h158)"/>
<rect x="851.4" y="306" width="121.5" height="2" fill="url(#h159)"/>
<rect x="851.4" y="308" width="121.5" height="2" fill="url(#h160)"/>
<rect x="851.4" y="310" width="121.5" height="2" fill="url(#h161)"/>
<rect x="851.4" y="312" width="121.5" height="1" fill="url(#h162)"/>
<rect x="851.4" y="313" width="121.5" height="1" fill="url(#h163)"/>
<rect x="851.4" y="314" width="121.5" height="1" fill="url(#h164)"/>
<rect x="851.4" y="315" width="121.5" height="1" fill="url(#h165)"/>
<rect x="851.4" y="316" width="121.5" height="1" fill="url(#h166)"/>
<rect x="851.4" y="317" width="121.5" height="1" fill="url(#h167)"/>
<rect x="851.4" y="318" width="121.5" height="1" fill="url(#h168)"/>
<rect x="851.4" y="319" width="121.5" height="1" fill="url(#h169)"/>
<rect x="851.4" y="320" width="121.5" height="1" fill="url(#h170)"/>
<rect x="851.4" y="321" width="121.5" height="1" fill="url(#h171)"/>
<rect x="851.4" y="322" width="121.5" height="1" fill="url(#h172)"/>
<rect x="851.4" y="323" width="121.5" height="1" fill="url(#h173)"/>
<rect x="851.4" y="324" width="121.5" height="0.5" fill="url(#h174)"/>
</g>
<rect x="900.7" y="209.5" width="72.2" height="29.4" fill="#1a0040" opacity="0.2"/>
<line x1="900.7" y1="209.5" x2="900.7" y2="324.5" stroke="#e8206a" stroke-width="1.1" opacity="0.6"/>
<line x1="851.4" y1="238.9" x2="972.9" y2="238.9" stroke="#e8206a" stroke-width="1.1" opacity="0.6"/>
<line x1="851.4" y1="209.8" x2="972.9" y2="209.8" stroke="#200060" stroke-width="0.7" opacity="0.6"/>
<line x1="900.7" y1="238.9" x2="900.7" y2="324.5" stroke="#a01050" stroke-width="1.5" opacity="0.8"/>
<text x="900.7" y="202.7" font-size="5.2" fill="#e04848" text-anchor="middle">12.5</text>
<text x="974.5" y="240.9" font-size="5.6" fill="#e04848">1.25</text>
<circle cx="901.5" cy="209.5" r="4.3" fill="none" stroke="#e03838" stroke-width="0.8"/>
<rect x="853.3" y="259.8" width="103.5" height="15.4" fill="#fff"/>
<text x="854.5" y="265.4" font-size="5.3" fill="#d84848">Min<tspan font-size="3.2" dy="1.3">SC,EnergyCont</tspan><tspan dy="-1.3">(Current Density</tspan>): 12.78 mA cm<tspan font-size="3.3" dy="-2">-1</tspan></text>
<text x="854.5" y="272" font-size="5.3" fill="#d84848">Min<tspan font-size="3.2" dy="1.3">SC,EnergyCont</tspan><tspan dy="-1.3">(U</tspan><tspan font-size="3.2" dy="1.3">Cell eff</tspan><tspan dy="-1.3">): 2 V</tspan></text>
<line x1="972.3" y1="278.1" x2="986.05" y2="328.8" stroke="#222" stroke-width="0.6"/>
<rect x="962" y="328.8" width="68.7" height="13.8" fill="#fff" stroke="#9a9a9a" stroke-width="0.7"/>
<text x="1029.2" y="334.4" font-size="5.4" fill="#222" text-anchor="end">Range: 316 € Wh<tspan font-size="3.4" dy="-2">-1</tspan></text>
<text x="1029.5" y="340.4" font-size="4.75" fill="#222" text-anchor="end">Optimization Potential: 30.20%</text>
<rect x="991.6" y="209.5" width="9.4" height="115" fill="url(#cb175)"/>
<line x1="1001" y1="209.5" x2="1002.5" y2="209.5" stroke="#333" stroke-width="0.5"/>
<text x="1004.2" y="211.1" font-size="4.4" fill="#333">6140</text>
<line x1="1001" y1="223.88" x2="1002.5" y2="223.88" stroke="#333" stroke-width="0.5"/>
<text x="1004.2" y="225.47" font-size="4.4" fill="#333">5462</text>
<line x1="1001" y1="238.25" x2="1002.5" y2="238.25" stroke="#333" stroke-width="0.5"/>
<text x="1004.2" y="239.85" font-size="4.4" fill="#333">4785</text>
<line x1="1001" y1="252.62" x2="1002.5" y2="252.62" stroke="#333" stroke-width="0.5"/>
<text x="1004.2" y="254.22" font-size="4.4" fill="#333">4108</text>
<line x1="1001" y1="267" x2="1002.5" y2="267" stroke="#333" stroke-width="0.5"/>
<text x="1004.2" y="268.6" font-size="4.4" fill="#333">3430</text>
<line x1="1001" y1="281.38" x2="1002.5" y2="281.38" stroke="#333" stroke-width="0.5"/>
<text x="1004.2" y="282.98" font-size="4.4" fill="#333">2753</text>
<line x1="1001" y1="295.75" x2="1002.5" y2="295.75" stroke="#333" stroke-width="0.5"/>
<text x="1004.2" y="297.35" font-size="4.4" fill="#333">2075</text>
<line x1="1001" y1="310.12" x2="1002.5" y2="310.12" stroke="#333" stroke-width="0.5"/>
<text x="1004.2" y="311.73" font-size="4.4" fill="#333">1398</text>
<line x1="1001" y1="324.5" x2="1002.5" y2="324.5" stroke="#333" stroke-width="0.5"/>
<text x="1004.2" y="326.1" font-size="4.4" fill="#333">720</text>
<text x="970.1" y="204.5" font-size="6.6" fill="#333">SC<tspan font-size="4.2" dy="2">EnergyCont</tspan><tspan dy="-2"> / € Wh</tspan><tspan font-size="4" dy="-2.5">-1</tspan></text>
<text x="853" y="197.7" font-size="12.6" fill="#000" font-weight="bold">MV/TEMPOL FB (0.5 M)</text>
<text x="827.5" y="202" font-size="10.8" fill="#222">e)</text>
<line x1="850.4" y1="209.5" x2="851.4" y2="209.5" stroke="#444" stroke-width="0.5"/>
<line x1="850.4" y1="213.33" x2="851.4" y2="213.33" stroke="#444" stroke-width="0.5"/>
<line x1="850.4" y1="217.17" x2="851.4" y2="217.17" stroke="#444" stroke-width="0.5"/>
<line x1="850.4" y1="221" x2="851.4" y2="221" stroke="#444" stroke-width="0.5"/>
<line x1="850.4" y1="224.83" x2="851.4" y2="224.83" stroke="#444" stroke-width="0.5"/>
<line x1="850.4" y1="228.67" x2="851.4" y2="228.67" stroke="#444" stroke-width="0.5"/>
<line x1="850.4" y1="232.5" x2="851.4" y2="232.5" stroke="#444" stroke-width="0.5"/>
<line x1="850.4" y1="236.33" x2="851.4" y2="236.33" stroke="#444" stroke-width="0.5"/>
<line x1="850.4" y1="240.17" x2="851.4" y2="240.17" stroke="#444" stroke-width="0.5"/>
<line x1="850.4" y1="244" x2="851.4" y2="244" stroke="#444" stroke-width="0.5"/>
<line x1="850.4" y1="247.83" x2="851.4" y2="247.83" stroke="#444" stroke-width="0.5"/>
<line x1="850.4" y1="251.67" x2="851.4" y2="251.67" stroke="#444" stroke-width="0.5"/>
<line x1="850.4" y1="255.5" x2="851.4" y2="255.5" stroke="#444" stroke-width="0.5"/>
<line x1="850.4" y1="259.33" x2="851.4" y2="259.33" stroke="#444" stroke-width="0.5"/>
<line x1="850.4" y1="263.17" x2="851.4" y2="263.17" stroke="#444" stroke-width="0.5"/>
<line x1="850.4" y1="267" x2="851.4" y2="267" stroke="#444" stroke-width="0.5"/>
<line x1="850.4" y1="270.83" x2="851.4" y2="270.83" stroke="#444" stroke-width="0.5"/>
<line x1="850.4" y1="274.67" x2="851.4" y2="274.67" stroke="#444" stroke-width="0.5"/>
<line x1="850.4" y1="278.5" x2="851.4" y2="278.5" stroke="#444" stroke-width="0.5"/>
<line x1="850.4" y1="282.33" x2="851.4" y2="282.33" stroke="#444" stroke-width="0.5"/>
<line x1="850.4" y1="286.17" x2="851.4" y2="286.17" stroke="#444" stroke-width="0.5"/>
<line x1="850.4" y1="290" x2="851.4" y2="290" stroke="#444" stroke-width="0.5"/>
<line x1="850.4" y1="293.83" x2="851.4" y2="293.83" stroke="#444" stroke-width="0.5"/>
<line x1="850.4" y1="297.67" x2="851.4" y2="297.67" stroke="#444" stroke-width="0.5"/>
<line x1="850.4" y1="301.5" x2="851.4" y2="301.5" stroke="#444" stroke-width="0.5"/>
<line x1="850.4" y1="305.33" x2="851.4" y2="305.33" stroke="#444" stroke-width="0.5"/>
<line x1="850.4" y1="309.17" x2="851.4" y2="309.17" stroke="#444" stroke-width="0.5"/>
<line x1="850.4" y1="313" x2="851.4" y2="313" stroke="#444" stroke-width="0.5"/>
<line x1="850.4" y1="316.83" x2="851.4" y2="316.83" stroke="#444" stroke-width="0.5"/>
<line x1="850.4" y1="320.67" x2="851.4" y2="320.67" stroke="#444" stroke-width="0.5"/>
<line x1="850.4" y1="324.5" x2="851.4" y2="324.5" stroke="#444" stroke-width="0.5"/>
<line x1="851.4" y1="324.5" x2="851.4" y2="325.5" stroke="#444" stroke-width="0.5"/>
<line x1="855.45" y1="324.5" x2="855.45" y2="325.5" stroke="#444" stroke-width="0.5"/>
<line x1="859.5" y1="324.5" x2="859.5" y2="325.5" stroke="#444" stroke-width="0.5"/>
<line x1="863.55" y1="324.5" x2="863.55" y2="325.5" stroke="#444" stroke-width="0.5"/>
<line x1="867.6" y1="324.5" x2="867.6" y2="325.5" stroke="#444" stroke-width="0.5"/>
<line x1="871.65" y1="324.5" x2="871.65" y2="325.5" stroke="#444" stroke-width="0.5"/>
<line x1="875.7" y1="324.5" x2="875.7" y2="325.5" stroke="#444" stroke-width="0.5"/>
<line x1="879.75" y1="324.5" x2="879.75" y2="325.5" stroke="#444" stroke-width="0.5"/>
<line x1="883.8" y1="324.5" x2="883.8" y2="325.5" stroke="#444" stroke-width="0.5"/>
<line x1="887.85" y1="324.5" x2="887.85" y2="325.5" stroke="#444" stroke-width="0.5"/>
<line x1="891.9" y1="324.5" x2="891.9" y2="325.5" stroke="#444" stroke-width="0.5"/>
<line x1="895.95" y1="324.5" x2="895.95" y2="325.5" stroke="#444" stroke-width="0.5"/>
<line x1="900" y1="324.5" x2="900" y2="325.5" stroke="#444" stroke-width="0.5"/>
<line x1="904.05" y1="324.5" x2="904.05" y2="325.5" stroke="#444" stroke-width="0.5"/>
<line x1="908.1" y1="324.5" x2="908.1" y2="325.5" stroke="#444" stroke-width="0.5"/>
<line x1="912.15" y1="324.5" x2="912.15" y2="325.5" stroke="#444" stroke-width="0.5"/>
<line x1="916.2" y1="324.5" x2="916.2" y2="325.5" stroke="#444" stroke-width="0.5"/>
<line x1="920.25" y1="324.5" x2="920.25" y2="325.5" stroke="#444" stroke-width="0.5"/>
<line x1="924.3" y1="324.5" x2="924.3" y2="325.5" stroke="#444" stroke-width="0.5"/>
<line x1="928.35" y1="324.5" x2="928.35" y2="325.5" stroke="#444" stroke-width="0.5"/>
<line x1="932.4" y1="324.5" x2="932.4" y2="325.5" stroke="#444" stroke-width="0.5"/>
<line x1="936.45" y1="324.5" x2="936.45" y2="325.5" stroke="#444" stroke-width="0.5"/>
<line x1="940.5" y1="324.5" x2="940.5" y2="325.5" stroke="#444" stroke-width="0.5"/>
<line x1="944.55" y1="324.5" x2="944.55" y2="325.5" stroke="#444" stroke-width="0.5"/>
<line x1="948.6" y1="324.5" x2="948.6" y2="325.5" stroke="#444" stroke-width="0.5"/>
<line x1="952.65" y1="324.5" x2="952.65" y2="325.5" stroke="#444" stroke-width="0.5"/>
<line x1="956.7" y1="324.5" x2="956.7" y2="325.5" stroke="#444" stroke-width="0.5"/>
<line x1="960.75" y1="324.5" x2="960.75" y2="325.5" stroke="#444" stroke-width="0.5"/>
<line x1="964.8" y1="324.5" x2="964.8" y2="325.5" stroke="#444" stroke-width="0.5"/>
<line x1="968.85" y1="324.5" x2="968.85" y2="325.5" stroke="#444" stroke-width="0.5"/>
<line x1="972.9" y1="324.5" x2="972.9" y2="325.5" stroke="#444" stroke-width="0.5"/>
<text x="849.1" y="211.1" font-size="4.6" fill="#333" text-anchor="end">2</text>
<text x="849.1" y="253.07" font-size="4.6" fill="#333" text-anchor="end">1</text>
<text x="851.4" y="331.9" font-size="4.8" fill="#333" text-anchor="middle">1</text>
<text x="896.36" y="331.9" font-size="4.8" fill="#333" text-anchor="middle">10</text>
<text x="941.31" y="331.9" font-size="4.8" fill="#333" text-anchor="middle">100</text>
<text transform="translate(840.1,267) rotate(-90)" font-size="6.2" fill="#333" text-anchor="middle">U<tspan font-size="4" dy="1.5">Cell eff</tspan><tspan dy="-1.5">&#160; /&#160; V</tspan></text>
<text x="912.15" y="341.8" font-size="6.3" fill="#333" text-anchor="middle">Current Density /&#160; mA cm<tspan font-size="4" dy="-2.4">-2</tspan></text>
<g filter="url(#cmap)" shape-rendering="crispEdges">
<rect x="1069.3" y="209.5" width="121.4" height="5.5" fill="url(#h176)"/>
<rect x="1069.3" y="215" width="121.4" height="6" fill="url(#h177)"/>
<rect x="1069.3" y="221" width="121.4" height="6" fill="url(#h178)"/>
<rect x="1069.3" y="227" width="121.4" height="6" fill="url(#h179)"/>
<rect x="1069.3" y="233" width="121.4" height="6" fill="url(#h180)"/>
<rect x="1069.3" y="239" width="121.4" height="6" fill="url(#h181)"/>
<rect x="1069.3" y="245" width="121.4" height="6" fill="url(#h182)"/>
<rect x="1069.3" y="251" width="121.4" height="6" fill="url(#h183)"/>
<rect x="1069.3" y="257" width="121.4" height="6" fill="url(#h184)"/>
<rect x="1069.3" y="263" width="121.4" height="5" fill="url(#h185)"/>
<rect x="1069.3" y="268" width="121.4" height="2" fill="url(#h186)"/>
<rect x="1069.3" y="270" width="121.4" height="2" fill="url(#h187)"/>
<rect x="1069.3" y="272" width="121.4" height="4" fill="url(#h188)"/>
<rect x="1069.3" y="276" width="121.4" height="4" fill="url(#h189)"/>
<rect x="1069.3" y="280" width="121.4" height="4" fill="url(#h190)"/>
<rect x="1069.3" y="284" width="121.4" height="4" fill="url(#h191)"/>
<rect x="1069.3" y="288" width="121.4" height="3" fill="url(#h192)"/>
<rect x="1069.3" y="291" width="121.4" height="2" fill="url(#h193)"/>
<rect x="1069.3" y="293" width="121.4" height="2" fill="url(#h194)"/>
<rect x="1069.3" y="295" width="121.4" height="3" fill="url(#h195)"/>
<rect x="1069.3" y="298" width="121.4" height="3" fill="url(#h196)"/>
<rect x="1069.3" y="301" width="121.4" height="3" fill="url(#h197)"/>
<rect x="1069.3" y="304" width="121.4" height="2" fill="url(#h198)"/>
<rect x="1069.3" y="306" width="121.4" height="1" fill="url(#h199)"/>
<rect x="1069.3" y="307" width="121.4" height="1" fill="url(#h200)"/>
<rect x="1069.3" y="308" width="121.4" height="1" fill="url(#h201)"/>
<rect x="1069.3" y="309" width="121.4" height="1" fill="url(#h202)"/>
<rect x="1069.3" y="310" width="121.4" height="1" fill="url(#h203)"/>
<rect x="1069.3" y="311" width="121.4" height="1" fill="url(#h204)"/>
<rect x="1069.3" y="312" width="121.4" height="2" fill="url(#h205)"/>
<rect x="1069.3" y="314" width="121.4" height="2" fill="url(#h206)"/>
<rect x="1069.3" y="316" width="121.4" height="2" fill="url(#h207)"/>
<rect x="1069.3" y="318" width="121.4" height="1" fill="url(#h208)"/>
<rect x="1069.3" y="319" width="121.4" height="1" fill="url(#h209)"/>
<rect x="1069.3" y="320" width="121.4" height="1" fill="url(#h210)"/>
<rect x="1069.3" y="321" width="121.4" height="1" fill="url(#h211)"/>
<rect x="1069.3" y="322" width="121.4" height="1" fill="url(#h212)"/>
<rect x="1069.3" y="323" width="121.4" height="1" fill="url(#h213)"/>
<rect x="1069.3" y="324" width="121.4" height="0.5" fill="url(#h214)"/>
</g>
<rect x="1118.6" y="209.5" width="72.1" height="61.3" fill="#1a0040" opacity="0.2"/>
<line x1="1118.6" y1="209.5" x2="1118.6" y2="324.5" stroke="#e8206a" stroke-width="1.1" opacity="0.6"/>
<line x1="1069.3" y1="270.8" x2="1190.7" y2="270.8" stroke="#e8206a" stroke-width="1.1" opacity="0.6"/>
<line x1="1069.3" y1="209.8" x2="1190.7" y2="209.8" stroke="#200060" stroke-width="0.7" opacity="0.6"/>
<line x1="1118.6" y1="270.8" x2="1118.6" y2="324.5" stroke="#a01050" stroke-width="1.5" opacity="0.8"/>
<text x="1118.6" y="204.5" font-size="5.2" fill="#e04848" text-anchor="middle">12.5</text>
<text x="1192.3" y="272.8" font-size="5.6" fill="#e04848">0.74</text>
<circle cx="1191" cy="209.5" r="4.3" fill="none" stroke="#e03838" stroke-width="0.8"/>
<rect x="1069.9" y="276.4" width="99.3" height="15.5" fill="#fff"/>
<text x="1071.1" y="282" font-size="5.3" fill="#d84848">Min<tspan font-size="3.2" dy="1.3">SC,EnergyCont</tspan><tspan dy="-1.3">(Current Density</tspan>): 500 mA cm<tspan font-size="3.3" dy="-2">-1</tspan></text>
<text x="1071.1" y="288.6" font-size="5.3" fill="#d84848">Min<tspan font-size="3.2" dy="1.3">SC,EnergyCont</tspan><tspan dy="-1.3">(U</tspan><tspan font-size="3.2" dy="1.3">Cell eff</tspan><tspan dy="-1.3">): 2 V</tspan></text>
<line x1="1190.7" y1="297" x2="1202" y2="331.8" stroke="#222" stroke-width="0.6"/>
<rect x="1178.2" y="331.8" width="68" height="14.2" fill="#fff" stroke="#9a9a9a" stroke-width="0.7"/>
<text x="1244.7" y="337.4" font-size="5.4" fill="#222" text-anchor="end">Range: 443 € Wh<tspan font-size="3.4" dy="-2">-1</tspan></text>
<text x="1245" y="343.4" font-size="4.75" fill="#222" text-anchor="end">Optimization Potential: 49.97%</text>
<rect x="1208.9" y="209.5" width="9.4" height="115" fill="url(#cb215)"/>
<line x1="1218.3" y1="209.5" x2="1219.8" y2="209.5" stroke="#333" stroke-width="0.5"/>
<text x="1221.5" y="211.1" font-size="4.4" fill="#333">4170</text>
<line x1="1218.3" y1="223.88" x2="1219.8" y2="223.88" stroke="#333" stroke-width="0.5"/>
<text x="1221.5" y="225.47" font-size="4.4" fill="#333">3704</text>
<line x1="1218.3" y1="238.25" x2="1219.8" y2="238.25" stroke="#333" stroke-width="0.5"/>
<text x="1221.5" y="239.85" font-size="4.4" fill="#333">3238</text>
<line x1="1218.3" y1="252.62" x2="1219.8" y2="252.62" stroke="#333" stroke-width="0.5"/>
<text x="1221.5" y="254.22" font-size="4.4" fill="#333">2771</text>
<line x1="1218.3" y1="267" x2="1219.8" y2="267" stroke="#333" stroke-width="0.5"/>
<text x="1221.5" y="268.6" font-size="4.4" fill="#333">2305</text>
<line x1="1218.3" y1="281.38" x2="1219.8" y2="281.38" stroke="#333" stroke-width="0.5"/>
<text x="1221.5" y="282.98" font-size="4.4" fill="#333">1839</text>
<line x1="1218.3" y1="295.75" x2="1219.8" y2="295.75" stroke="#333" stroke-width="0.5"/>
<text x="1221.5" y="297.35" font-size="4.4" fill="#333">1372</text>
<line x1="1218.3" y1="310.12" x2="1219.8" y2="310.12" stroke="#333" stroke-width="0.5"/>
<text x="1221.5" y="311.73" font-size="4.4" fill="#333">906</text>
<line x1="1218.3" y1="324.5" x2="1219.8" y2="324.5" stroke="#333" stroke-width="0.5"/>
<text x="1221.5" y="326.1" font-size="4.4" fill="#333">440</text>
<text x="1187.4" y="204.5" font-size="6.6" fill="#333">SC<tspan font-size="4.2" dy="2">EnergyCont</tspan><tspan dy="-2"> / € Wh</tspan><tspan font-size="4" dy="-2.5">-1</tspan></text>
<text x="1070.1" y="197.7" font-size="12.6" fill="#000" font-weight="bold">AQDS/BQDS FB (0.3 M)</text>
<text x="1046" y="202" font-size="10.8" fill="#222">f)</text>
<line x1="1068.3" y1="209.5" x2="1069.3" y2="209.5" stroke="#444" stroke-width="0.5"/>
<line x1="1068.3" y1="213.33" x2="1069.3" y2="213.33" stroke="#444" stroke-width="0.5"/>
<line x1="1068.3" y1="217.17" x2="1069.3" y2="217.17" stroke="#444" stroke-width="0.5"/>
<line x1="1068.3" y1="221" x2="1069.3" y2="221" stroke="#444" stroke-width="0.5"/>
<line x1="1068.3" y1="224.83" x2="1069.3" y2="224.83" stroke="#444" stroke-width="0.5"/>
<line x1="1068.3" y1="228.67" x2="1069.3" y2="228.67" stroke="#444" stroke-width="0.5"/>
<line x1="1068.3" y1="232.5" x2="1069.3" y2="232.5" stroke="#444" stroke-width="0.5"/>
<line x1="1068.3" y1="236.33" x2="1069.3" y2="236.33" stroke="#444" stroke-width="0.5"/>
<line x1="1068.3" y1="240.17" x2="1069.3" y2="240.17" stroke="#444" stroke-width="0.5"/>
<line x1="1068.3" y1="244" x2="1069.3" y2="244" stroke="#444" stroke-width="0.5"/>
<line x1="1068.3" y1="247.83" x2="1069.3" y2="247.83" stroke="#444" stroke-width="0.5"/>
<line x1="1068.3" y1="251.67" x2="1069.3" y2="251.67" stroke="#444" stroke-width="0.5"/>
<line x1="1068.3" y1="255.5" x2="1069.3" y2="255.5" stroke="#444" stroke-width="0.5"/>
<line x1="1068.3" y1="259.33" x2="1069.3" y2="259.33" stroke="#444" stroke-width="0.5"/>
<line x1="1068.3" y1="263.17" x2="1069.3" y2="263.17" stroke="#444" stroke-width="0.5"/>
<line x1="1068.3" y1="267" x2="1069.3" y2="267" stroke="#444" stroke-width="0.5"/>
<line x1="1068.3" y1="270.83" x2="1069.3" y2="270.83" stroke="#444" stroke-width="0.5"/>
<line x1="1068.3" y1="274.67" x2="1069.3" y2="274.67" stroke="#444" stroke-width="0.5"/>
<line x1="1068.3" y1="278.5" x2="1069.3" y2="278.5" stroke="#444" stroke-width="0.5"/>
<line x1="1068.3" y1="282.33" x2="1069.3" y2="282.33" stroke="#444" stroke-width="0.5"/>
<line x1="1068.3" y1="286.17" x2="1069.3" y2="286.17" stroke="#444" stroke-width="0.5"/>
<line x1="1068.3" y1="290" x2="1069.3" y2="290" stroke="#444" stroke-width="0.5"/>
<line x1="1068.3" y1="293.83" x2="1069.3" y2="293.83" stroke="#444" stroke-width="0.5"/>
<line x1="1068.3" y1="297.67" x2="1069.3" y2="297.67" stroke="#444" stroke-width="0.5"/>
<line x1="1068.3" y1="301.5" x2="1069.3" y2="301.5" stroke="#444" stroke-width="0.5"/>
<line x1="1068.3" y1="305.33" x2="1069.3" y2="305.33" stroke="#444" stroke-width="0.5"/>
<line x1="1068.3" y1="309.17" x2="1069.3" y2="309.17" stroke="#444" stroke-width="0.5"/>
<line x1="1068.3" y1="313" x2="1069.3" y2="313" stroke="#444" stroke-width="0.5"/>
<line x1="1068.3" y1="316.83" x2="1069.3" y2="316.83" stroke="#444" stroke-width="0.5"/>
<line x1="1068.3" y1="320.67" x2="1069.3" y2="320.67" stroke="#444" stroke-width="0.5"/>
<line x1="1068.3" y1="324.5" x2="1069.3" y2="324.5" stroke="#444" stroke-width="0.5"/>
<line x1="1069.3" y1="324.5" x2="1069.3" y2="325.5" stroke="#444" stroke-width="0.5"/>
<line x1="1073.35" y1="324.5" x2="1073.35" y2="325.5" stroke="#444" stroke-width="0.5"/>
<line x1="1077.39" y1="324.5" x2="1077.39" y2="325.5" stroke="#444" stroke-width="0.5"/>
<line x1="1081.44" y1="324.5" x2="1081.44" y2="325.5" stroke="#444" stroke-width="0.5"/>
<line x1="1085.49" y1="324.5" x2="1085.49" y2="325.5" stroke="#444" stroke-width="0.5"/>
<line x1="1089.53" y1="324.5" x2="1089.53" y2="325.5" stroke="#444" stroke-width="0.5"/>
<line x1="1093.58" y1="324.5" x2="1093.58" y2="325.5" stroke="#444" stroke-width="0.5"/>
<line x1="1097.63" y1="324.5" x2="1097.63" y2="325.5" stroke="#444" stroke-width="0.5"/>
<line x1="1101.67" y1="324.5" x2="1101.67" y2="325.5" stroke="#444" stroke-width="0.5"/>
<line x1="1105.72" y1="324.5" x2="1105.72" y2="325.5" stroke="#444" stroke-width="0.5"/>
<line x1="1109.77" y1="324.5" x2="1109.77" y2="325.5" stroke="#444" stroke-width="0.5"/>
<line x1="1113.81" y1="324.5" x2="1113.81" y2="325.5" stroke="#444" stroke-width="0.5"/>
<line x1="1117.86" y1="324.5" x2="1117.86" y2="325.5" stroke="#444" stroke-width="0.5"/>
<line x1="1121.91" y1="324.5" x2="1121.91" y2="325.5" stroke="#444" stroke-width="0.5"/>
<line x1="1125.95" y1="324.5" x2="1125.95" y2="325.5" stroke="#444" stroke-width="0.5"/>
<line x1="1130" y1="324.5" x2="1130" y2="325.5" stroke="#444" stroke-width="0.5"/>
<line x1="1134.05" y1="324.5" x2="1134.05" y2="325.5" stroke="#444" stroke-width="0.5"/>
<line x1="1138.09" y1="324.5" x2="1138.09" y2="325.5" stroke="#444" stroke-width="0.5"/>
<line x1="1142.14" y1="324.5" x2="1142.14" y2="325.5" stroke="#444" stroke-width="0.5"/>
<line x1="1146.19" y1="324.5" x2="1146.19" y2="325.5" stroke="#444" stroke-width="0.5"/>
<line x1="1150.23" y1="324.5" x2="1150.23" y2="325.5" stroke="#444" stroke-width="0.5"/>
<line x1="1154.28" y1="324.5" x2="1154.28" y2="325.5" stroke="#444" stroke-width="0.5"/>
<line x1="1158.33" y1="324.5" x2="1158.33" y2="325.5" stroke="#444" stroke-width="0.5"/>
<line x1="1162.37" y1="324.5" x2="1162.37" y2="325.5" stroke="#444" stroke-width="0.5"/>
<line x1="1166.42" y1="324.5" x2="1166.42" y2="325.5" stroke="#444" stroke-width="0.5"/>
<line x1="1170.47" y1="324.5" x2="1170.47" y2="325.5" stroke="#444" stroke-width="0.5"/>
<line x1="1174.51" y1="324.5" x2="1174.51" y2="325.5" stroke="#444" stroke-width="0.5"/>
<line x1="1178.56" y1="324.5" x2="1178.56" y2="325.5" stroke="#444" stroke-width="0.5"/>
<line x1="1182.61" y1="324.5" x2="1182.61" y2="325.5" stroke="#444" stroke-width="0.5"/>
<line x1="1186.65" y1="324.5" x2="1186.65" y2="325.5" stroke="#444" stroke-width="0.5"/>
<line x1="1190.7" y1="324.5" x2="1190.7" y2="325.5" stroke="#444" stroke-width="0.5"/>
<text x="1067" y="211.1" font-size="4.6" fill="#333" text-anchor="end">2</text>
<text x="1067" y="253.07" font-size="4.6" fill="#333" text-anchor="end">1</text>
<text x="1069.3" y="331.9" font-size="4.8" fill="#333" text-anchor="middle">1</text>
<text x="1114.22" y="331.9" font-size="4.8" fill="#333" text-anchor="middle">10</text>
<text x="1159.14" y="331.9" font-size="4.8" fill="#333" text-anchor="middle">100</text>
<text transform="translate(1058,267) rotate(-90)" font-size="6.2" fill="#333" text-anchor="middle">U<tspan font-size="4" dy="1.5">Cell eff</tspan><tspan dy="-1.5">&#160; /&#160; V</tspan></text>
<text x="1130" y="341.8" font-size="6.3" fill="#333" text-anchor="middle">Current Density /&#160; mA cm<tspan font-size="4" dy="-2.4">-2</tspan></text>
<g id="fig3">
<rect x="166.2" y="527.1" width="93.5" height="44.84" fill="#b82823"/>
<text x="212.75" y="552.72" font-size="9.5" fill="#fff" text-anchor="middle">4,92</text>
<rect x="259.3" y="527.1" width="93.5" height="44.84" fill="#9a1d1c"/>
<text x="305.85" y="552.72" font-size="9.5" fill="#fff" text-anchor="middle">0,23</text>
<rect x="352.4" y="527.1" width="93.5" height="44.84" fill="#e3f195"/>
<text x="398.95" y="552.72" font-size="9.5" fill="#1a1a1a" text-anchor="middle">39,14</text>
<rect x="166.2" y="571.54" width="93.5" height="44.84" fill="#f88a54"/>
<text x="212.75" y="597.16" font-size="9.5" fill="#1a1a1a" text-anchor="middle">16,8</text>
<rect x="259.3" y="571.54" width="93.5" height="44.84" fill="#a92020"/>
<text x="305.85" y="597.16" font-size="9.5" fill="#fff" text-anchor="middle">2,55</text>
<rect x="352.4" y="571.54" width="93.5" height="44.84" fill="#ee6b47"/>
<text x="398.95" y="597.16" font-size="9.5" fill="#1a1a1a" text-anchor="middle">14,34</text>
<rect x="166.2" y="615.98" width="93.5" height="44.84" fill="#ee6b47"/>
<text x="212.75" y="641.6" font-size="9.5" fill="#1a1a1a" text-anchor="middle">14,41</text>
<rect x="259.3" y="615.98" width="93.5" height="44.84" fill="#a92020"/>
<text x="305.85" y="641.6" font-size="9.5" fill="#fff" text-anchor="middle">3,2</text>
<rect x="352.4" y="615.98" width="93.5" height="44.84" fill="#d83a2b"/>
<text x="398.95" y="641.6" font-size="9.5" fill="#fff" text-anchor="middle">10,95</text>
<rect x="166.2" y="660.42" width="93.5" height="44.84" fill="#fde08f"/>
<text x="212.75" y="686.04" font-size="9.5" fill="#1a1a1a" text-anchor="middle">26,43</text>
<rect x="259.3" y="660.42" width="93.5" height="44.84" fill="#feeea5"/>
<text x="305.85" y="686.04" font-size="9.5" fill="#1a1a1a" text-anchor="middle">30,23</text>
<rect x="352.4" y="660.42" width="93.5" height="44.84" fill="#66bb5b"/>
<text x="398.95" y="686.04" font-size="9.5" fill="#1a1a1a" text-anchor="middle">52,76</text>
<rect x="166.2" y="704.86" width="93.5" height="44.84" fill="#fdc67c"/>
<text x="212.75" y="730.48" font-size="9.5" fill="#1a1a1a" text-anchor="middle">23,29</text>
<rect x="259.3" y="704.86" width="93.5" height="44.84" fill="#feeea5"/>
<text x="305.85" y="730.48" font-size="9.5" fill="#1a1a1a" text-anchor="middle">30,2</text>
<rect x="352.4" y="704.86" width="93.5" height="44.84" fill="#88c95f"/>
<text x="398.95" y="730.48" font-size="9.5" fill="#1a1a1a" text-anchor="middle">49,97</text>
<rect x="166.2" y="749.3" width="93.5" height="44.84" fill="#fcb06b"/>
<text x="212.75" y="774.92" font-size="9.5" fill="#1a1a1a" text-anchor="middle">21,71</text>
<rect x="259.3" y="749.3" width="93.5" height="44.84" fill="#9a1d1c"/>
<text x="305.85" y="774.92" font-size="9.5" fill="#fff" text-anchor="middle">0,32</text>
<rect x="352.4" y="749.3" width="93.5" height="44.84" fill="#88c95f"/>
<text x="398.95" y="774.92" font-size="9.5" fill="#1a1a1a" text-anchor="middle">50,99</text>
<rect x="166.2" y="793.74" width="93.5" height="44.84" fill="#fde08f"/>
<text x="212.75" y="819.36" font-size="9.5" fill="#1a1a1a" text-anchor="middle">25,57</text>
<rect x="259.3" y="793.74" width="93.5" height="44.84" fill="#9a1d1c"/>
<text x="305.85" y="819.36" font-size="9.5" fill="#fff" text-anchor="middle">1,79</text>
<rect x="352.4" y="793.74" width="93.5" height="44.84" fill="#bd2a25"/>
<text x="398.95" y="819.36" font-size="9.5" fill="#fff" text-anchor="middle">5,22</text>
<rect x="166.2" y="527.1" width="279.3" height="311.08" fill="none" stroke="#2a2a2a" stroke-width="0.9"/>
<line x1="162" y1="549.32" x2="166.2" y2="549.32" stroke="#222" stroke-width="0.9"/>
<text x="158.6" y="551.92" font-size="7.55" fill="#1a1a1a" text-anchor="end">Concentration<tspan font-size="5.2" dy="2">Active Species</tspan><tspan dy="-2"> - R</tspan><tspan font-size="5.2" dy="2">Inner</tspan></text>
<line x1="162" y1="593.76" x2="166.2" y2="593.76" stroke="#222" stroke-width="0.9"/>
<text x="158.6" y="596.36" font-size="7.55" fill="#1a1a1a" text-anchor="end">Current Density - R<tspan font-size="5.2" dy="2">Inner</tspan></text>
<line x1="162" y1="638.2" x2="166.2" y2="638.2" stroke="#222" stroke-width="0.9"/>
<text x="158.6" y="640.8" font-size="7.55" fill="#1a1a1a" text-anchor="end">Area<tspan font-size="5.2" dy="2">active</tspan><tspan dy="-2"> - R</tspan><tspan font-size="5.2" dy="2">Inner</tspan></text>
<line x1="162" y1="682.64" x2="166.2" y2="682.64" stroke="#222" stroke-width="0.9"/>
<text x="158.6" y="685.24" font-size="7.55" fill="#1a1a1a" text-anchor="end">Concentration<tspan font-size="5.2" dy="2">Active Species</tspan><tspan dy="-2"> - U</tspan><tspan font-size="5.2" dy="2">Cell eff</tspan></text>
<line x1="162" y1="727.08" x2="166.2" y2="727.08" stroke="#222" stroke-width="0.9"/>
<text x="158.6" y="729.68" font-size="7.55" fill="#1a1a1a" text-anchor="end">Current Density - U<tspan font-size="5.2" dy="2">Cell eff</tspan></text>
<line x1="162" y1="771.52" x2="166.2" y2="771.52" stroke="#222" stroke-width="0.9"/>
<text x="158.6" y="774.12" font-size="7.55" fill="#1a1a1a" text-anchor="end">Concentration<tspan font-size="5.2" dy="2">Active Species</tspan><tspan dy="-2"> - Current Density</tspan></text>
<line x1="162" y1="815.96" x2="166.2" y2="815.96" stroke="#222" stroke-width="0.9"/>
<text x="158.6" y="818.56" font-size="7.55" fill="#1a1a1a" text-anchor="end">Area<tspan font-size="5.2" dy="2">active</tspan><tspan dy="-2"> - Current Density</tspan></text>
<line x1="212.75" y1="838.18" x2="212.75" y2="841.78" stroke="#222" stroke-width="0.9"/>
<text transform="translate(218.35,852.78) rotate(-45)" font-size="8.45" fill="#111" text-anchor="end">VFB 1,67 M</text>
<line x1="305.85" y1="838.18" x2="305.85" y2="841.78" stroke="#222" stroke-width="0.9"/>
<text transform="translate(311.45,852.78) rotate(-45)" font-size="8.45" fill="#111" text-anchor="end">MV/TEMPOL FB 0,5 M</text>
<line x1="398.95" y1="838.18" x2="398.95" y2="841.78" stroke="#222" stroke-width="0.9"/>
<text transform="translate(404.55,852.78) rotate(-45)" font-size="8.45" fill="#111" text-anchor="end">AQDS/BQDS FB 0,3 M</text>
<rect x="512.4" y="828.32" width="14.2" height="10.73" fill="#951c1c"/>
<rect x="512.4" y="817.94" width="14.2" height="10.73" fill="#ac2120"/>
<rect x="512.4" y="807.56" width="14.2" height="10.73" fill="#bc2a24"/>
<rect x="512.4" y="797.18" width="14.2" height="10.73" fill="#c83127"/>
<rect x="512.4" y="786.8" width="14.2" height="10.73" fill="#d4382a"/>
<rect x="512.4" y="776.42" width="14.2" height="10.73" fill="#e14f37"/>
<rect x="512.4" y="766.04" width="14.2" height="10.73" fill="#ee6c48"/>
<rect x="512.4" y="755.66" width="14.2" height="10.73" fill="#f88a54"/>
<rect x="512.4" y="745.28" width="14.2" height="10.73" fill="#fa9c5f"/>
<rect x="512.4" y="734.9" width="14.2" height="10.73" fill="#fcae6a"/>
<rect x="512.4" y="724.52" width="14.2" height="10.73" fill="#fdc67c"/>
<rect x="512.4" y="714.14" width="14.2" height="10.73" fill="#fddc8c"/>
<rect x="512.4" y="703.76" width="14.2" height="10.73" fill="#fde699"/>
<rect x="512.4" y="693.38" width="14.2" height="10.73" fill="#feeea5"/>
<rect x="512.4" y="683" width="14.2" height="10.73" fill="#fef5b1"/>
<rect x="512.4" y="672.62" width="14.2" height="10.73" fill="#fdfbbd"/>
<rect x="512.4" y="662.24" width="14.2" height="10.73" fill="#f0f6a9"/>
<rect x="512.4" y="651.86" width="14.2" height="10.73" fill="#e1f094"/>
<rect x="512.4" y="641.48" width="14.2" height="10.73" fill="#d2ea89"/>
<rect x="512.4" y="631.1" width="14.2" height="10.73" fill="#c4e47d"/>
<rect x="512.4" y="620.72" width="14.2" height="10.73" fill="#b1dc73"/>
<rect x="512.4" y="610.34" width="14.2" height="10.73" fill="#9cd269"/>
<rect x="512.4" y="599.96" width="14.2" height="10.73" fill="#88c95f"/>
<rect x="512.4" y="589.58" width="14.2" height="10.73" fill="#6cbd5c"/>
<rect x="512.4" y="579.2" width="14.2" height="10.73" fill="#55b258"/>
<rect x="512.4" y="568.82" width="14.2" height="10.73" fill="#40a754"/>
<rect x="512.4" y="558.44" width="14.2" height="10.73" fill="#319b4f"/>
<rect x="512.4" y="548.06" width="14.2" height="10.73" fill="#248f4a"/>
<rect x="512.4" y="537.68" width="14.2" height="10.73" fill="#1c7d42"/>
<rect x="512.4" y="527.3" width="14.2" height="10.73" fill="#176839"/>
<rect x="512.4" y="527.3" width="14.2" height="311.4" fill="none" stroke="#555" stroke-width="0.5"/>
<line x1="526.6" y1="838.7" x2="529.8" y2="838.7" stroke="#333" stroke-width="0.8"/>
<text x="534" y="842.3" font-size="10.2" fill="#1a1a1a">0</text>
<line x1="526.6" y1="776.42" x2="529.8" y2="776.42" stroke="#333" stroke-width="0.8"/>
<text x="534" y="780.02" font-size="10.2" fill="#1a1a1a">14</text>
<line x1="526.6" y1="714.14" x2="529.8" y2="714.14" stroke="#333" stroke-width="0.8"/>
<text x="534" y="717.74" font-size="10.2" fill="#1a1a1a">27</text>
<line x1="526.6" y1="651.86" x2="529.8" y2="651.86" stroke="#333" stroke-width="0.8"/>
<text x="534" y="655.46" font-size="10.2" fill="#1a1a1a">40</text>
<line x1="526.6" y1="589.58" x2="529.8" y2="589.58" stroke="#333" stroke-width="0.8"/>
<text x="534" y="593.18" font-size="10.2" fill="#1a1a1a">54</text>
<line x1="526.6" y1="527.3" x2="529.8" y2="527.3" stroke="#333" stroke-width="0.8"/>
<text x="534" y="530.9" font-size="10.2" fill="#1a1a1a">67</text>
<text x="459" y="518.2" font-size="10.35" fill="#1a1a1a">Optimization Potenzial / %</text>
</g>
<g id="fig4">
<line x1="702.6" y1="706.32" x2="917.4" y2="706.32" stroke="#ececec" stroke-width="0.9"/>
<line x1="702.6" y1="697.63" x2="917.4" y2="697.63" stroke="#d6d6d6" stroke-width="1"/>
<line x1="702.6" y1="688.94" x2="917.4" y2="688.94" stroke="#ececec" stroke-width="0.9"/>
<line x1="702.6" y1="680.26" x2="917.4" y2="680.26" stroke="#d6d6d6" stroke-width="1"/>
<line x1="702.6" y1="671.58" x2="917.4" y2="671.58" stroke="#ececec" stroke-width="0.9"/>
<line x1="702.6" y1="662.89" x2="917.4" y2="662.89" stroke="#d6d6d6" stroke-width="1"/>
<line x1="702.6" y1="654.21" x2="917.4" y2="654.21" stroke="#ececec" stroke-width="0.9"/>
<line x1="702.6" y1="645.52" x2="917.4" y2="645.52" stroke="#d6d6d6" stroke-width="1"/>
<line x1="702.6" y1="636.84" x2="917.4" y2="636.84" stroke="#ececec" stroke-width="0.9"/>
<line x1="702.6" y1="628.15" x2="917.4" y2="628.15" stroke="#d6d6d6" stroke-width="1"/>
<line x1="702.6" y1="619.46" x2="917.4" y2="619.46" stroke="#ececec" stroke-width="0.9"/>
<line x1="702.6" y1="610.78" x2="917.4" y2="610.78" stroke="#d6d6d6" stroke-width="1"/>
<line x1="702.6" y1="602.1" x2="917.4" y2="602.1" stroke="#ececec" stroke-width="0.9"/>
<line x1="702.6" y1="593.41" x2="917.4" y2="593.41" stroke="#d6d6d6" stroke-width="1"/>
<line x1="702.6" y1="584.72" x2="917.4" y2="584.72" stroke="#ececec" stroke-width="0.9"/>
<line x1="702.6" y1="576.04" x2="917.4" y2="576.04" stroke="#d6d6d6" stroke-width="1"/>
<line x1="702.6" y1="567.36" x2="917.4" y2="567.36" stroke="#ececec" stroke-width="0.9"/>
<line x1="702.6" y1="558.67" x2="917.4" y2="558.67" stroke="#d6d6d6" stroke-width="1"/>
<line x1="702.6" y1="549.98" x2="917.4" y2="549.98" stroke="#ececec" stroke-width="0.9"/>
<rect x="702.6" y="541.3" width="214.8" height="173.7" fill="none" stroke="#3c3c3c" stroke-width="1"/>
<line x1="699.6" y1="715" x2="702.6" y2="715" stroke="#3c3c3c" stroke-width="1"/>
<line x1="917.4" y1="715" x2="914.9" y2="715" stroke="#3c3c3c" stroke-width="1"/>
<text x="698.4" y="717.9" font-size="8.1" fill="#333" text-anchor="end">0</text>
<line x1="699.6" y1="697.63" x2="702.6" y2="697.63" stroke="#3c3c3c" stroke-width="1"/>
<line x1="917.4" y1="697.63" x2="914.9" y2="697.63" stroke="#3c3c3c" stroke-width="1"/>
<text x="698.4" y="700.53" font-size="8.1" fill="#333" text-anchor="end">1</text>
<line x1="699.6" y1="680.26" x2="702.6" y2="680.26" stroke="#3c3c3c" stroke-width="1"/>
<line x1="917.4" y1="680.26" x2="914.9" y2="680.26" stroke="#3c3c3c" stroke-width="1"/>
<text x="698.4" y="683.16" font-size="8.1" fill="#333" text-anchor="end">2</text>
<line x1="699.6" y1="662.89" x2="702.6" y2="662.89" stroke="#3c3c3c" stroke-width="1"/>
<line x1="917.4" y1="662.89" x2="914.9" y2="662.89" stroke="#3c3c3c" stroke-width="1"/>
<text x="698.4" y="665.79" font-size="8.1" fill="#333" text-anchor="end">3</text>
<line x1="699.6" y1="645.52" x2="702.6" y2="645.52" stroke="#3c3c3c" stroke-width="1"/>
<line x1="917.4" y1="645.52" x2="914.9" y2="645.52" stroke="#3c3c3c" stroke-width="1"/>
<text x="698.4" y="648.42" font-size="8.1" fill="#333" text-anchor="end">4</text>
<line x1="699.6" y1="628.15" x2="702.6" y2="628.15" stroke="#3c3c3c" stroke-width="1"/>
<line x1="917.4" y1="628.15" x2="914.9" y2="628.15" stroke="#3c3c3c" stroke-width="1"/>
<text x="698.4" y="631.05" font-size="8.1" fill="#333" text-anchor="end">5</text>
<line x1="699.6" y1="610.78" x2="702.6" y2="610.78" stroke="#3c3c3c" stroke-width="1"/>
<line x1="917.4" y1="610.78" x2="914.9" y2="610.78" stroke="#3c3c3c" stroke-width="1"/>
<text x="698.4" y="613.68" font-size="8.1" fill="#333" text-anchor="end">6</text>
<line x1="699.6" y1="593.41" x2="702.6" y2="593.41" stroke="#3c3c3c" stroke-width="1"/>
<line x1="917.4" y1="593.41" x2="914.9" y2="593.41" stroke="#3c3c3c" stroke-width="1"/>
<text x="698.4" y="596.31" font-size="8.1" fill="#333" text-anchor="end">7</text>
<line x1="699.6" y1="576.04" x2="702.6" y2="576.04" stroke="#3c3c3c" stroke-width="1"/>
<line x1="917.4" y1="576.04" x2="914.9" y2="576.04" stroke="#3c3c3c" stroke-width="1"/>
<text x="698.4" y="578.94" font-size="8.1" fill="#333" text-anchor="end">8</text>
<line x1="699.6" y1="558.67" x2="702.6" y2="558.67" stroke="#3c3c3c" stroke-width="1"/>
<line x1="917.4" y1="558.67" x2="914.9" y2="558.67" stroke="#3c3c3c" stroke-width="1"/>
<text x="698.4" y="561.57" font-size="8.1" fill="#333" text-anchor="end">9</text>
<line x1="699.6" y1="541.3" x2="702.6" y2="541.3" stroke="#3c3c3c" stroke-width="1"/>
<line x1="917.4" y1="541.3" x2="914.9" y2="541.3" stroke="#3c3c3c" stroke-width="1"/>
<text x="698.4" y="544.2" font-size="8.1" fill="#333" text-anchor="end">10</text>
<line x1="702.6" y1="715" x2="704.2" y2="715" stroke="#3c3c3c" stroke-width="0.9"/>
<line x1="915.8" y1="715" x2="917.4" y2="715" stroke="#3c3c3c" stroke-width="0.9"/>
<line x1="702.6" y1="706.32" x2="704.2" y2="706.32" stroke="#3c3c3c" stroke-width="0.9"/>
<line x1="915.8" y1="706.32" x2="917.4" y2="706.32" stroke="#3c3c3c" stroke-width="0.9"/>
<line x1="702.6" y1="697.63" x2="704.2" y2="697.63" stroke="#3c3c3c" stroke-width="0.9"/>
<line x1="915.8" y1="697.63" x2="917.4" y2="697.63" stroke="#3c3c3c" stroke-width="0.9"/>
<line x1="702.6" y1="688.94" x2="704.2" y2="688.94" stroke="#3c3c3c" stroke-width="0.9"/>
<line x1="915.8" y1="688.94" x2="917.4" y2="688.94" stroke="#3c3c3c" stroke-width="0.9"/>
<line x1="702.6" y1="680.26" x2="704.2" y2="680.26" stroke="#3c3c3c" stroke-width="0.9"/>
<line x1="915.8" y1="680.26" x2="917.4" y2="680.26" stroke="#3c3c3c" stroke-width="0.9"/>
<line x1="702.6" y1="671.58" x2="704.2" y2="671.58" stroke="#3c3c3c" stroke-width="0.9"/>
<line x1="915.8" y1="671.58" x2="917.4" y2="671.58" stroke="#3c3c3c" stroke-width="0.9"/>
<line x1="702.6" y1="662.89" x2="704.2" y2="662.89" stroke="#3c3c3c" stroke-width="0.9"/>
<line x1="915.8" y1="662.89" x2="917.4" y2="662.89" stroke="#3c3c3c" stroke-width="0.9"/>
<line x1="702.6" y1="654.21" x2="704.2" y2="654.21" stroke="#3c3c3c" stroke-width="0.9"/>
<line x1="915.8" y1="654.21" x2="917.4" y2="654.21" stroke="#3c3c3c" stroke-width="0.9"/>
<line x1="702.6" y1="645.52" x2="704.2" y2="645.52" stroke="#3c3c3c" stroke-width="0.9"/>
<line x1="915.8" y1="645.52" x2="917.4" y2="645.52" stroke="#3c3c3c" stroke-width="0.9"/>
<line x1="702.6" y1="636.84" x2="704.2" y2="636.84" stroke="#3c3c3c" stroke-width="0.9"/>
<line x1="915.8" y1="636.84" x2="917.4" y2="636.84" stroke="#3c3c3c" stroke-width="0.9"/>
<line x1="702.6" y1="628.15" x2="704.2" y2="628.15" stroke="#3c3c3c" stroke-width="0.9"/>
<line x1="915.8" y1="628.15" x2="917.4" y2="628.15" stroke="#3c3c3c" stroke-width="0.9"/>
<line x1="702.6" y1="619.46" x2="704.2" y2="619.46" stroke="#3c3c3c" stroke-width="0.9"/>
<line x1="915.8" y1="619.46" x2="917.4" y2="619.46" stroke="#3c3c3c" stroke-width="0.9"/>
<line x1="702.6" y1="610.78" x2="704.2" y2="610.78" stroke="#3c3c3c" stroke-width="0.9"/>
<line x1="915.8" y1="610.78" x2="917.4" y2="610.78" stroke="#3c3c3c" stroke-width="0.9"/>
<line x1="702.6" y1="602.1" x2="704.2" y2="602.1" stroke="#3c3c3c" stroke-width="0.9"/>
<line x1="915.8" y1="602.1" x2="917.4" y2="602.1" stroke="#3c3c3c" stroke-width="0.9"/>
<line x1="702.6" y1="593.41" x2="704.2" y2="593.41" stroke="#3c3c3c" stroke-width="0.9"/>
<line x1="915.8" y1="593.41" x2="917.4" y2="593.41" stroke="#3c3c3c" stroke-width="0.9"/>
<line x1="702.6" y1="584.72" x2="704.2" y2="584.72" stroke="#3c3c3c" stroke-width="0.9"/>
<line x1="915.8" y1="584.72" x2="917.4" y2="584.72" stroke="#3c3c3c" stroke-width="0.9"/>
<line x1="702.6" y1="576.04" x2="704.2" y2="576.04" stroke="#3c3c3c" stroke-width="0.9"/>
<line x1="915.8" y1="576.04" x2="917.4" y2="576.04" stroke="#3c3c3c" stroke-width="0.9"/>
<line x1="702.6" y1="567.36" x2="704.2" y2="567.36" stroke="#3c3c3c" stroke-width="0.9"/>
<line x1="915.8" y1="567.36" x2="917.4" y2="567.36" stroke="#3c3c3c" stroke-width="0.9"/>
<line x1="702.6" y1="558.67" x2="704.2" y2="558.67" stroke="#3c3c3c" stroke-width="0.9"/>
<line x1="915.8" y1="558.67" x2="917.4" y2="558.67" stroke="#3c3c3c" stroke-width="0.9"/>
<line x1="702.6" y1="549.98" x2="704.2" y2="549.98" stroke="#3c3c3c" stroke-width="0.9"/>
<line x1="915.8" y1="549.98" x2="917.4" y2="549.98" stroke="#3c3c3c" stroke-width="0.9"/>
<line x1="702.6" y1="541.3" x2="704.2" y2="541.3" stroke="#3c3c3c" stroke-width="0.9"/>
<line x1="915.8" y1="541.3" x2="917.4" y2="541.3" stroke="#3c3c3c" stroke-width="0.9"/>
<line x1="702.6" y1="715" x2="702.6" y2="718" stroke="#3c3c3c" stroke-width="1"/>
<line x1="702.6" y1="541.3" x2="702.6" y2="543.8" stroke="#3c3c3c" stroke-width="0.9"/>
<text x="702.6" y="726.2" font-size="8.1" fill="#333" text-anchor="middle">0</text>
<line x1="724.08" y1="715" x2="724.08" y2="716.6" stroke="#3c3c3c" stroke-width="1"/>
<line x1="724.08" y1="541.3" x2="724.08" y2="542.8" stroke="#3c3c3c" stroke-width="0.9"/>
<line x1="745.56" y1="715" x2="745.56" y2="718" stroke="#3c3c3c" stroke-width="1"/>
<line x1="745.56" y1="541.3" x2="745.56" y2="543.8" stroke="#3c3c3c" stroke-width="0.9"/>
<text x="745.56" y="726.2" font-size="8.1" fill="#333" text-anchor="middle">20</text>
<line x1="767.04" y1="715" x2="767.04" y2="716.6" stroke="#3c3c3c" stroke-width="1"/>
<line x1="767.04" y1="541.3" x2="767.04" y2="542.8" stroke="#3c3c3c" stroke-width="0.9"/>
<line x1="788.52" y1="715" x2="788.52" y2="718" stroke="#3c3c3c" stroke-width="1"/>
<line x1="788.52" y1="541.3" x2="788.52" y2="543.8" stroke="#3c3c3c" stroke-width="0.9"/>
<text x="788.52" y="726.2" font-size="8.1" fill="#333" text-anchor="middle">40</text>
<line x1="810" y1="715" x2="810" y2="716.6" stroke="#3c3c3c" stroke-width="1"/>
<line x1="810" y1="541.3" x2="810" y2="542.8" stroke="#3c3c3c" stroke-width="0.9"/>
<line x1="831.48" y1="715" x2="831.48" y2="718" stroke="#3c3c3c" stroke-width="1"/>
<line x1="831.48" y1="541.3" x2="831.48" y2="543.8" stroke="#3c3c3c" stroke-width="0.9"/>
<text x="831.48" y="726.2" font-size="8.1" fill="#333" text-anchor="middle">60</text>
<line x1="852.96" y1="715" x2="852.96" y2="716.6" stroke="#3c3c3c" stroke-width="1"/>
<line x1="852.96" y1="541.3" x2="852.96" y2="542.8" stroke="#3c3c3c" stroke-width="0.9"/>
<line x1="874.44" y1="715" x2="874.44" y2="718" stroke="#3c3c3c" stroke-width="1"/>
<line x1="874.44" y1="541.3" x2="874.44" y2="543.8" stroke="#3c3c3c" stroke-width="0.9"/>
<text x="874.44" y="726.2" font-size="8.1" fill="#333" text-anchor="middle">80</text>
<line x1="895.92" y1="715" x2="895.92" y2="716.6" stroke="#3c3c3c" stroke-width="1"/>
<line x1="895.92" y1="541.3" x2="895.92" y2="542.8" stroke="#3c3c3c" stroke-width="0.9"/>
<line x1="917.4" y1="715" x2="917.4" y2="718" stroke="#3c3c3c" stroke-width="1"/>
<line x1="917.4" y1="541.3" x2="917.4" y2="543.8" stroke="#3c3c3c" stroke-width="0.9"/>
<text x="917.4" y="726.2" font-size="8.1" fill="#333" text-anchor="middle">100</text>
<text transform="translate(679.8,627.7) rotate(-90)" font-size="8.9" fill="#333" text-anchor="middle">Capacity Density&#160; /&#160; Ah L<tspan font-size="5.8" dy="-3.4">-1</tspan></text>
<text x="808.7" y="739.7" font-size="8.9" fill="#333" text-anchor="middle">Cycles&#160; /&#160; 1</text>
<text x="653.9" y="534.6" font-size="12.4" fill="#222">a)</text>
<polyline points="721.93,671.58 734.82,670.19 745.56,668.97 767.04,667.75 788.52,667.58 810,667.75 831.48,668.45 844.37,669.49 857.26,671.23 874.44,673.66 887.33,675.05 900.22,676.44" fill="none" stroke="#000" stroke-width="4.3" stroke-linejoin="round" stroke-linecap="round"/>
<polyline points="814.3,553.46 820.74,556.93 827.18,559.54 831.48,563.01 835.78,567.36 840.07,570.83 846.52,572.22 852.96,575.69 863.7,579.51 870.14,582.64 874.44,582.64 878.74,585.42 883.03,585.42 889.48,589.94 895.92,594.28 906.66,598.97 917.4,603.48" fill="none" stroke="#e01010" stroke-width="4.3" stroke-linejoin="round" stroke-linecap="round"/>
<text x="840.4" y="569.6" font-size="5.7" fill="#d03030">y = 12.20338 - 0.05862*x</text>
<text x="741.2" y="693.8" font-size="5.7" fill="#222">y = 2.8091 - 0.00439*x</text>
<rect x="708.7" y="629" width="116.4" height="15.3" fill="#fff" stroke="#888" stroke-width="0.6"/>
<line x1="710.5" y1="633" x2="722" y2="633" stroke="#444" stroke-width="0.5"/>
<rect x="714" y="631.2" width="3.6" height="3.6" fill="#000"/>
<text x="724.4" y="635" font-size="5.7" fill="#222">Vanadium discharge 0.3M 50mA cm-2</text>
<line x1="710.5" y1="640.8" x2="722" y2="640.8" stroke="#e05050" stroke-width="0.5"/>
<circle cx="716.0" cy="640.8" r="2.0" fill="#e01010"/>
<text x="724.4" y="642.8" font-size="5.7" fill="#222">Vanadium discharge 1.67M 50mA cm-2</text>
<line x1="1021.8" y1="704.89" x2="1232" y2="704.89" stroke="#ececec" stroke-width="0.9"/>
<line x1="1021.8" y1="698.38" x2="1232" y2="698.38" stroke="#d6d6d6" stroke-width="1"/>
<line x1="1021.8" y1="691.88" x2="1232" y2="691.88" stroke="#ececec" stroke-width="0.9"/>
<line x1="1021.8" y1="685.37" x2="1232" y2="685.37" stroke="#d6d6d6" stroke-width="1"/>
<line x1="1021.8" y1="678.86" x2="1232" y2="678.86" stroke="#ececec" stroke-width="0.9"/>
<line x1="1021.8" y1="672.35" x2="1232" y2="672.35" stroke="#d6d6d6" stroke-width="1"/>
<line x1="1021.8" y1="665.85" x2="1232" y2="665.85" stroke="#ececec" stroke-width="0.9"/>
<line x1="1021.8" y1="659.34" x2="1232" y2="659.34" stroke="#d6d6d6" stroke-width="1"/>
<line x1="1021.8" y1="652.83" x2="1232" y2="652.83" stroke="#ececec" stroke-width="0.9"/>
<line x1="1021.8" y1="646.32" x2="1232" y2="646.32" stroke="#d6d6d6" stroke-width="1"/>
<line x1="1021.8" y1="639.82" x2="1232" y2="639.82" stroke="#ececec" stroke-width="0.9"/>
<line x1="1021.8" y1="633.31" x2="1232" y2="633.31" stroke="#d6d6d6" stroke-width="1"/>
<line x1="1021.8" y1="626.8" x2="1232" y2="626.8" stroke="#ececec" stroke-width="0.9"/>
<line x1="1021.8" y1="620.29" x2="1232" y2="620.29" stroke="#d6d6d6" stroke-width="1"/>
<line x1="1021.8" y1="613.78" x2="1232" y2="613.78" stroke="#ececec" stroke-width="0.9"/>
<line x1="1021.8" y1="607.28" x2="1232" y2="607.28" stroke="#d6d6d6" stroke-width="1"/>
<line x1="1021.8" y1="600.77" x2="1232" y2="600.77" stroke="#ececec" stroke-width="0.9"/>
<line x1="1021.8" y1="594.26" x2="1232" y2="594.26" stroke="#d6d6d6" stroke-width="1"/>
<line x1="1021.8" y1="587.75" x2="1232" y2="587.75" stroke="#ececec" stroke-width="0.9"/>
<line x1="1021.8" y1="581.25" x2="1232" y2="581.25" stroke="#d6d6d6" stroke-width="1"/>
<line x1="1021.8" y1="574.74" x2="1232" y2="574.74" stroke="#ececec" stroke-width="0.9"/>
<line x1="1021.8" y1="568.23" x2="1232" y2="568.23" stroke="#d6d6d6" stroke-width="1"/>
<line x1="1021.8" y1="561.72" x2="1232" y2="561.72" stroke="#ececec" stroke-width="0.9"/>
<line x1="1021.8" y1="555.22" x2="1232" y2="555.22" stroke="#d6d6d6" stroke-width="1"/>
<line x1="1021.8" y1="548.71" x2="1232" y2="548.71" stroke="#ececec" stroke-width="0.9"/>
<rect x="1021.8" y="542.2" width="210.2" height="169.2" fill="none" stroke="#3c3c3c" stroke-width="1"/>
<line x1="1018.8" y1="711.4" x2="1021.8" y2="711.4" stroke="#3c3c3c" stroke-width="1"/>
<line x1="1232" y1="711.4" x2="1229.5" y2="711.4" stroke="#3c3c3c" stroke-width="1"/>
<text x="1017.6" y="714.3" font-size="8.1" fill="#333" text-anchor="end">0,0</text>
<line x1="1018.8" y1="698.38" x2="1021.8" y2="698.38" stroke="#3c3c3c" stroke-width="1"/>
<line x1="1232" y1="698.38" x2="1229.5" y2="698.38" stroke="#3c3c3c" stroke-width="1"/>
<text x="1017.6" y="701.28" font-size="8.1" fill="#333" text-anchor="end">0,2</text>
<line x1="1018.8" y1="685.37" x2="1021.8" y2="685.37" stroke="#3c3c3c" stroke-width="1"/>
<line x1="1232" y1="685.37" x2="1229.5" y2="685.37" stroke="#3c3c3c" stroke-width="1"/>
<text x="1017.6" y="688.27" font-size="8.1" fill="#333" text-anchor="end">0,4</text>
<line x1="1018.8" y1="672.35" x2="1021.8" y2="672.35" stroke="#3c3c3c" stroke-width="1"/>
<line x1="1232" y1="672.35" x2="1229.5" y2="672.35" stroke="#3c3c3c" stroke-width="1"/>
<text x="1017.6" y="675.25" font-size="8.1" fill="#333" text-anchor="end">0,6</text>
<line x1="1018.8" y1="659.34" x2="1021.8" y2="659.34" stroke="#3c3c3c" stroke-width="1"/>
<line x1="1232" y1="659.34" x2="1229.5" y2="659.34" stroke="#3c3c3c" stroke-width="1"/>
<text x="1017.6" y="662.24" font-size="8.1" fill="#333" text-anchor="end">0,8</text>
<line x1="1018.8" y1="646.32" x2="1021.8" y2="646.32" stroke="#3c3c3c" stroke-width="1"/>
<line x1="1232" y1="646.32" x2="1229.5" y2="646.32" stroke="#3c3c3c" stroke-width="1"/>
<text x="1017.6" y="649.22" font-size="8.1" fill="#333" text-anchor="end">1,0</text>
<line x1="1018.8" y1="633.31" x2="1021.8" y2="633.31" stroke="#3c3c3c" stroke-width="1"/>
<line x1="1232" y1="633.31" x2="1229.5" y2="633.31" stroke="#3c3c3c" stroke-width="1"/>
<text x="1017.6" y="636.21" font-size="8.1" fill="#333" text-anchor="end">1,2</text>
<line x1="1018.8" y1="620.29" x2="1021.8" y2="620.29" stroke="#3c3c3c" stroke-width="1"/>
<line x1="1232" y1="620.29" x2="1229.5" y2="620.29" stroke="#3c3c3c" stroke-width="1"/>
<text x="1017.6" y="623.19" font-size="8.1" fill="#333" text-anchor="end">1,4</text>
<line x1="1018.8" y1="607.28" x2="1021.8" y2="607.28" stroke="#3c3c3c" stroke-width="1"/>
<line x1="1232" y1="607.28" x2="1229.5" y2="607.28" stroke="#3c3c3c" stroke-width="1"/>
<text x="1017.6" y="610.18" font-size="8.1" fill="#333" text-anchor="end">1,6</text>
<line x1="1018.8" y1="594.26" x2="1021.8" y2="594.26" stroke="#3c3c3c" stroke-width="1"/>
<line x1="1232" y1="594.26" x2="1229.5" y2="594.26" stroke="#3c3c3c" stroke-width="1"/>
<text x="1017.6" y="597.16" font-size="8.1" fill="#333" text-anchor="end">1,8</text>
<line x1="1018.8" y1="581.25" x2="1021.8" y2="581.25" stroke="#3c3c3c" stroke-width="1"/>
<line x1="1232" y1="581.25" x2="1229.5" y2="581.25" stroke="#3c3c3c" stroke-width="1"/>
<text x="1017.6" y="584.15" font-size="8.1" fill="#333" text-anchor="end">2,0</text>
<line x1="1018.8" y1="568.23" x2="1021.8" y2="568.23" stroke="#3c3c3c" stroke-width="1"/>
<line x1="1232" y1="568.23" x2="1229.5" y2="568.23" stroke="#3c3c3c" stroke-width="1"/>
<text x="1017.6" y="571.13" font-size="8.1" fill="#333" text-anchor="end">2,2</text>
<line x1="1018.8" y1="555.22" x2="1021.8" y2="555.22" stroke="#3c3c3c" stroke-width="1"/>
<line x1="1232" y1="555.22" x2="1229.5" y2="555.22" stroke="#3c3c3c" stroke-width="1"/>
<text x="1017.6" y="558.12" font-size="8.1" fill="#333" text-anchor="end">2,4</text>
<line x1="1018.8" y1="542.2" x2="1021.8" y2="542.2" stroke="#3c3c3c" stroke-width="1"/>
<line x1="1232" y1="542.2" x2="1229.5" y2="542.2" stroke="#3c3c3c" stroke-width="1"/>
<text x="1017.6" y="545.1" font-size="8.1" fill="#333" text-anchor="end">2,6</text>
<line x1="1021.8" y1="711.4" x2="1023.4" y2="711.4" stroke="#3c3c3c" stroke-width="0.9"/>
<line x1="1230.4" y1="711.4" x2="1232" y2="711.4" stroke="#3c3c3c" stroke-width="0.9"/>
<line x1="1021.8" y1="704.89" x2="1023.4" y2="704.89" stroke="#3c3c3c" stroke-width="0.9"/>
<line x1="1230.4" y1="704.89" x2="1232" y2="704.89" stroke="#3c3c3c" stroke-width="0.9"/>
<line x1="1021.8" y1="698.38" x2="1023.4" y2="698.38" stroke="#3c3c3c" stroke-width="0.9"/>
<line x1="1230.4" y1="698.38" x2="1232" y2="698.38" stroke="#3c3c3c" stroke-width="0.9"/>
<line x1="1021.8" y1="691.88" x2="1023.4" y2="691.88" stroke="#3c3c3c" stroke-width="0.9"/>
<line x1="1230.4" y1="691.88" x2="1232" y2="691.88" stroke="#3c3c3c" stroke-width="0.9"/>
<line x1="1021.8" y1="685.37" x2="1023.4" y2="685.37" stroke="#3c3c3c" stroke-width="0.9"/>
<line x1="1230.4" y1="685.37" x2="1232" y2="685.37" stroke="#3c3c3c" stroke-width="0.9"/>
<line x1="1021.8" y1="678.86" x2="1023.4" y2="678.86" stroke="#3c3c3c" stroke-width="0.9"/>
<line x1="1230.4" y1="678.86" x2="1232" y2="678.86" stroke="#3c3c3c" stroke-width="0.9"/>
<line x1="1021.8" y1="672.35" x2="1023.4" y2="672.35" stroke="#3c3c3c" stroke-width="0.9"/>
<line x1="1230.4" y1="672.35" x2="1232" y2="672.35" stroke="#3c3c3c" stroke-width="0.9"/>
<line x1="1021.8" y1="665.85" x2="1023.4" y2="665.85" stroke="#3c3c3c" stroke-width="0.9"/>
<line x1="1230.4" y1="665.85" x2="1232" y2="665.85" stroke="#3c3c3c" stroke-width="0.9"/>
<line x1="1021.8" y1="659.34" x2="1023.4" y2="659.34" stroke="#3c3c3c" stroke-width="0.9"/>
<line x1="1230.4" y1="659.34" x2="1232" y2="659.34" stroke="#3c3c3c" stroke-width="0.9"/>
<line x1="1021.8" y1="652.83" x2="1023.4" y2="652.83" stroke="#3c3c3c" stroke-width="0.9"/>
<line x1="1230.4" y1="652.83" x2="1232" y2="652.83" stroke="#3c3c3c" stroke-width="0.9"/>
<line x1="1021.8" y1="646.32" x2="1023.4" y2="646.32" stroke="#3c3c3c" stroke-width="0.9"/>
<line x1="1230.4" y1="646.32" x2="1232" y2="646.32" stroke="#3c3c3c" stroke-width="0.9"/>
<line x1="1021.8" y1="639.82" x2="1023.4" y2="639.82" stroke="#3c3c3c" stroke-width="0.9"/>
<line x1="1230.4" y1="639.82" x2="1232" y2="639.82" stroke="#3c3c3c" stroke-width="0.9"/>
<line x1="1021.8" y1="633.31" x2="1023.4" y2="633.31" stroke="#3c3c3c" stroke-width="0.9"/>
<line x1="1230.4" y1="633.31" x2="1232" y2="633.31" stroke="#3c3c3c" stroke-width="0.9"/>
<line x1="1021.8" y1="626.8" x2="1023.4" y2="626.8" stroke="#3c3c3c" stroke-width="0.9"/>
<line x1="1230.4" y1="626.8" x2="1232" y2="626.8" stroke="#3c3c3c" stroke-width="0.9"/>
<line x1="1021.8" y1="620.29" x2="1023.4" y2="620.29" stroke="#3c3c3c" stroke-width="0.9"/>
<line x1="1230.4" y1="620.29" x2="1232" y2="620.29" stroke="#3c3c3c" stroke-width="0.9"/>
<line x1="1021.8" y1="613.78" x2="1023.4" y2="613.78" stroke="#3c3c3c" stroke-width="0.9"/>
<line x1="1230.4" y1="613.78" x2="1232" y2="613.78" stroke="#3c3c3c" stroke-width="0.9"/>
<line x1="1021.8" y1="607.28" x2="1023.4" y2="607.28" stroke="#3c3c3c" stroke-width="0.9"/>
<line x1="1230.4" y1="607.28" x2="1232" y2="607.28" stroke="#3c3c3c" stroke-width="0.9"/>
<line x1="1021.8" y1="600.77" x2="1023.4" y2="600.77" stroke="#3c3c3c" stroke-width="0.9"/>
<line x1="1230.4" y1="600.77" x2="1232" y2="600.77" stroke="#3c3c3c" stroke-width="0.9"/>
<line x1="1021.8" y1="594.26" x2="1023.4" y2="594.26" stroke="#3c3c3c" stroke-width="0.9"/>
<line x1="1230.4" y1="594.26" x2="1232" y2="594.26" stroke="#3c3c3c" stroke-width="0.9"/>
<line x1="1021.8" y1="587.75" x2="1023.4" y2="587.75" stroke="#3c3c3c" stroke-width="0.9"/>
<line x1="1230.4" y1="587.75" x2="1232" y2="587.75" stroke="#3c3c3c" stroke-width="0.9"/>
<line x1="1021.8" y1="581.25" x2="1023.4" y2="581.25" stroke="#3c3c3c" stroke-width="0.9"/>
<line x1="1230.4" y1="581.25" x2="1232" y2="581.25" stroke="#3c3c3c" stroke-width="0.9"/>
<line x1="1021.8" y1="574.74" x2="1023.4" y2="574.74" stroke="#3c3c3c" stroke-width="0.9"/>
<line x1="1230.4" y1="574.74" x2="1232" y2="574.74" stroke="#3c3c3c" stroke-width="0.9"/>
<line x1="1021.8" y1="568.23" x2="1023.4" y2="568.23" stroke="#3c3c3c" stroke-width="0.9"/>
<line x1="1230.4" y1="568.23" x2="1232" y2="568.23" stroke="#3c3c3c" stroke-width="0.9"/>
<line x1="1021.8" y1="561.72" x2="1023.4" y2="561.72" stroke="#3c3c3c" stroke-width="0.9"/>
<line x1="1230.4" y1="561.72" x2="1232" y2="561.72" stroke="#3c3c3c" stroke-width="0.9"/>
<line x1="1021.8" y1="555.22" x2="1023.4" y2="555.22" stroke="#3c3c3c" stroke-width="0.9"/>
<line x1="1230.4" y1="555.22" x2="1232" y2="555.22" stroke="#3c3c3c" stroke-width="0.9"/>
<line x1="1021.8" y1="548.71" x2="1023.4" y2="548.71" stroke="#3c3c3c" stroke-width="0.9"/>
<line x1="1230.4" y1="548.71" x2="1232" y2="548.71" stroke="#3c3c3c" stroke-width="0.9"/>
<line x1="1021.8" y1="542.2" x2="1023.4" y2="542.2" stroke="#3c3c3c" stroke-width="0.9"/>
<line x1="1230.4" y1="542.2" x2="1232" y2="542.2" stroke="#3c3c3c" stroke-width="0.9"/>
<line x1="1021.8" y1="711.4" x2="1021.8" y2="714.4" stroke="#3c3c3c" stroke-width="1"/>
<line x1="1021.8" y1="542.2" x2="1021.8" y2="544.7" stroke="#3c3c3c" stroke-width="0.9"/>
<text x="1021.8" y="722.6" font-size="8.1" fill="#333" text-anchor="middle">0</text>
<line x1="1042.82" y1="711.4" x2="1042.82" y2="713" stroke="#3c3c3c" stroke-width="1"/>
<line x1="1042.82" y1="542.2" x2="1042.82" y2="543.7" stroke="#3c3c3c" stroke-width="0.9"/>
<line x1="1063.84" y1="711.4" x2="1063.84" y2="714.4" stroke="#3c3c3c" stroke-width="1"/>
<line x1="1063.84" y1="542.2" x2="1063.84" y2="544.7" stroke="#3c3c3c" stroke-width="0.9"/>
<text x="1063.84" y="722.6" font-size="8.1" fill="#333" text-anchor="middle">20</text>
<line x1="1084.86" y1="711.4" x2="1084.86" y2="713" stroke="#3c3c3c" stroke-width="1"/>
<line x1="1084.86" y1="542.2" x2="1084.86" y2="543.7" stroke="#3c3c3c" stroke-width="0.9"/>
<line x1="1105.88" y1="711.4" x2="1105.88" y2="714.4" stroke="#3c3c3c" stroke-width="1"/>
<line x1="1105.88" y1="542.2" x2="1105.88" y2="544.7" stroke="#3c3c3c" stroke-width="0.9"/>
<text x="1105.88" y="722.6" font-size="8.1" fill="#333" text-anchor="middle">40</text>
<line x1="1126.9" y1="711.4" x2="1126.9" y2="713" stroke="#3c3c3c" stroke-width="1"/>
<line x1="1126.9" y1="542.2" x2="1126.9" y2="543.7" stroke="#3c3c3c" stroke-width="0.9"/>
<line x1="1147.92" y1="711.4" x2="1147.92" y2="714.4" stroke="#3c3c3c" stroke-width="1"/>
<line x1="1147.92" y1="542.2" x2="1147.92" y2="544.7" stroke="#3c3c3c" stroke-width="0.9"/>
<text x="1147.92" y="722.6" font-size="8.1" fill="#333" text-anchor="middle">60</text>
<line x1="1168.94" y1="711.4" x2="1168.94" y2="713" stroke="#3c3c3c" stroke-width="1"/>
<line x1="1168.94" y1="542.2" x2="1168.94" y2="543.7" stroke="#3c3c3c" stroke-width="0.9"/>
<line x1="1189.96" y1="711.4" x2="1189.96" y2="714.4" stroke="#3c3c3c" stroke-width="1"/>
<line x1="1189.96" y1="542.2" x2="1189.96" y2="544.7" stroke="#3c3c3c" stroke-width="0.9"/>
<text x="1189.96" y="722.6" font-size="8.1" fill="#333" text-anchor="middle">80</text>
<line x1="1210.98" y1="711.4" x2="1210.98" y2="713" stroke="#3c3c3c" stroke-width="1"/>
<line x1="1210.98" y1="542.2" x2="1210.98" y2="543.7" stroke="#3c3c3c" stroke-width="0.9"/>
<line x1="1232" y1="711.4" x2="1232" y2="714.4" stroke="#3c3c3c" stroke-width="1"/>
<line x1="1232" y1="542.2" x2="1232" y2="544.7" stroke="#3c3c3c" stroke-width="0.9"/>
<text x="1232" y="722.6" font-size="8.1" fill="#333" text-anchor="middle">100</text>
<text transform="translate(996.3,627) rotate(-90)" font-size="8.9" fill="#333" text-anchor="middle">Capacity Density&#160; /&#160; Ah L<tspan font-size="5.8" dy="-3.4">-1</tspan></text>
<text x="1126.4" y="736.2" font-size="8.9" fill="#333" text-anchor="middle">Cycles&#160; /&#160; 1</text>
<text x="977.8" y="534.1" font-size="12.4" fill="#222">b)</text>
<line x1="1021.8" y1="636.43" x2="1232" y2="663.63" stroke="#f08080" stroke-width="0.6" stroke-dasharray="2,1"/>
<polyline points="1076.45,554.56 1084.86,557.82 1095.37,561.72 1105.88,566.93 1116.39,571.48 1126.9,575.39 1137.41,579.29 1147.92,583.2 1158.43,586.45 1168.94,590.36 1179.45,594.26" fill="none" stroke="#1010e0" stroke-width="4.6" stroke-linejoin="round" stroke-linecap="round"/>
<polyline points="1022.85,627.45 1032.31,632.01 1042.82,636.56 1053.33,640.47 1063.84,643.07 1074.35,645.02 1084.86,646.32 1105.88,649.58 1126.9,651.85 1147.92,654.13 1168.94,655.76 1192.06,657.39" fill="none" stroke="#e01010" stroke-width="4.3" stroke-linejoin="round" stroke-linecap="round"/>
<polyline points="1196.27,657.71 1210.98,659.01 1225.69,659.99" fill="none" stroke="#e01010" stroke-width="4.3" stroke-linejoin="round" stroke-linecap="round"/>
<polyline points="1022.85,657.06 1042.82,659.01 1063.84,660.97 1084.86,662.92 1105.88,665.2 1126.9,666.82" fill="none" stroke="#000" stroke-width="4.2" stroke-linejoin="round" stroke-linecap="round"/>
<text x="1110" y="565.4" font-size="5.7" fill="#2020c0">y = 2.66759 - 0.01199*x</text>
<rect x="1161.5" y="643" width="55" height="6.5" fill="#fff"/>
<text x="1163.9" y="648.1" font-size="5.7" fill="#d03030">y = 1.15191 - 0.00418*x</text>
<text x="1026.8" y="673.7" font-size="5.7" fill="#222">y = 0.8263 - 0.00285*x</text>
<rect x="1104.1" y="682.8" width="123.5" height="23.3" fill="#fff" stroke="#888" stroke-width="0.6"/>
<line x1="1106" y1="686.2" x2="1117" y2="686.2" stroke="#000" stroke-width="0.5"/>
<rect x="1109.7" y="684.4" width="3.6" height="3.6" fill="#000"/>
<text x="1119.4" y="688.2" font-size="5.7" fill="#222">MV/TEMPOL discharge 0.1M 12,5mA cm<tspan font-size="3.5" dy="-2">-2</tspan></text>
<line x1="1106" y1="694.4" x2="1117" y2="694.4" stroke="#e01010" stroke-width="0.5"/>
<circle cx="1111.5" cy="694.4" r="2.0" fill="#e01010"/>
<text x="1119.4" y="696.4" font-size="5.7" fill="#222">MV/TEMPOL discharge 0.3M 12,5mA cm<tspan font-size="3.5" dy="-2">-2</tspan></text>
<line x1="1106" y1="702.6" x2="1117" y2="702.6" stroke="#1010e0" stroke-width="0.5"/>
<polygon points="1111.5,700.4 1113.7,704.2 1109.3,704.2" fill="#1010e0"/>
<text x="1119.4" y="704.6" font-size="5.7" fill="#222">MV/TEMPOL discharge 0.5M 25mA cm<tspan font-size="3.5" dy="-2">-2</tspan></text>
<line x1="838.4" y1="937.86" x2="1051.3" y2="937.86" stroke="#ececec" stroke-width="0.9"/>
<line x1="838.4" y1="932.11" x2="1051.3" y2="932.11" stroke="#d6d6d6" stroke-width="1"/>
<line x1="838.4" y1="926.37" x2="1051.3" y2="926.37" stroke="#ececec" stroke-width="0.9"/>
<line x1="838.4" y1="920.63" x2="1051.3" y2="920.63" stroke="#d6d6d6" stroke-width="1"/>
<line x1="838.4" y1="914.88" x2="1051.3" y2="914.88" stroke="#ececec" stroke-width="0.9"/>
<line x1="838.4" y1="909.14" x2="1051.3" y2="909.14" stroke="#d6d6d6" stroke-width="1"/>
<line x1="838.4" y1="903.4" x2="1051.3" y2="903.4" stroke="#ececec" stroke-width="0.9"/>
<line x1="838.4" y1="897.65" x2="1051.3" y2="897.65" stroke="#d6d6d6" stroke-width="1"/>
<line x1="838.4" y1="891.91" x2="1051.3" y2="891.91" stroke="#ececec" stroke-width="0.9"/>
<line x1="838.4" y1="886.17" x2="1051.3" y2="886.17" stroke="#d6d6d6" stroke-width="1"/>
<line x1="838.4" y1="880.42" x2="1051.3" y2="880.42" stroke="#ececec" stroke-width="0.9"/>
<line x1="838.4" y1="874.68" x2="1051.3" y2="874.68" stroke="#d6d6d6" stroke-width="1"/>
<line x1="838.4" y1="868.94" x2="1051.3" y2="868.94" stroke="#ececec" stroke-width="0.9"/>
<line x1="838.4" y1="863.19" x2="1051.3" y2="863.19" stroke="#d6d6d6" stroke-width="1"/>
<line x1="838.4" y1="857.45" x2="1051.3" y2="857.45" stroke="#ececec" stroke-width="0.9"/>
<line x1="838.4" y1="851.71" x2="1051.3" y2="851.71" stroke="#d6d6d6" stroke-width="1"/>
<line x1="838.4" y1="845.96" x2="1051.3" y2="845.96" stroke="#ececec" stroke-width="0.9"/>
<line x1="838.4" y1="840.22" x2="1051.3" y2="840.22" stroke="#d6d6d6" stroke-width="1"/>
<line x1="838.4" y1="834.48" x2="1051.3" y2="834.48" stroke="#ececec" stroke-width="0.9"/>
<line x1="838.4" y1="828.73" x2="1051.3" y2="828.73" stroke="#d6d6d6" stroke-width="1"/>
<line x1="838.4" y1="822.99" x2="1051.3" y2="822.99" stroke="#ececec" stroke-width="0.9"/>
<line x1="838.4" y1="817.25" x2="1051.3" y2="817.25" stroke="#d6d6d6" stroke-width="1"/>
<line x1="838.4" y1="811.5" x2="1051.3" y2="811.5" stroke="#ececec" stroke-width="0.9"/>
<line x1="838.4" y1="805.76" x2="1051.3" y2="805.76" stroke="#d6d6d6" stroke-width="1"/>
<line x1="838.4" y1="800.02" x2="1051.3" y2="800.02" stroke="#ececec" stroke-width="0.9"/>
<line x1="838.4" y1="794.27" x2="1051.3" y2="794.27" stroke="#d6d6d6" stroke-width="1"/>
<line x1="838.4" y1="788.53" x2="1051.3" y2="788.53" stroke="#ececec" stroke-width="0.9"/>
<line x1="838.4" y1="782.79" x2="1051.3" y2="782.79" stroke="#d6d6d6" stroke-width="1"/>
<line x1="838.4" y1="777.04" x2="1051.3" y2="777.04" stroke="#ececec" stroke-width="0.9"/>
<rect x="838.4" y="771.3" width="212.9" height="172.3" fill="none" stroke="#3c3c3c" stroke-width="1"/>
<line x1="835.4" y1="943.6" x2="838.4" y2="943.6" stroke="#3c3c3c" stroke-width="1"/>
<line x1="1051.3" y1="943.6" x2="1048.8" y2="943.6" stroke="#3c3c3c" stroke-width="1"/>
<text x="834.2" y="946.5" font-size="8.1" fill="#333" text-anchor="end">0,0</text>
<line x1="835.4" y1="932.11" x2="838.4" y2="932.11" stroke="#3c3c3c" stroke-width="1"/>
<line x1="1051.3" y1="932.11" x2="1048.8" y2="932.11" stroke="#3c3c3c" stroke-width="1"/>
<text x="834.2" y="935.01" font-size="8.1" fill="#333" text-anchor="end">0,1</text>
<line x1="835.4" y1="920.63" x2="838.4" y2="920.63" stroke="#3c3c3c" stroke-width="1"/>
<line x1="1051.3" y1="920.63" x2="1048.8" y2="920.63" stroke="#3c3c3c" stroke-width="1"/>
<text x="834.2" y="923.53" font-size="8.1" fill="#333" text-anchor="end">0,2</text>
<line x1="835.4" y1="909.14" x2="838.4" y2="909.14" stroke="#3c3c3c" stroke-width="1"/>
<line x1="1051.3" y1="909.14" x2="1048.8" y2="909.14" stroke="#3c3c3c" stroke-width="1"/>
<text x="834.2" y="912.04" font-size="8.1" fill="#333" text-anchor="end">0,3</text>
<line x1="835.4" y1="897.65" x2="838.4" y2="897.65" stroke="#3c3c3c" stroke-width="1"/>
<line x1="1051.3" y1="897.65" x2="1048.8" y2="897.65" stroke="#3c3c3c" stroke-width="1"/>
<text x="834.2" y="900.55" font-size="8.1" fill="#333" text-anchor="end">0,4</text>
<line x1="835.4" y1="886.17" x2="838.4" y2="886.17" stroke="#3c3c3c" stroke-width="1"/>
<line x1="1051.3" y1="886.17" x2="1048.8" y2="886.17" stroke="#3c3c3c" stroke-width="1"/>
<text x="834.2" y="889.07" font-size="8.1" fill="#333" text-anchor="end">0,5</text>
<line x1="835.4" y1="874.68" x2="838.4" y2="874.68" stroke="#3c3c3c" stroke-width="1"/>
<line x1="1051.3" y1="874.68" x2="1048.8" y2="874.68" stroke="#3c3c3c" stroke-width="1"/>
<text x="834.2" y="877.58" font-size="8.1" fill="#333" text-anchor="end">0,6</text>
<line x1="835.4" y1="863.19" x2="838.4" y2="863.19" stroke="#3c3c3c" stroke-width="1"/>
<line x1="1051.3" y1="863.19" x2="1048.8" y2="863.19" stroke="#3c3c3c" stroke-width="1"/>
<text x="834.2" y="866.09" font-size="8.1" fill="#333" text-anchor="end">0,7</text>
<line x1="835.4" y1="851.71" x2="838.4" y2="851.71" stroke="#3c3c3c" stroke-width="1"/>
<line x1="1051.3" y1="851.71" x2="1048.8" y2="851.71" stroke="#3c3c3c" stroke-width="1"/>
<text x="834.2" y="854.61" font-size="8.1" fill="#333" text-anchor="end">0,8</text>
<line x1="835.4" y1="840.22" x2="838.4" y2="840.22" stroke="#3c3c3c" stroke-width="1"/>
<line x1="1051.3" y1="840.22" x2="1048.8" y2="840.22" stroke="#3c3c3c" stroke-width="1"/>
<text x="834.2" y="843.12" font-size="8.1" fill="#333" text-anchor="end">0,9</text>
<line x1="835.4" y1="828.73" x2="838.4" y2="828.73" stroke="#3c3c3c" stroke-width="1"/>
<line x1="1051.3" y1="828.73" x2="1048.8" y2="828.73" stroke="#3c3c3c" stroke-width="1"/>
<text x="834.2" y="831.63" font-size="8.1" fill="#333" text-anchor="end">1,0</text>
<line x1="835.4" y1="817.25" x2="838.4" y2="817.25" stroke="#3c3c3c" stroke-width="1"/>
<line x1="1051.3" y1="817.25" x2="1048.8" y2="817.25" stroke="#3c3c3c" stroke-width="1"/>
<text x="834.2" y="820.15" font-size="8.1" fill="#333" text-anchor="end">1,1</text>
<line x1="835.4" y1="805.76" x2="838.4" y2="805.76" stroke="#3c3c3c" stroke-width="1"/>
<line x1="1051.3" y1="805.76" x2="1048.8" y2="805.76" stroke="#3c3c3c" stroke-width="1"/>
<text x="834.2" y="808.66" font-size="8.1" fill="#333" text-anchor="end">1,2</text>
<line x1="835.4" y1="794.27" x2="838.4" y2="794.27" stroke="#3c3c3c" stroke-width="1"/>
<line x1="1051.3" y1="794.27" x2="1048.8" y2="794.27" stroke="#3c3c3c" stroke-width="1"/>
<text x="834.2" y="797.17" font-size="8.1" fill="#333" text-anchor="end">1,3</text>
<line x1="835.4" y1="782.79" x2="838.4" y2="782.79" stroke="#3c3c3c" stroke-width="1"/>
<line x1="1051.3" y1="782.79" x2="1048.8" y2="782.79" stroke="#3c3c3c" stroke-width="1"/>
<text x="834.2" y="785.69" font-size="8.1" fill="#333" text-anchor="end">1,4</text>
<line x1="835.4" y1="771.3" x2="838.4" y2="771.3" stroke="#3c3c3c" stroke-width="1"/>
<line x1="1051.3" y1="771.3" x2="1048.8" y2="771.3" stroke="#3c3c3c" stroke-width="1"/>
<text x="834.2" y="774.2" font-size="8.1" fill="#333" text-anchor="end">1,5</text>
<line x1="838.4" y1="943.6" x2="840" y2="943.6" stroke="#3c3c3c" stroke-width="0.9"/>
<line x1="1049.7" y1="943.6" x2="1051.3" y2="943.6" stroke="#3c3c3c" stroke-width="0.9"/>
<line x1="838.4" y1="937.86" x2="840" y2="937.86" stroke="#3c3c3c" stroke-width="0.9"/>
<line x1="1049.7" y1="937.86" x2="1051.3" y2="937.86" stroke="#3c3c3c" stroke-width="0.9"/>
<line x1="838.4" y1="932.11" x2="840" y2="932.11" stroke="#3c3c3c" stroke-width="0.9"/>
<line x1="1049.7" y1="932.11" x2="1051.3" y2="932.11" stroke="#3c3c3c" stroke-width="0.9"/>
<line x1="838.4" y1="926.37" x2="840" y2="926.37" stroke="#3c3c3c" stroke-width="0.9"/>
<line x1="1049.7" y1="926.37" x2="1051.3" y2="926.37" stroke="#3c3c3c" stroke-width="0.9"/>
<line x1="838.4" y1="920.63" x2="840" y2="920.63" stroke="#3c3c3c" stroke-width="0.9"/>
<line x1="1049.7" y1="920.63" x2="1051.3" y2="920.63" stroke="#3c3c3c" stroke-width="0.9"/>
<line x1="838.4" y1="914.88" x2="840" y2="914.88" stroke="#3c3c3c" stroke-width="0.9"/>
<line x1="1049.7" y1="914.88" x2="1051.3" y2="914.88" stroke="#3c3c3c" stroke-width="0.9"/>
<line x1="838.4" y1="909.14" x2="840" y2="909.14" stroke="#3c3c3c" stroke-width="0.9"/>
<line x1="1049.7" y1="909.14" x2="1051.3" y2="909.14" stroke="#3c3c3c" stroke-width="0.9"/>
<line x1="838.4" y1="903.4" x2="840" y2="903.4" stroke="#3c3c3c" stroke-width="0.9"/>
<line x1="1049.7" y1="903.4" x2="1051.3" y2="903.4" stroke="#3c3c3c" stroke-width="0.9"/>
<line x1="838.4" y1="897.65" x2="840" y2="897.65" stroke="#3c3c3c" stroke-width="0.9"/>
<line x1="1049.7" y1="897.65" x2="1051.3" y2="897.65" stroke="#3c3c3c" stroke-width="0.9"/>
<line x1="838.4" y1="891.91" x2="840" y2="891.91" stroke="#3c3c3c" stroke-width="0.9"/>
<line x1="1049.7" y1="891.91" x2="1051.3" y2="891.91" stroke="#3c3c3c" stroke-width="0.9"/>
<line x1="838.4" y1="886.17" x2="840" y2="886.17" stroke="#3c3c3c" stroke-width="0.9"/>
<line x1="1049.7" y1="886.17" x2="1051.3" y2="886.17" stroke="#3c3c3c" stroke-width="0.9"/>
<line x1="838.4" y1="880.42" x2="840" y2="880.42" stroke="#3c3c3c" stroke-width="0.9"/>
<line x1="1049.7" y1="880.42" x2="1051.3" y2="880.42" stroke="#3c3c3c" stroke-width="0.9"/>
<line x1="838.4" y1="874.68" x2="840" y2="874.68" stroke="#3c3c3c" stroke-width="0.9"/>
<line x1="1049.7" y1="874.68" x2="1051.3" y2="874.68" stroke="#3c3c3c" stroke-width="0.9"/>
<line x1="838.4" y1="868.94" x2="840" y2="868.94" stroke="#3c3c3c" stroke-width="0.9"/>
<line x1="1049.7" y1="868.94" x2="1051.3" y2="868.94" stroke="#3c3c3c" stroke-width="0.9"/>
<line x1="838.4" y1="863.19" x2="840" y2="863.19" stroke="#3c3c3c" stroke-width="0.9"/>
<line x1="1049.7" y1="863.19" x2="1051.3" y2="863.19" stroke="#3c3c3c" stroke-width="0.9"/>
<line x1="838.4" y1="857.45" x2="840" y2="857.45" stroke="#3c3c3c" stroke-width="0.9"/>
<line x1="1049.7" y1="857.45" x2="1051.3" y2="857.45" stroke="#3c3c3c" stroke-width="0.9"/>
<line x1="838.4" y1="851.71" x2="840" y2="851.71" stroke="#3c3c3c" stroke-width="0.9"/>
<line x1="1049.7" y1="851.71" x2="1051.3" y2="851.71" stroke="#3c3c3c" stroke-width="0.9"/>
<line x1="838.4" y1="845.96" x2="840" y2="845.96" stroke="#3c3c3c" stroke-width="0.9"/>
<line x1="1049.7" y1="845.96" x2="1051.3" y2="845.96" stroke="#3c3c3c" stroke-width="0.9"/>
<line x1="838.4" y1="840.22" x2="840" y2="840.22" stroke="#3c3c3c" stroke-width="0.9"/>
<line x1="1049.7" y1="840.22" x2="1051.3" y2="840.22" stroke="#3c3c3c" stroke-width="0.9"/>
<line x1="838.4" y1="834.48" x2="840" y2="834.48" stroke="#3c3c3c" stroke-width="0.9"/>
<line x1="1049.7" y1="834.48" x2="1051.3" y2="834.48" stroke="#3c3c3c" stroke-width="0.9"/>
<line x1="838.4" y1="828.73" x2="840" y2="828.73" stroke="#3c3c3c" stroke-width="0.9"/>
<line x1="1049.7" y1="828.73" x2="1051.3" y2="828.73" stroke="#3c3c3c" stroke-width="0.9"/>
<line x1="838.4" y1="822.99" x2="840" y2="822.99" stroke="#3c3c3c" stroke-width="0.9"/>
<line x1="1049.7" y1="822.99" x2="1051.3" y2="822.99" stroke="#3c3c3c" stroke-width="0.9"/>
<line x1="838.4" y1="817.25" x2="840" y2="817.25" stroke="#3c3c3c" stroke-width="0.9"/>
<line x1="1049.7" y1="817.25" x2="1051.3" y2="817.25" stroke="#3c3c3c" stroke-width="0.9"/>
<line x1="838.4" y1="811.5" x2="840" y2="811.5" stroke="#3c3c3c" stroke-width="0.9"/>
<line x1="1049.7" y1="811.5" x2="1051.3" y2="811.5" stroke="#3c3c3c" stroke-width="0.9"/>
<line x1="838.4" y1="805.76" x2="840" y2="805.76" stroke="#3c3c3c" stroke-width="0.9"/>
<line x1="1049.7" y1="805.76" x2="1051.3" y2="805.76" stroke="#3c3c3c" stroke-width="0.9"/>
<line x1="838.4" y1="800.02" x2="840" y2="800.02" stroke="#3c3c3c" stroke-width="0.9"/>
<line x1="1049.7" y1="800.02" x2="1051.3" y2="800.02" stroke="#3c3c3c" stroke-width="0.9"/>
<line x1="838.4" y1="794.27" x2="840" y2="794.27" stroke="#3c3c3c" stroke-width="0.9"/>
<line x1="1049.7" y1="794.27" x2="1051.3" y2="794.27" stroke="#3c3c3c" stroke-width="0.9"/>
<line x1="838.4" y1="788.53" x2="840" y2="788.53" stroke="#3c3c3c" stroke-width="0.9"/>
<line x1="1049.7" y1="788.53" x2="1051.3" y2="788.53" stroke="#3c3c3c" stroke-width="0.9"/>
<line x1="838.4" y1="782.79" x2="840" y2="782.79" stroke="#3c3c3c" stroke-width="0.9"/>
<line x1="1049.7" y1="782.79" x2="1051.3" y2="782.79" stroke="#3c3c3c" stroke-width="0.9"/>
<line x1="838.4" y1="777.04" x2="840" y2="777.04" stroke="#3c3c3c" stroke-width="0.9"/>
<line x1="1049.7" y1="777.04" x2="1051.3" y2="777.04" stroke="#3c3c3c" stroke-width="0.9"/>
<line x1="838.4" y1="771.3" x2="840" y2="771.3" stroke="#3c3c3c" stroke-width="0.9"/>
<line x1="1049.7" y1="771.3" x2="1051.3" y2="771.3" stroke="#3c3c3c" stroke-width="0.9"/>
<line x1="838.4" y1="943.6" x2="838.4" y2="946.6" stroke="#3c3c3c" stroke-width="1"/>
<line x1="838.4" y1="771.3" x2="838.4" y2="773.8" stroke="#3c3c3c" stroke-width="0.9"/>
<text x="838.4" y="954.8" font-size="8.1" fill="#333" text-anchor="middle">0</text>
<line x1="859.69" y1="943.6" x2="859.69" y2="945.2" stroke="#3c3c3c" stroke-width="1"/>
<line x1="859.69" y1="771.3" x2="859.69" y2="772.8" stroke="#3c3c3c" stroke-width="0.9"/>
<line x1="880.98" y1="943.6" x2="880.98" y2="946.6" stroke="#3c3c3c" stroke-width="1"/>
<line x1="880.98" y1="771.3" x2="880.98" y2="773.8" stroke="#3c3c3c" stroke-width="0.9"/>
<text x="880.98" y="954.8" font-size="8.1" fill="#333" text-anchor="middle">20</text>
<line x1="902.27" y1="943.6" x2="902.27" y2="945.2" stroke="#3c3c3c" stroke-width="1"/>
<line x1="902.27" y1="771.3" x2="902.27" y2="772.8" stroke="#3c3c3c" stroke-width="0.9"/>
<line x1="923.56" y1="943.6" x2="923.56" y2="946.6" stroke="#3c3c3c" stroke-width="1"/>
<line x1="923.56" y1="771.3" x2="923.56" y2="773.8" stroke="#3c3c3c" stroke-width="0.9"/>
<text x="923.56" y="954.8" font-size="8.1" fill="#333" text-anchor="middle">40</text>
<line x1="944.85" y1="943.6" x2="944.85" y2="945.2" stroke="#3c3c3c" stroke-width="1"/>
<line x1="944.85" y1="771.3" x2="944.85" y2="772.8" stroke="#3c3c3c" stroke-width="0.9"/>
<line x1="966.14" y1="943.6" x2="966.14" y2="946.6" stroke="#3c3c3c" stroke-width="1"/>
<line x1="966.14" y1="771.3" x2="966.14" y2="773.8" stroke="#3c3c3c" stroke-width="0.9"/>
<text x="966.14" y="954.8" font-size="8.1" fill="#333" text-anchor="middle">60</text>
<line x1="987.43" y1="943.6" x2="987.43" y2="945.2" stroke="#3c3c3c" stroke-width="1"/>
<line x1="987.43" y1="771.3" x2="987.43" y2="772.8" stroke="#3c3c3c" stroke-width="0.9"/>
<line x1="1008.72" y1="943.6" x2="1008.72" y2="946.6" stroke="#3c3c3c" stroke-width="1"/>
<line x1="1008.72" y1="771.3" x2="1008.72" y2="773.8" stroke="#3c3c3c" stroke-width="0.9"/>
<text x="1008.72" y="954.8" font-size="8.1" fill="#333" text-anchor="middle">80</text>
<line x1="1030.01" y1="943.6" x2="1030.01" y2="945.2" stroke="#3c3c3c" stroke-width="1"/>
<line x1="1030.01" y1="771.3" x2="1030.01" y2="772.8" stroke="#3c3c3c" stroke-width="0.9"/>
<line x1="1051.3" y1="943.6" x2="1051.3" y2="946.6" stroke="#3c3c3c" stroke-width="1"/>
<line x1="1051.3" y1="771.3" x2="1051.3" y2="773.8" stroke="#3c3c3c" stroke-width="0.9"/>
<text x="1051.3" y="954.8" font-size="8.1" fill="#333" text-anchor="middle">100</text>
<text transform="translate(812.2,857.5) rotate(-90)" font-size="8.9" fill="#333" text-anchor="middle">Capacity Density&#160; /&#160; Ah L<tspan font-size="5.8" dy="-3.4">-1</tspan></text>
<text x="943.9" y="967.6" font-size="8.9" fill="#333" text-anchor="middle">Cycles&#160; /&#160; 1</text>
<text x="785.8" y="762.2" font-size="12.4" fill="#222">c)</text>
<polyline points="872.46,777.04 880.98,779.34 887.37,782.21 891.62,783.94 893.75,786.23 898.01,793.12 902.27,797.72 906.53,799.44" fill="none" stroke="#1010e0" stroke-width="4.6" stroke-linejoin="round" stroke-linecap="round"/>
<polyline points="909.72,796.57 915.04,798.29 923.56,800.59 932.08,802.89 936.33,804.61 940.59,808.63 946.98,812.08 953.37,815.52 957.62,815.52 970.4,817.82 978.91,820.69 987.43,824.71 995.95,828.16" fill="none" stroke="#1010e0" stroke-width="4.6" stroke-linejoin="round" stroke-linecap="round"/>
<polyline points="1008.72,839.07 1017.24,840.79 1023.62,841.94 1027.88,843.67 1031.07,841.94 1033.2,843.09 1036.4,844.81 1042.78,845.96 1051.3,847.11" fill="none" stroke="#e02020" stroke-width="4.3" stroke-linejoin="round" stroke-linecap="round"/>
<polyline points="849.04,851.71 859.69,854 870.33,855.38 880.98,856.53 891.62,857.68 902.27,858.37 915.04,859.17 919.3,859.98 923.56,861.47 934.2,862.5 944.85,862.5 951.24,863.19 957.62,864.34" fill="none" stroke="#000" stroke-width="4.3" stroke-linejoin="round" stroke-linecap="round"/>
<text x="910.6" y="791" font-size="5.7" fill="#2020c0">y = 1.54118 - 0.00748*x</text>
<text x="871.2" y="850.8" font-size="5.7" fill="#222">y = 0.79701 - 0.00197*x</text>
<text x="985.6" y="855.5" font-size="5.7" fill="#d03030">y = 1.17669 - 0.00338*x</text>
<rect x="921.2" y="905.6" width="119.9" height="24.7" fill="#fff" stroke="#888" stroke-width="0.6"/>
<line x1="923" y1="910.2" x2="934" y2="910.2" stroke="#000" stroke-width="0.5"/>
<rect x="926.7" y="908.4" width="3.6" height="3.6" fill="#000"/>
<text x="936.4" y="912.2" font-size="5.7" fill="#222">AQDS/BQDS discharge 0.1M 5mA cm<tspan font-size="3.5" dy="-2">-2</tspan></text>
<line x1="923" y1="918.05" x2="934" y2="918.05" stroke="#e02020" stroke-width="0.5"/>
<circle cx="928.5" cy="918.05" r="2.0" fill="#e02020"/>
<text x="936.4" y="920.05" font-size="5.7" fill="#222">AQDS/BQDS discharge 0.2M 5mA cm<tspan font-size="3.5" dy="-2">-2</tspan></text>
<line x1="923" y1="925.9" x2="934" y2="925.9" stroke="#1010e0" stroke-width="0.5"/>
<polygon points="928.5,923.7 930.7,927.5 926.3,927.5" fill="#1010e0"/>
<text x="936.4" y="927.9" font-size="5.7" fill="#222">AQDS/BQDS discharge 0.3M 10mA cm<tspan font-size="3.5" dy="-2">-2</tspan></text>
</g>
<text x="25.2" y="371.1" font-size="14.2" font-style="italic" fill="#111" style="font-family:'Liberation Serif','Times New Roman',serif" textLength="506.3" lengthAdjust="spacingAndGlyphs">Figure 1 Comparison of inorganic (Vanadium) and organic (MV/TEMPOL and</text>
<text x="25.2" y="390.65" font-size="14.2" font-style="italic" fill="#111" style="font-family:'Liberation Serif','Times New Roman',serif" textLength="573.3" lengthAdjust="spacingAndGlyphs">AQDS/BQDS)&#160; Flow Batteries concerning Power and Energy Density (including standard</text>
<text x="25.2" y="410.2" font-size="14.2" font-style="italic" fill="#111" style="font-family:'Liberation Serif','Times New Roman',serif" textLength="481.3" lengthAdjust="spacingAndGlyphs">deviation) on the base of several validated laboratory scale Flow Batteries.</text>
<text x="642.3" y="368.6" font-size="14.2" font-style="italic" fill="#111" style="font-family:'Liberation Serif','Times New Roman',serif" textLength="565.7" lengthAdjust="spacingAndGlyphs">Figure 2 Influence of a), b), c) Inner Resistance&#160; as a function of Concentration of Active</text>
<text x="642.3" y="387.6" font-size="14.2" font-style="italic" fill="#111" style="font-family:'Liberation Serif','Times New Roman',serif" textLength="570.7" lengthAdjust="spacingAndGlyphs">Species and and d), e), f) Effective Cellvoltage as a funct&#160;&#160;&#160;&#160; ion of Current Density on the</text>
<text x="642.3" y="406.6" font-size="14.2" font-style="italic" fill="#111" style="font-family:'Liberation Serif','Times New Roman',serif" textLength="600.4" lengthAdjust="spacingAndGlyphs">Specific Costs of the Energy Content, including Optimization Potential at a reference&#160; Current</text>
<text x="642.3" y="425.6" font-size="14.2" font-style="italic" fill="#111" style="font-family:'Liberation Serif','Times New Roman',serif" textLength="580.7" lengthAdjust="spacingAndGlyphs">Density of 12.5 mA cm<tspan dy="-5" font-size="9">-2</tspan><tspan dy="5"> for Laboratory Scale Batteries of a), d) 1.67 M VFBs with 0.82 W</tspan></text>
<text x="642.3" y="444.6" font-size="14.2" font-style="italic" fill="#111" style="font-family:'Liberation Serif','Times New Roman',serif" textLength="528.7" lengthAdjust="spacingAndGlyphs">Power; 8.2 Wh Energy Content, b), e) 0.5 M MV/TEMPOL FBs with 0.55 W Power;</text>
<text x="642.3" y="463.6" font-size="14.2" font-style="italic" fill="#111" style="font-family:'Liberation Serif','Times New Roman',serif" textLength="550.2" lengthAdjust="spacingAndGlyphs">5.5 Wh Energy Content and c), f) 0.3 M AQDS/BQDS&#160; FBs with 0.55 W Power; 5.5 Wh</text>
<text x="642.3" y="482.6" font-size="14.2" font-style="italic" fill="#111" style="font-family:'Liberation Serif','Times New Roman',serif" textLength="104.7" lengthAdjust="spacingAndGlyphs">Energy Content.</text>
<text x="27.5" y="993.75" font-size="14.2" font-style="italic" fill="#111" style="font-family:'Liberation Serif','Times New Roman',serif" textLength="520" lengthAdjust="spacingAndGlyphs">Figure 3 Optimization&#160; Potentials of different Sensitivity Analyses performed with</text>
<text x="27.5" y="1012.5" font-size="14.2" font-style="italic" fill="#111" style="font-family:'Liberation Serif','Times New Roman',serif" textLength="552.5" lengthAdjust="spacingAndGlyphs">Respect&#160; to the energy-specific&#160; Investment Costs of laboratory-scale&#160; VFBs with 1.67 M</text>
<text x="27.5" y="1031.25" font-size="14.2" font-style="italic" fill="#111" style="font-family:'Liberation Serif','Times New Roman',serif" textLength="526.5" lengthAdjust="spacingAndGlyphs">Vanadium&#160; Solutions,&#160; with 0.5 M MV/TEMPOL and those with 0.3 M AQDS/BQDS.</text>
<text x="642.5" y="992.5" font-size="14.2" font-style="italic" fill="#111" style="font-family:'Liberation Serif','Times New Roman',serif" textLength="527.5" lengthAdjust="spacingAndGlyphs">Figure 4 Capacitiy Density with Respect to the Number of Cycles of Charging and</text>
<text x="642.5" y="1011.67" font-size="14.2" font-style="italic" fill="#111" style="font-family:'Liberation Serif','Times New Roman',serif" textLength="600" lengthAdjust="spacingAndGlyphs">Discharging including the Degradation Rates of laboratory-scale&#160; FBs for a) Vanadium 0.3 M</text>
<text x="642.5" y="1030.84" font-size="14.2" font-style="italic" fill="#111" style="font-family:'Liberation Serif','Times New Roman',serif" textLength="592.5" lengthAdjust="spacingAndGlyphs">and 1.67 M, b) MV/TEMPOL 0.1 M, 0.3 M and 0.5 M and c) AQDS/BQDS&#160; 0.1 M, 0.2 M and</text>
<text x="642.5" y="1050.01" font-size="14.2" font-style="italic" fill="#111" style="font-family:'Liberation Serif','Times New Roman',serif" textLength="307.5" lengthAdjust="spacingAndGlyphs">0.3 M by different Current Densities&#160; being used.</text></svg></body></html>
